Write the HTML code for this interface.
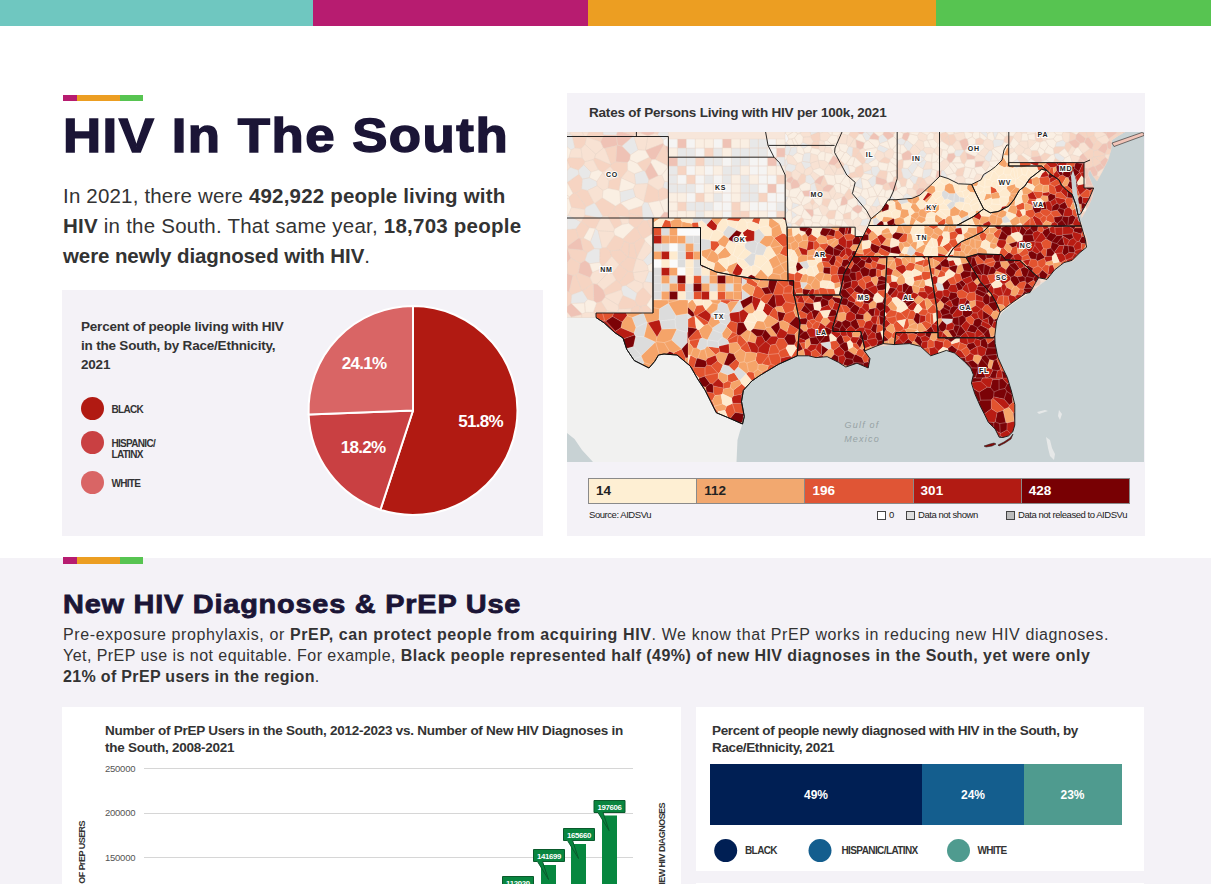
<!DOCTYPE html>
<html><head><meta charset="utf-8">
<style>
*{margin:0;padding:0;box-sizing:border-box}
html,body{width:1211px;height:884px;overflow:hidden;background:#fff}
body{font-family:"Liberation Sans",sans-serif;color:#333;position:relative}
.a{position:absolute}
.bar{position:absolute;top:0;height:26px}
.acc{position:absolute;height:6px}
.sec2{position:absolute;left:0;top:558px;width:1211px;height:326px;background:#f4f2f7}
.card{position:absolute;background:#f4f2f7}
.wcard{position:absolute;background:#fff}
h1{position:absolute;font-family:"Liberation Sans",sans-serif;font-weight:700;color:#1b1536;white-space:nowrap}
.p1{position:absolute;left:63px;top:181px;width:520px;white-space:nowrap;font-size:20.5px;line-height:30px;color:#333;letter-spacing:0}
.p1 b{font-weight:700}
.ct{position:absolute;font-weight:700;color:#333;font-size:13.5px;line-height:19px}
.lg{position:absolute;font-weight:700;font-size:10px;color:#333;line-height:11px;letter-spacing:-0.7px}
.dot{position:absolute;border-radius:50%}
.p2{position:absolute;left:63px;top:624px;width:1140px;font-size:16px;line-height:21px;color:#333;letter-spacing:0.55px;white-space:nowrap}
</style></head><body>
<div class="bar" style="left:0;width:313px;background:#6fc7c0"></div>
<div class="bar" style="left:313px;width:275px;background:#b71c70"></div>
<div class="bar" style="left:588px;width:348px;background:#ec9e22"></div>
<div class="bar" style="left:936px;width:275px;background:#57c451"></div>

<div class="acc" style="left:63px;top:95px;width:14px;background:#b71c70"></div>
<div class="acc" style="left:77px;top:95px;width:43px;background:#ec9e22"></div>
<div class="acc" style="left:120px;top:95px;width:23px;background:#57c451"></div>

<h1 style="left:63px;top:108px;font-size:48px;line-height:56px;letter-spacing:1.35px;transform:scaleX(1.1);transform-origin:0 0;-webkit-text-stroke:1.4px #1b1536">HIV In The South</h1>

<div class="p1"><span style="letter-spacing:0.18px">In 2021, there were <b>492,922 people living with</b></span><br><span style="letter-spacing:0.23px"><b>HIV</b> in the South. That same year, <b>18,703 people</b></span><br><span style="letter-spacing:-0.1px"><b>were newly diagnosed with HIV</b>.</span></div>

<!-- pie card -->
<div class="card" style="left:62px;top:290px;width:481px;height:246px"></div>
<div class="ct" style="left:81px;top:317px;width:230px;letter-spacing:-0.2px">Percent of people living with HIV<br>in the South, by Race/Ethnicity,<br>2021</div>
<div class="dot" style="left:81px;top:397px;width:23px;height:23px;background:#b11a12"></div>
<div class="dot" style="left:81px;top:431px;width:23px;height:23px;background:#c94042"></div>
<div class="dot" style="left:81px;top:471px;width:23px;height:23px;background:#d96565"></div>
<div class="lg" style="left:111.5px;top:404px">BLACK</div>
<div class="lg" style="left:111.5px;top:438px">HISPANIC/<br>LATINX</div>
<div class="lg" style="left:111.5px;top:478px">WHITE</div>
<svg class="a" style="left:0;top:0" width="1211" height="884" viewBox="0 0 1211 884">
<g stroke="#fff" stroke-width="2" stroke-linejoin="round">
<path d="M413,410.5 L413.0,306.0 A104.5,104.5 0 1 1 380.4,509.8 Z" fill="#b11a12"/>
<path d="M413,410.5 L380.4,509.8 A104.5,104.5 0 0 1 308.6,414.5 Z" fill="#c94042"/>
<path d="M413,410.5 L308.6,414.5 A104.5,104.5 0 0 1 413.0,306.0 Z" fill="#d96565"/>
</g>
<g font-family="Liberation Sans" font-weight="700" font-size="17" fill="#fff" text-anchor="middle" letter-spacing="-0.7">
<text x="480.5" y="427">51.8%</text>
<text x="363" y="452.5">18.2%</text>
<text x="364" y="369">24.1%</text>
</g>
</svg>

<!-- map card -->
<div class="card" style="left:567px;top:93px;width:578px;height:443px"></div>
<div class="ct a" style="left:589px;top:103px;font-size:13.5px;letter-spacing:-0.2px;white-space:nowrap">Rates of Persons Living with HIV per 100k, 2021</div>
<svg class="a" style="left:0;top:0" width="1211" height="884" viewBox="0 0 1211 884"><defs><clipPath id="mc"><rect x="567" y="132" width="577" height="330"/></clipPath></defs><g clip-path="url(#mc)"><rect x="567" y="132" width="577" height="330" fill="#c8d2d4"/>
<polygon points="567.0,317.5 596.0,317.5 604.3,323.0 614.6,332.5 623.0,338.0 626.7,349.3 634.2,360.5 649.0,368.0 654.7,361.4 658.5,355.0 664.0,354.0 677.0,355.0 690.2,366.0 697.7,379.0 705.1,390.3 710.7,401.5 716.3,412.7 727.5,417.4 742.5,424.0 740.0,431.0 737.5,440.0 736.5,462.0 593.0,462.0 582.0,450.0 574.5,439.0 567.0,433.0" fill="#f1f1f0"/>
<polygon points="567.0,132.0 1125.0,132.0 1118.0,136.0 1112.0,140.0 1111.0,150.0 1108.0,160.0 1102.0,172.0 1097.0,181.0 1093.0,176.0 1090.0,170.0 1088.0,174.0 1092.0,184.0 1094.0,188.0 1092.0,198.0 1089.0,205.0 1085.0,212.0 1081.0,219.0 1080.6,214.0 1081.6,226.0 1086.0,236.5 1088.0,244.0 1080.6,251.4 1073.0,261.0 1064.0,262.6 1054.5,270.0 1047.0,279.4 1039.6,285.0 1030.0,292.5 1022.8,297.0 1011.6,304.5 1002.2,312.0 996.6,321.0 994.8,336.0 995.1,343.6 997.8,357.1 1003.3,369.3 1007.3,377.5 1011.4,391.0 1014.8,404.6 1014.8,425.0 1012.8,431.8 1008.7,435.8 1003.0,437.5 999.2,437.2 995.1,429.0 988.3,422.3 984.3,414.0 980.2,406.0 974.8,393.8 971.4,383.0 973.4,374.8 970.7,368.0 964.0,361.2 954.4,353.0 946.3,350.4 939.0,353.0 930.7,355.8 920.5,346.4 909.3,343.6 894.4,344.6 875.7,346.4 864.5,351.0 870.0,358.6 868.2,368.0 857.0,363.2 845.8,367.0 838.4,362.3 827.2,356.7 816.0,357.6 808.5,355.8 797.3,355.8 778.7,364.2 760.0,375.4 751.8,381.0 743.4,390.3 741.5,401.5 744.3,416.5 742.5,424.0 727.5,417.4 716.3,412.7 710.7,401.5 705.1,390.3 697.7,379.0 690.2,366.0 677.0,355.0 664.0,354.0 658.5,355.0 654.7,361.4 649.0,368.0 634.2,360.5 626.7,349.3 623.0,338.0 614.6,332.5 604.3,323.0 596.0,317.5 567.0,317.5" fill="#f7e6da"/>
<g stroke="#e8d6cb" stroke-width="0.4">
<path fill="#f6d4c2" d="M654.5,133.4 L657.5,134.4 L659.3,132.0 L654.2,132.0ZM586.7,137.2 L600.6,141.8 L603.6,135.1 L602.9,132.0 L588.7,132.0 L586.3,136.3ZM633.8,135.4 L635.2,133.9 L634.6,132.0 L622.6,132.0ZM641.1,133.2 L641.3,132.0 L634.6,132.0 L635.2,133.9ZM571.9,134.9 L574.8,148.1 L581.0,148.7 L585.1,144.4 L586.7,137.2 L586.3,136.3 L583.8,135.5ZM615.9,161.8 L616.8,145.6 L604.7,148.3 L610.8,164.5ZM668.4,160.9 L668.4,156.8 L665.4,145.8 L663.9,144.5 L655.3,159.6 L666.7,165.2ZM570.0,167.2 L578.4,170.3 L583.8,164.8 L585.2,161.7 L582.2,157.8 L568.8,157.5 L567.0,159.4 L567.0,160.4ZM593.0,159.6 L598.3,169.8 L602.6,172.6 L602.6,172.6 L610.2,166.8 L610.8,164.6 L594.6,157.6ZM627.7,170.2 L627.6,162.4 L615.9,161.8 L610.8,164.5 L610.8,164.6 L610.2,166.8 L619.3,177.1 L621.3,178.0 L621.4,178.0ZM642.9,170.7 L645.1,171.3 L650.8,162.3 L651.8,159.8 L649.2,157.2 L636.9,163.1ZM666.7,165.2 L667.7,167.5 L668.4,167.8 L668.4,160.9ZM572.9,193.3 L576.2,192.9 L581.7,189.0 L582.5,179.1 L579.0,174.1 L567.2,182.4ZM608.8,180.6 L607.9,188.3 L619.1,190.5 L621.3,178.0 L619.3,177.1ZM586.2,207.1 L576.2,192.9 L572.9,193.3 L569.4,196.8 L568.6,198.2 L571.3,207.4 L584.8,209.6ZM587.6,190.4 L581.7,189.0 L576.2,192.9 L586.2,207.1 L594.2,203.1ZM644.0,202.1 L648.3,202.8 L659.2,200.7 L658.1,190.0 L648.0,183.4 L647.7,183.6 L643.7,201.3ZM662.8,187.3 L658.1,190.0 L659.2,200.7 L659.8,201.1 L668.4,197.8 L668.4,189.6ZM615.6,205.9 L602.3,197.7 L594.8,203.2 L602.9,216.4 L607.6,216.3 L613.9,209.6ZM628.6,217.4 L629.3,213.5 L628.8,210.2 L620.5,202.9 L615.6,205.9 L613.9,209.6 L619.1,215.8ZM642.7,217.2 L642.0,205.8 L628.8,210.2 L629.3,213.5ZM584.7,214.8 L581.5,221.5 L589.5,227.7 L595.2,228.6 L595.6,228.5 L600.8,218.2ZM613.9,209.6 L607.6,216.3 L614.5,228.9 L622.2,224.4 L619.1,215.8ZM628.7,223.3 L634.3,227.6 L636.7,228.1 L643.7,220.0 L642.7,217.2 L629.3,213.5 L628.6,217.4ZM646.8,220.2 L650.6,227.5 L653.0,226.8 L653.0,218.2ZM654.6,217.7 L653.6,218.0 L657.5,218.0ZM567.0,229.6 L567.0,245.1 L567.7,246.1 L578.7,237.9 L575.8,228.8ZM575.8,228.8 L578.7,237.9 L580.5,238.4 L583.6,237.9 L589.5,227.7 L581.5,221.5 L580.9,221.8ZM634.3,227.6 L622.9,238.8 L624.3,241.1 L629.5,243.5 L633.7,243.0 L641.8,237.6 L636.7,228.1ZM641.8,237.6 L644.3,238.8 L650.9,234.5 L650.6,227.5 L646.8,220.2 L643.7,220.0 L636.7,228.1ZM568.0,248.7 L567.7,246.1 L567.0,245.1 L567.0,249.5 L567.8,249.1ZM580.5,238.4 L583.2,250.2 L587.5,252.8 L594.6,248.6 L590.4,241.5 L583.6,237.9ZM614.7,235.0 L606.1,247.5 L610.0,251.0 L620.6,249.9 L624.3,241.1 L622.9,238.8ZM628.3,257.1 L629.5,243.5 L624.3,241.1 L620.6,249.9 L627.7,257.2ZM633.7,243.0 L637.1,257.2 L645.2,240.9 L644.3,238.8 L641.8,237.6ZM584.9,260.5 L587.5,252.8 L583.2,250.2 L568.0,248.7 L567.8,249.1 L570.9,258.0 L580.2,263.3ZM611.7,256.3 L610.0,251.0 L606.1,247.5 L602.2,247.7 L599.7,248.9 L599.5,262.5 L602.7,267.0ZM620.6,249.9 L610.0,251.0 L611.7,256.3 L618.9,264.5 L619.5,264.4 L627.7,257.2ZM636.9,258.7 L637.1,257.2 L633.7,243.0 L629.5,243.5 L628.3,257.1 L636.4,258.9ZM567.7,274.0 L567.1,262.8 L567.0,262.8 L567.0,274.1ZM580.2,263.3 L570.9,258.0 L567.1,262.8 L567.7,274.0 L572.9,275.5 L575.6,274.9 L578.3,273.0ZM628.3,257.1 L627.7,257.2 L619.5,264.4 L628.0,271.4 L632.8,271.9 L636.4,258.9ZM575.6,274.9 L581.9,290.9 L582.3,290.9 L592.8,283.7 L590.0,277.6 L578.3,273.0ZM619.4,282.5 L628.0,271.4 L619.5,264.4 L618.9,264.5 L612.4,273.6 L616.1,280.0ZM628.0,271.4 L619.4,282.5 L622.1,286.3 L626.0,285.4 L634.6,280.0 L633.2,272.6 L632.8,271.9ZM572.9,275.5 L569.1,292.0 L571.8,294.8 L581.9,290.9 L575.6,274.9ZM587.7,299.4 L593.8,301.1 L593.3,283.8 L592.8,283.7 L582.3,290.9ZM605.3,295.5 L621.4,289.8 L622.1,286.3 L619.4,282.5 L616.1,280.0 L603.3,289.9ZM571.0,303.2 L571.8,294.8 L569.1,292.0 L567.0,291.3 L567.0,306.5ZM618.6,309.3 L631.0,308.8 L637.3,305.2 L635.0,300.5 L622.9,295.3 L618.1,305.1ZM637.0,293.1 L635.0,300.5 L637.3,305.2 L640.0,306.4 L640.5,306.4 L646.7,305.1 L652.0,296.5 L643.1,287.1ZM593.3,312.4 L596.0,316.8 L596.0,316.8 L596.0,313.0 L605.0,313.0 L607.3,310.8 L601.3,301.4 L596.5,303.0ZM640.0,306.4 L637.3,305.2 L631.0,308.8 L630.6,313.0 L638.9,313.0ZM651.7,310.1 L646.7,305.1 L640.5,306.4 L643.4,313.0 L651.3,313.0ZM640.5,306.4 L640.0,306.4 L638.9,313.0 L643.4,313.0ZM704.4,148.0 L704.4,157.0 L713.4,157.0 L713.4,148.0ZM695.4,157.0 L695.4,166.0 L704.4,166.0 L704.4,157.0ZM677.4,166.0 L677.4,175.0 L686.4,175.0 L686.4,166.0ZM686.4,175.0 L686.4,184.0 L695.4,184.0 L695.4,175.0ZM776.4,175.0 L776.4,184.0 L785.0,184.0 L785.0,175.0ZM695.4,193.0 L695.4,202.0 L704.4,202.0 L704.4,193.0ZM758.4,193.0 L758.4,202.0 L767.4,202.0 L767.4,193.0ZM677.4,202.0 L677.4,211.0 L686.4,211.0 L686.4,202.0ZM731.4,202.0 L731.4,211.0 L740.4,211.0 L740.4,202.0ZM740.4,211.0 L731.4,211.0 L731.4,218.0 L740.4,218.0ZM749.4,211.0 L740.4,211.0 L740.4,218.0 L749.4,218.0ZM776.4,211.0 L776.4,218.0 L785.0,218.0 L785.0,211.0ZM817.7,132.2 L819.7,132.9 L819.8,132.0 L817.6,132.0ZM859.1,134.1 L857.7,132.0 L850.4,132.0 L848.5,134.8 L854.0,138.9 L855.5,139.0ZM893.8,134.6 L895.4,132.0 L889.1,132.0ZM1069.7,133.0 L1071.4,132.2 L1071.4,132.0 L1063.8,132.0ZM1085.8,138.6 L1087.0,137.5 L1086.4,132.0 L1078.9,132.0 L1078.6,132.7ZM1087.0,137.5 L1088.9,137.3 L1094.3,135.3 L1094.8,132.0 L1086.4,132.0ZM1116.8,133.1 L1117.1,133.2 L1120.4,132.0 L1116.4,132.0ZM817.7,132.2 L810.9,135.1 L810.2,136.8 L813.2,141.6 L819.4,141.0 L820.4,140.4 L820.0,133.1 L819.7,132.9ZM945.9,132.0 L945.4,132.0 L939.2,133.9 L941.6,141.2 L941.9,141.2 L948.3,135.8 L949.0,134.7ZM948.3,135.8 L950.1,145.6 L952.2,145.5 L956.8,140.2 L953.7,133.9 L949.0,134.7ZM1006.9,135.6 L1004.9,137.1 L1003.6,140.0 L1003.9,141.9 L1009.8,144.3 L1013.6,137.6 L1013.1,136.2ZM1035.3,140.3 L1036.5,141.6 L1040.1,142.5 L1043.3,141.0 L1040.5,135.2 L1035.4,132.7 L1034.7,133.5ZM1075.4,139.1 L1076.2,134.6 L1071.4,132.2 L1069.7,133.0 L1069.1,141.6ZM1088.9,137.3 L1093.6,144.5 L1096.9,139.5 L1096.8,138.5 L1094.3,135.3ZM1111.8,141.9 L1112.0,140.0 L1118.0,136.0 L1118.5,135.7 L1117.1,133.2 L1116.8,133.1 L1108.8,138.9 L1109.0,140.7ZM1122.4,132.0 L1120.4,132.0 L1117.1,133.2 L1118.5,135.7 L1123.7,132.7ZM819.4,141.0 L813.2,141.6 L811.0,145.1 L811.5,147.9 L819.0,149.2ZM941.9,141.2 L949.2,146.0 L950.1,145.6 L948.3,135.8ZM983.0,144.4 L984.3,140.2 L979.9,137.6 L975.5,139.3 L975.5,143.9 L977.4,145.3ZM1065.8,142.6 L1064.5,146.5 L1064.6,148.4 L1068.0,152.9 L1072.2,145.9 L1068.5,142.1ZM1092.1,149.1 L1093.8,150.6 L1097.6,149.9 L1102.6,144.1 L1096.9,139.5 L1093.6,144.5ZM859.5,151.3 L860.1,149.5 L856.6,147.7 L853.0,147.5 L851.9,156.8 L855.1,157.3 L855.2,157.3ZM1037.5,150.2 L1031.3,150.5 L1031.1,157.3 L1040.3,155.7ZM1055.1,146.6 L1053.1,148.5 L1054.1,153.9 L1058.4,153.2 L1064.6,148.4 L1064.5,146.5ZM1087.8,159.3 L1092.5,157.9 L1093.7,156.5 L1093.8,150.6 L1092.1,149.1 L1089.9,148.6 L1083.2,153.3ZM1093.7,156.5 L1094.6,157.1 L1105.3,154.9 L1105.3,154.8 L1105.1,154.0 L1097.6,149.9 L1093.8,150.6ZM1105.1,154.0 L1105.3,154.8 L1109.7,154.3 L1111.0,150.0 L1111.0,149.8 L1107.6,148.3ZM859.5,151.3 L855.2,157.3 L862.2,164.3 L862.4,164.3 L864.8,162.9 L865.5,160.4ZM878.8,161.7 L878.9,161.9 L888.4,163.8 L890.1,161.6 L890.3,159.4 L884.8,156.7ZM964.8,150.6 L964.1,150.5 L959.6,156.6 L961.8,162.9 L964.3,164.6 L967.1,159.8 L965.9,152.6ZM1028.4,160.8 L1021.0,154.6 L1017.9,155.5 L1017.1,159.3 L1020.0,162.4 L1021.0,162.6 L1027.5,162.6ZM1042.6,161.3 L1046.4,160.0 L1051.3,154.9 L1044.7,152.6 L1040.6,155.9 L1042.4,161.3ZM1094.6,157.1 L1093.7,156.5 L1092.5,157.9 L1093.0,166.1 L1094.7,166.5 L1100.3,163.3 L1100.4,161.4ZM1105.3,157.2 L1105.3,154.9 L1094.6,157.1 L1100.4,161.4ZM844.6,164.1 L840.2,160.1 L834.5,165.3 L836.8,169.1 L843.1,167.1ZM902.9,168.0 L903.4,160.5 L902.2,159.3 L898.2,160.4 L896.1,165.9 L897.4,168.9 L901.3,169.2ZM1011.8,162.3 L1008.8,161.4 L1008.7,161.4 L1008.7,162.6 L1011.9,162.6ZM1060.7,161.4 L1055.2,158.0 L1053.2,162.6 L1060.2,162.6ZM1085.4,167.3 L1087.5,168.7 L1093.0,166.1 L1092.5,157.9 L1087.8,159.3 L1085.5,162.4ZM787.0,179.1 L791.9,176.2 L791.8,172.1 L786.2,170.6 L785.0,174.7 L785.0,176.3ZM847.2,176.0 L849.1,178.3 L859.1,177.3 L854.6,171.7 L850.1,173.0ZM863.9,172.1 L862.4,164.3 L862.2,164.3 L855.6,167.7 L854.6,171.7 L859.1,177.3 L860.1,177.8 L861.0,177.9 L863.9,173.5ZM886.4,179.7 L887.7,171.7 L886.9,170.9 L880.1,170.0 L876.1,176.5ZM903.3,177.4 L901.3,169.2 L897.4,168.9 L895.6,170.4 L896.6,176.1 L899.8,178.8ZM957.4,168.9 L955.0,173.5 L956.9,176.4 L962.9,176.0 L965.1,166.9 L964.9,166.7ZM803.9,173.8 L801.3,173.6 L797.3,180.6 L800.1,185.2 L805.5,182.2 L806.0,175.5ZM820.5,184.9 L823.0,187.7 L827.7,184.2 L824.2,175.7ZM898.9,180.1 L899.8,178.8 L896.6,176.1 L893.5,177.6 L892.7,181.2 L895.2,181.8ZM901.2,186.9 L905.6,186.5 L907.3,179.2 L903.3,177.4 L899.8,178.8 L898.9,180.1ZM918.5,185.0 L923.0,178.2 L922.1,177.2 L918.1,177.0 L915.5,183.6ZM1096.8,175.5 L1093.3,176.4 L1097.0,181.0 L1099.3,176.9ZM814.6,182.7 L817.2,191.3 L821.8,191.7 L822.5,190.8 L823.0,187.7 L820.5,184.9 L814.6,182.6ZM887.3,182.6 L882.8,185.3 L882.7,188.6 L885.4,190.8 L891.1,189.4 L887.9,182.8ZM912.3,188.4 L916.1,191.1 L919.1,187.9 L918.5,185.0 L915.5,183.6 L913.7,183.9ZM919.1,187.9 L924.6,188.2 L926.6,186.3 L927.3,184.1 L924.1,178.8 L923.0,178.2 L918.5,185.0ZM927.3,184.1 L926.6,186.3 L927.8,187.7 L930.6,185.2 L932.1,183.7ZM844.3,194.7 L844.3,195.7 L847.8,200.5 L854.1,197.7 L850.0,189.3 L849.0,188.3ZM926.6,186.3 L924.6,188.2 L924.5,190.9 L927.8,187.7ZM809.8,202.1 L812.3,206.0 L815.2,202.3 L812.8,198.5 L812.4,198.4ZM827.6,207.4 L831.5,198.8 L822.7,198.5 L821.6,204.4ZM911.7,198.4 L912.0,198.4 L918.5,195.6 L916.5,194.3 L912.3,196.6ZM828.6,219.3 L834.5,218.8 L836.3,210.1 L829.0,210.2 L825.5,215.6ZM844.3,213.6 L842.9,214.6 L843.4,218.9 L850.8,218.9 L851.0,211.8ZM1083.7,211.8 L1078.2,215.8 L1079.4,219.7 L1081.0,219.2 L1081.0,219.0 L1085.0,212.0 L1085.3,211.5ZM803.5,220.7 L803.7,219.0 L801.6,216.9 L794.4,223.6 L799.3,226.6ZM1079.4,219.7 L1080.6,223.8 L1081.4,224.0 L1081.0,219.2ZM835.2,224.9 L834.6,225.6 L834.3,227.2 L841.8,227.2 L841.4,226.1ZM1087.8,243.6 L1086.1,244.2 L1086.3,245.7 L1088.0,244.0ZM1069.4,261.1 L1064.0,262.6 L1069.9,261.6ZM886.5,343.9 L883.2,343.6 L879.7,344.9 L879.9,346.0 L886.7,345.3Z"/>
<path fill="#e8e8e8" d="M570.0,134.1 L570.5,132.0 L567.0,132.0 L567.0,134.8ZM603.6,135.1 L616.3,135.3 L617.5,132.0 L602.9,132.0ZM657.5,134.4 L663.2,140.1 L668.4,137.1 L668.4,132.0 L659.3,132.0ZM571.0,150.1 L574.8,148.1 L571.9,134.9 L570.0,134.1 L567.0,134.8 L567.0,146.8ZM630.6,154.9 L638.2,150.0 L633.7,135.8 L621.8,146.1ZM567.2,182.4 L579.0,174.1 L578.4,170.3 L570.0,167.2 L567.0,170.4 L567.0,182.3ZM583.8,164.8 L578.4,170.3 L579.0,174.1 L582.5,179.1 L589.4,177.7 L591.1,172.1ZM635.5,184.3 L647.7,183.6 L648.0,183.4 L649.0,180.0 L645.1,171.3 L642.9,170.7 L634.3,173.7ZM597.2,185.8 L596.8,181.3 L589.4,177.7 L582.5,179.1 L581.7,189.0 L587.6,190.4ZM664.4,181.2 L662.8,187.3 L668.4,189.6 L668.4,181.9ZM619.8,191.7 L620.5,202.9 L635.7,197.1 L633.2,188.6ZM594.8,203.2 L594.2,203.1 L586.2,207.1 L584.8,209.6 L584.7,214.8 L600.8,218.2 L602.9,216.4ZM646.8,220.2 L653.0,218.2 L653.0,218.0 L653.6,218.0 L654.6,217.7 L648.3,202.8 L644.0,202.1 L642.0,205.8 L642.7,217.2 L643.7,220.0ZM567.0,215.7 L567.0,229.6 L575.8,228.8 L580.9,221.8 L568.2,215.1ZM595.6,228.5 L595.2,228.6 L590.4,241.5 L594.6,248.6 L599.7,248.9 L602.2,247.7 L598.2,230.7ZM599.7,248.9 L594.6,248.6 L587.5,252.8 L584.9,260.5 L589.6,263.7 L599.5,262.5ZM653.0,262.5 L653.0,249.4 L643.0,260.4 L647.5,265.7ZM648.8,270.9 L644.6,281.7 L653.0,283.2 L653.0,271.9ZM626.0,285.4 L622.1,286.3 L621.4,289.8 L622.9,295.3 L635.0,300.5 L637.0,293.1ZM584.6,303.0 L587.7,299.4 L582.3,290.9 L581.9,290.9 L571.8,294.8 L571.0,303.2 L571.5,303.5ZM617.8,311.0 L616.3,312.3 L616.1,313.0 L619.8,313.0ZM749.4,139.0 L749.4,148.0 L758.4,148.0 L758.4,139.0ZM758.4,139.0 L758.4,148.0 L767.4,148.0 L767.4,139.0ZM677.4,148.0 L677.4,157.0 L686.4,157.0 L686.4,148.0ZM686.4,148.0 L686.4,157.0 L695.4,157.0 L695.4,148.0ZM713.4,148.0 L713.4,157.0 L722.4,157.0 L722.4,148.0ZM731.4,148.0 L731.4,157.0 L740.4,157.0 L740.4,148.0ZM740.4,148.0 L740.4,157.0 L749.4,157.0 L749.4,148.0ZM749.4,148.0 L749.4,157.0 L758.4,157.0 L758.4,148.0ZM758.4,148.0 L758.4,157.0 L767.4,157.0 L767.4,148.0ZM677.4,157.0 L677.4,166.0 L686.4,166.0 L686.4,157.0ZM686.4,157.0 L686.4,166.0 L695.4,166.0 L695.4,157.0ZM704.4,157.0 L704.4,166.0 L713.4,166.0 L713.4,157.0ZM713.4,157.0 L713.4,166.0 L722.4,166.0 L722.4,157.0ZM731.4,157.0 L731.4,166.0 L740.4,166.0 L740.4,157.0ZM740.4,157.0 L740.4,166.0 L749.4,166.0 L749.4,157.0ZM776.4,157.0 L776.4,166.0 L785.0,166.0 L785.0,157.0ZM677.4,175.0 L677.4,166.0 L668.4,166.0 L668.4,175.0ZM722.4,166.0 L722.4,175.0 L731.4,175.0 L731.4,166.0ZM731.4,166.0 L731.4,175.0 L740.4,175.0 L740.4,166.0ZM677.4,184.0 L677.4,175.0 L668.4,175.0 L668.4,184.0ZM704.4,175.0 L704.4,184.0 L713.4,184.0 L713.4,175.0ZM722.4,175.0 L722.4,184.0 L731.4,184.0 L731.4,175.0ZM740.4,175.0 L740.4,184.0 L749.4,184.0 L749.4,175.0ZM677.4,193.0 L677.4,184.0 L668.4,184.0 L668.4,193.0ZM677.4,184.0 L677.4,193.0 L686.4,193.0 L686.4,184.0ZM686.4,184.0 L686.4,193.0 L695.4,193.0 L695.4,184.0ZM740.4,184.0 L740.4,193.0 L749.4,193.0 L749.4,184.0ZM749.4,184.0 L749.4,193.0 L758.4,193.0 L758.4,184.0ZM713.4,193.0 L713.4,202.0 L722.4,202.0 L722.4,193.0ZM740.4,193.0 L740.4,202.0 L749.4,202.0 L749.4,193.0ZM749.4,193.0 L749.4,202.0 L758.4,202.0 L758.4,193.0ZM686.4,202.0 L686.4,211.0 L695.4,211.0 L695.4,202.0ZM695.4,202.0 L695.4,211.0 L704.4,211.0 L704.4,202.0ZM704.4,202.0 L704.4,211.0 L713.4,211.0 L713.4,202.0ZM776.4,202.0 L776.4,211.0 L785.0,211.0 L785.0,202.0ZM704.4,211.0 L695.4,211.0 L695.4,218.0 L704.4,218.0ZM817.6,132.0 L810.1,132.0 L810.9,135.1 L817.7,132.2ZM870.6,136.2 L873.9,132.6 L873.9,132.0 L866.2,132.0ZM909.6,133.3 L910.1,132.0 L907.2,132.0 L907.3,132.2ZM986.1,132.0 L979.8,132.0 L987.3,138.1 L987.7,133.6ZM994.6,139.2 L995.2,139.0 L998.5,132.0 L992.7,132.0ZM862.2,134.3 L866.0,141.2 L868.3,140.5 L869.5,139.1 L870.6,136.2 L866.2,132.0 L864.1,132.0ZM888.0,139.9 L882.8,134.3 L879.1,136.4 L878.4,140.1 L879.6,143.8 L887.5,141.0ZM786.6,142.7 L786.6,142.6 L785.0,142.5 L785.0,148.2ZM802.7,142.0 L799.9,145.3 L803.2,149.1 L809.2,144.9ZM905.8,140.8 L901.8,138.1 L896.5,139.5 L897.2,143.7 L900.5,145.0 L903.5,145.0ZM909.5,150.9 L913.3,145.1 L907.3,140.3 L905.8,140.8 L903.5,145.0 L907.4,150.6ZM975.5,143.9 L969.0,146.2 L968.1,148.1 L976.9,152.1 L977.4,145.3ZM992.7,140.9 L993.7,147.8 L1002.3,145.6 L1003.9,141.9 L1003.6,140.0 L995.2,139.0 L994.6,139.2ZM1063.0,139.8 L1056.3,142.2 L1055.1,146.6 L1064.5,146.5 L1065.8,142.6ZM791.2,147.5 L786.6,142.7 L785.0,148.2 L785.0,154.5 L787.1,155.4 L788.7,154.9ZM794.8,146.7 L791.2,147.5 L788.7,154.9 L792.7,156.2 L797.2,152.7 L796.9,146.7ZM849.4,146.3 L848.5,146.4 L846.1,152.3 L851.1,156.9 L851.9,156.8 L853.0,147.5ZM889.0,149.0 L879.3,144.7 L877.0,148.0 L877.4,150.1 L884.0,153.0ZM917.6,155.0 L924.2,158.4 L926.8,154.1 L923.0,149.9 L920.7,150.6ZM955.7,150.0 L954.0,152.9 L955.7,156.8 L959.6,156.6 L964.1,150.5 L962.7,149.6ZM803.1,154.7 L802.2,161.3 L810.0,162.5 L810.9,153.4 L810.2,152.5 L804.6,153.0ZM874.7,155.2 L869.0,155.5 L865.5,160.4 L864.8,162.9 L867.8,163.9 L876.2,158.6ZM913.0,159.5 L913.7,161.4 L917.4,164.7 L924.4,159.6 L924.2,158.4 L917.6,155.0 L913.5,156.9ZM985.2,160.1 L989.1,162.0 L990.7,161.1 L992.7,153.8 L991.7,150.0 L989.3,150.4 L984.4,157.2ZM1054.0,154.0 L1055.2,158.0 L1060.7,161.4 L1063.2,160.8 L1065.1,157.9 L1058.4,153.2 L1054.1,153.9ZM785.0,160.2 L785.0,168.3 L788.0,163.2 L786.6,158.8ZM795.3,169.5 L796.2,165.3 L788.0,163.2 L785.0,168.3 L785.0,169.7 L786.2,170.6 L791.8,172.1ZM801.1,162.1 L805.0,169.6 L811.1,166.3 L810.8,163.1 L810.0,162.5 L802.2,161.3ZM913.7,161.4 L907.6,168.4 L912.3,174.6 L917.8,165.7 L917.4,164.7ZM917.8,165.7 L923.1,169.1 L926.5,161.3 L924.4,159.6 L917.4,164.7ZM1020.0,162.4 L1017.1,159.3 L1011.8,162.3 L1011.9,162.6 L1020.0,162.6ZM786.2,170.6 L785.0,169.7 L785.0,174.7ZM844.0,174.2 L845.8,175.8 L847.2,176.0 L850.1,173.0 L848.1,165.2 L846.1,163.9 L844.6,164.1 L843.1,167.1ZM871.0,169.4 L863.9,172.1 L863.9,173.5 L872.2,174.8ZM873.3,175.7 L876.0,176.5 L876.1,176.5 L880.1,170.0 L878.0,166.0 L871.6,166.7 L871.0,169.4 L872.2,174.8ZM907.3,179.2 L909.4,178.4 L912.4,175.2 L912.3,174.6 L907.6,168.4 L902.9,168.0 L901.3,169.2 L903.3,177.4ZM924.1,178.8 L930.0,175.9 L932.6,169.3 L932.1,168.7 L923.3,169.4 L922.1,177.2 L923.0,178.2ZM815.0,181.0 L810.4,174.5 L806.0,175.5 L805.5,182.2 L810.7,184.5 L814.6,182.7 L814.6,182.6ZM867.6,180.3 L871.6,186.9 L872.9,187.0 L875.9,184.0 L876.0,176.5 L873.3,175.7ZM913.7,183.9 L915.5,183.6 L918.1,177.0 L912.4,175.2 L909.4,178.4ZM943.6,170.3 L941.3,170.5 L940.6,176.2 L947.1,178.2 L947.0,175.1ZM817.2,191.3 L814.6,182.7 L810.7,184.5 L810.2,190.0 L812.4,193.2ZM861.0,177.9 L860.1,177.8 L852.8,185.4 L862.5,189.4 L863.0,189.0 L861.3,178.3ZM785.0,196.2 L785.0,204.2 L788.4,196.7ZM860.7,195.2 L856.9,198.1 L857.4,204.7 L862.3,206.7 L866.5,204.3 L866.1,199.5ZM871.5,206.0 L876.3,207.0 L880.3,205.1 L877.7,196.3 L877.7,196.3 L877.6,196.3ZM892.0,196.0 L887.8,198.2 L887.7,200.7 L888.3,199.7 L895.8,199.7ZM912.3,196.6 L906.7,193.0 L903.3,195.9 L902.9,199.1 L911.7,198.4ZM788.9,210.1 L785.0,205.1 L785.0,214.6ZM800.6,204.9 L792.3,202.2 L791.5,209.6ZM797.8,215.0 L791.1,210.2 L792.1,218.9ZM866.2,226.2 L870.1,219.6 L868.0,218.4 L862.2,219.6 L859.7,225.4ZM792.0,223.9 L790.7,223.0 L787.9,222.5 L786.4,224.0 L787.0,227.2 L792.1,227.2ZM1040.6,282.3 L1039.4,285.1 L1039.4,285.2 L1039.6,285.0 L1043.9,281.7ZM1012.7,303.6 L1012.5,302.5 L1012.1,302.8 L1007.9,306.1 L1008.9,306.7 L1011.6,304.5 L1012.7,303.8Z"/>
<path fill="#f8e2d3" d="M570.0,134.1 L571.9,134.9 L583.8,135.5 L582.2,132.0 L570.5,132.0ZM583.8,135.5 L586.3,136.3 L588.7,132.0 L582.2,132.0ZM603.4,147.9 L600.6,141.8 L586.7,137.2 L585.1,144.4 L595.8,154.2ZM633.7,135.8 L638.2,150.0 L645.4,150.3 L648.0,135.8 L641.1,133.2 L635.2,133.9 L633.8,135.4ZM648.0,135.8 L645.4,150.3 L645.4,150.3 L663.4,143.3 L663.2,140.1 L657.5,134.4 L654.5,133.4ZM571.0,150.1 L568.8,157.5 L582.2,157.8 L581.0,148.7 L574.8,148.1ZM582.2,157.8 L585.2,161.7 L593.0,159.6 L594.6,157.6 L595.8,154.2 L585.1,144.4 L581.0,148.7ZM610.8,164.6 L610.8,164.5 L604.7,148.3 L603.4,147.9 L595.8,154.2 L594.6,157.6ZM570.0,167.2 L567.0,160.4 L567.0,170.4ZM585.2,161.7 L583.8,164.8 L591.1,172.1 L598.3,169.8 L593.0,159.6ZM610.2,166.8 L602.6,172.6 L608.8,180.6 L619.3,177.1ZM635.3,184.4 L635.5,184.3 L634.3,173.7 L627.7,170.2 L621.4,178.0ZM602.6,172.6 L602.6,172.6 L596.8,181.3 L597.2,185.8 L603.1,190.5 L607.9,188.3 L608.8,180.6ZM633.2,188.6 L635.7,197.1 L643.7,201.3 L647.7,183.6 L635.5,184.3 L635.3,184.4ZM649.0,180.0 L648.0,183.4 L658.1,190.0 L662.8,187.3 L664.4,181.2 L661.9,174.9 L658.4,175.6ZM594.8,203.2 L602.3,197.7 L603.1,190.5 L597.2,185.8 L587.6,190.4 L594.2,203.1ZM571.3,207.4 L568.2,215.1 L580.9,221.8 L581.5,221.5 L584.7,214.8 L584.8,209.6ZM600.8,218.2 L595.6,228.5 L598.2,230.7 L613.9,231.7 L614.5,228.9 L607.6,216.3 L602.9,216.4ZM622.2,224.4 L628.7,223.3 L628.6,217.4 L619.1,215.8ZM602.2,247.7 L606.1,247.5 L614.7,235.0 L613.9,231.7 L598.2,230.7ZM645.2,240.9 L637.1,257.2 L636.9,258.7 L643.0,260.4 L653.0,249.4 L653.0,248.7ZM612.4,273.6 L618.9,264.5 L611.7,256.3 L602.7,267.0 L602.9,268.0 L607.7,272.9ZM647.5,265.7 L643.0,260.4 L636.9,258.7 L636.4,258.9 L632.8,271.9 L633.2,272.6 L648.5,270.4ZM607.7,272.9 L602.9,268.0 L592.5,272.3 L590.0,277.6 L592.8,283.7 L593.3,283.8 L597.1,284.2ZM616.1,280.0 L612.4,273.6 L607.7,272.9 L597.1,284.2 L603.3,289.9ZM633.2,272.6 L634.6,280.0 L642.9,283.3 L644.6,281.7 L648.8,270.9 L648.5,270.4ZM634.6,280.0 L626.0,285.4 L637.0,293.1 L643.1,287.1 L642.9,283.3ZM644.6,281.7 L642.9,283.3 L643.1,287.1 L652.0,296.5 L653.0,296.2 L653.0,283.2ZM601.3,301.4 L607.3,310.8 L616.3,312.3 L617.8,311.0 L618.6,309.3 L618.1,305.1 L605.0,297.2ZM605.0,297.2 L618.1,305.1 L622.9,295.3 L621.4,289.8 L605.3,295.5ZM616.3,312.3 L607.3,310.8 L605.0,313.0 L616.1,313.0ZM618.6,309.3 L617.8,311.0 L619.8,313.0 L630.6,313.0 L631.0,308.8ZM581.7,314.6 L571.1,316.9 L571.2,317.5 L581.6,317.5ZM596.0,316.8 L593.3,312.4 L585.3,312.3 L582.1,313.8 L581.7,314.6 L581.6,317.5 L595.9,317.5ZM651.7,310.1 L651.3,313.0 L653.0,313.0 L653.0,310.3ZM810.1,132.0 L801.6,132.0 L800.4,133.1 L800.2,133.6 L803.1,137.1 L810.2,136.8 L810.9,135.1ZM930.7,132.1 L934.0,134.0 L937.2,132.7 L937.3,132.0 L930.6,132.0ZM972.7,133.6 L973.7,132.0 L967.8,132.0ZM1026.9,132.0 L1020.2,132.0 L1022.2,133.2 L1026.4,133.2ZM1047.0,139.4 L1048.1,132.0 L1041.9,132.0 L1040.5,135.2 L1043.3,141.0 L1045.6,140.9ZM811.0,145.1 L813.2,141.6 L810.2,136.8 L803.1,137.1 L802.7,142.0 L809.2,144.9ZM820.4,140.4 L824.3,141.4 L827.0,140.4 L831.1,135.2 L827.4,132.0 L823.0,132.0 L820.0,133.1ZM837.5,135.9 L838.1,142.6 L838.8,143.6 L846.4,144.3 L847.5,135.1 L840.4,133.3ZM848.5,134.8 L847.5,135.1 L846.4,144.3 L848.5,146.4 L849.4,146.3 L854.0,138.9ZM923.4,141.5 L927.1,140.1 L927.3,135.2 L920.5,132.0 L919.6,132.0 L917.3,135.5 L918.4,139.4ZM939.2,133.9 L937.2,132.7 L934.0,134.0 L933.5,139.3 L937.9,144.0 L941.6,141.2ZM954.0,133.4 L953.7,133.9 L956.8,140.2 L959.3,141.1 L965.5,138.2 L964.0,132.0 L962.6,132.0ZM1016.2,132.1 L1013.1,136.2 L1013.6,137.6 L1018.7,143.0 L1021.1,140.8 L1022.2,133.2 L1020.2,132.0 L1019.1,132.0ZM1069.7,133.0 L1063.8,132.0 L1063.2,132.0 L1061.7,135.1 L1063.0,139.8 L1065.8,142.6 L1068.5,142.1 L1069.1,141.6ZM1094.3,135.3 L1096.8,138.5 L1106.1,134.8 L1106.0,134.0 L1102.6,132.0 L1094.8,132.0ZM1096.9,139.5 L1102.6,144.1 L1106.9,143.3 L1109.0,140.7 L1108.8,138.9 L1106.1,134.8 L1096.8,138.5ZM820.4,140.4 L819.4,141.0 L819.0,149.2 L820.6,151.8 L823.8,151.6 L825.6,146.9 L824.3,141.4ZM855.5,139.0 L854.0,138.9 L849.4,146.3 L853.0,147.5 L856.6,147.7 L855.8,139.4ZM920.7,150.6 L923.0,149.9 L924.4,147.5 L923.4,141.5 L918.4,139.4 L914.7,144.5ZM959.3,141.1 L956.8,140.2 L952.2,145.5 L955.7,150.0 L962.7,149.6ZM989.3,150.4 L991.7,150.0 L993.3,148.8 L993.7,147.8 L992.7,140.9 L987.3,138.6 L984.3,140.2 L983.0,144.4 L984.6,147.4ZM1021.1,140.8 L1018.7,143.0 L1018.7,144.0 L1025.2,148.7 L1028.2,147.9 L1027.6,140.8ZM1027.6,140.8 L1028.2,147.9 L1029.5,148.4 L1036.5,141.6 L1035.3,140.3 L1028.6,139.4ZM1082.6,153.3 L1083.2,153.3 L1089.9,148.6 L1084.3,142.3 L1080.1,143.3 L1078.1,147.3ZM825.6,146.9 L823.8,151.6 L825.3,152.7 L832.0,153.6 L832.2,151.0 L830.7,147.4ZM865.4,149.5 L863.2,148.0 L860.1,149.5 L859.5,151.3 L865.5,160.4 L869.0,155.5ZM890.3,159.4 L892.4,157.5 L894.2,152.3 L892.6,149.3 L890.3,148.5 L889.0,149.0 L884.0,153.0 L884.8,156.7ZM913.5,156.9 L917.6,155.0 L920.7,150.6 L914.7,144.5 L913.3,145.1 L909.5,150.9ZM934.6,148.9 L931.2,147.4 L924.4,147.5 L923.0,149.9 L926.8,154.1 L932.2,153.9 L933.9,152.3ZM942.6,149.7 L937.3,146.3 L934.6,148.9 L933.9,152.3 L939.4,156.7 L940.9,156.9ZM977.7,153.9 L984.4,157.2 L989.3,150.4 L984.6,147.4 L977.7,153.6ZM1009.0,154.9 L1014.4,151.4 L1013.9,148.9 L1012.3,148.0 L1008.7,149.0 L1008.7,154.8ZM1025.2,148.7 L1018.7,144.0 L1013.9,148.9 L1014.4,151.4 L1017.9,155.5 L1021.0,154.6 L1023.0,152.8ZM1031.3,150.5 L1029.5,148.4 L1028.2,147.9 L1025.2,148.7 L1023.0,152.8 L1031.1,157.3 L1031.1,157.3ZM1072.2,154.5 L1075.6,148.4 L1072.2,145.9 L1068.0,152.9 L1069.5,155.4 L1069.8,155.5ZM787.1,155.4 L786.6,158.8 L788.0,163.2 L796.2,165.3 L797.6,163.1 L792.7,156.2 L788.7,154.9ZM810.0,162.5 L810.8,163.1 L818.2,160.7 L818.5,160.3 L817.8,155.2 L810.9,153.4ZM884.0,153.0 L877.4,150.1 L874.7,155.2 L876.2,158.6 L878.8,161.7 L884.8,156.7ZM974.4,159.3 L975.2,161.5 L984.4,161.0 L985.2,160.1 L984.4,157.2 L977.7,153.9 L975.4,156.4ZM1071.9,161.4 L1073.2,162.6 L1077.3,162.6 L1079.8,158.5 L1079.5,156.6 L1072.2,154.5 L1069.8,155.5ZM1105.3,154.8 L1105.3,154.9 L1105.3,157.2 L1108.1,159.8 L1109.7,154.3ZM796.2,165.3 L795.3,169.5 L801.3,173.6 L803.9,173.8 L805.0,169.6 L801.1,162.1 L797.6,163.1ZM818.2,160.7 L810.8,163.1 L811.1,166.3 L813.1,169.9 L820.0,167.8ZM828.8,164.3 L828.5,163.0 L824.7,160.5 L818.5,160.3 L818.2,160.7 L820.0,167.8 L824.3,170.5 L828.7,164.3ZM828.8,164.3 L828.7,164.3 L835.0,174.4 L836.8,169.1 L834.5,165.3ZM871.6,166.7 L867.8,163.9 L864.8,162.9 L862.4,164.3 L863.9,172.1 L871.0,169.4ZM923.3,169.4 L932.1,168.7 L932.0,162.7 L931.6,162.1 L926.5,161.3 L923.1,169.1ZM940.8,170.3 L941.3,170.5 L943.6,170.3 L948.8,165.4 L949.7,163.0 L946.5,159.0 L944.5,158.8 L939.5,163.6ZM985.2,160.1 L984.4,161.0 L981.6,166.4 L985.8,171.4 L989.8,165.4 L989.1,162.0ZM1071.9,161.4 L1070.3,162.6 L1073.2,162.6ZM793.5,178.9 L797.3,180.6 L801.3,173.6 L795.3,169.5 L791.8,172.1 L791.9,176.2ZM810.4,174.5 L812.9,171.3 L813.1,169.9 L811.1,166.3 L805.0,169.6 L803.9,173.8 L806.0,175.5ZM812.9,171.3 L810.4,174.5 L815.0,181.0 L820.2,176.2ZM828.7,164.3 L824.3,170.5 L824.7,174.4 L834.4,175.6 L835.0,174.8 L835.0,174.4ZM836.8,169.1 L835.0,174.4 L835.0,174.8 L844.0,174.2 L843.1,167.1ZM1103.9,167.7 L1097.7,171.9 L1096.8,175.5 L1099.3,176.9 L1102.0,172.0 L1104.1,167.7ZM934.8,179.3 L930.0,175.9 L924.1,178.8 L927.3,184.1 L932.1,183.7 L934.8,181.1ZM965.1,182.0 L965.3,178.6 L962.9,176.0 L956.9,176.4 L954.1,181.2 L954.5,181.8 L958.5,183.8 L960.4,183.9ZM982.6,175.0 L976.7,173.4 L973.9,179.0 L975.7,182.4 L981.0,179.8 L982.2,177.4ZM789.7,190.7 L791.4,189.2 L790.7,183.4 L786.0,181.1 L785.0,181.7 L785.0,187.7ZM812.8,198.5 L822.2,197.8 L821.8,191.7 L817.2,191.3 L812.4,193.2 L811.7,196.6 L812.4,198.4ZM822.2,197.8 L822.7,198.5 L831.5,198.8 L831.7,198.7 L828.7,192.1 L822.5,190.8 L821.8,191.7ZM836.2,192.4 L833.8,186.3 L828.7,192.1 L831.7,198.7 L832.7,198.7ZM844.3,194.7 L840.8,193.0 L836.2,192.4 L832.7,198.7 L834.6,200.1 L841.8,197.5 L844.3,195.7ZM906.7,193.0 L912.3,196.6 L916.5,194.3 L916.1,191.1 L912.3,188.4 L907.3,188.6ZM809.8,202.1 L802.8,205.8 L804.1,209.0 L804.5,209.1 L812.9,209.5 L812.3,206.0ZM812.3,206.0 L812.9,209.5 L813.3,209.7 L818.5,207.3 L819.3,205.9 L815.2,202.3ZM822.6,215.8 L822.7,215.8 L825.5,215.6 L829.0,210.2 L827.6,207.4 L821.6,204.4 L819.3,205.9 L818.5,207.3ZM871.5,206.0 L870.5,206.4 L870.5,206.9 L874.1,213.9 L877.5,211.4 L876.3,207.0ZM880.3,205.1 L876.3,207.0 L877.5,211.4 L879.7,211.7 L881.3,210.4 L883.5,207.0ZM866.6,214.6 L868.0,218.4 L870.1,219.6 L870.2,219.6 L870.8,219.2 L871.0,218.8 L873.5,216.8 L874.1,213.9 L870.5,206.9ZM852.8,220.5 L850.8,218.9 L843.4,218.9 L843.0,219.6 L849.5,227.1 L853.7,226.4ZM859.7,225.4 L862.2,219.6 L858.2,216.4 L852.8,220.5 L853.7,226.4 L854.9,227.2 L855.2,227.2 L855.2,227.4 L856.1,228.1ZM834.6,225.6 L828.3,222.7 L825.7,227.2 L834.3,227.2ZM856.3,228.7 L862.7,233.1 L864.6,233.4 L866.9,228.7 L866.2,226.2 L859.7,225.4 L856.1,228.1ZM1040.6,282.3 L1043.9,281.7 L1047.0,279.4 L1039.3,277.9ZM1039.4,285.1 L1034.3,286.7 L1034.5,289.0 L1039.4,285.2ZM879.7,344.9 L875.7,346.4 L879.9,346.0Z"/>
<path fill="#efc2b5" d="M641.1,133.2 L648.0,135.8 L654.5,133.4 L654.2,132.0 L641.3,132.0ZM600.6,141.8 L603.4,147.9 L604.7,148.3 L616.8,145.6 L617.5,145.1 L616.3,135.3 L603.6,135.1ZM616.3,135.3 L617.5,145.1 L621.8,146.1 L633.7,135.8 L633.8,135.4 L622.6,132.0 L617.5,132.0ZM617.5,145.1 L616.8,145.6 L615.9,161.8 L627.6,162.4 L629.8,159.9 L630.6,154.9 L621.8,146.1ZM649.2,157.2 L651.8,159.8 L655.3,159.6 L663.9,144.5 L663.4,143.3 L645.4,150.3ZM665.4,145.8 L668.4,156.8 L668.4,146.5ZM650.8,162.3 L645.1,171.3 L649.0,180.0 L658.4,175.6ZM664.1,212.0 L659.4,218.0 L668.4,218.0 L668.4,212.2ZM650.6,227.5 L650.9,234.5 L653.0,234.2 L653.0,227.6 L653.0,226.8ZM580.5,238.4 L578.7,237.9 L567.7,246.1 L568.0,248.7 L583.2,250.2ZM567.1,262.8 L570.9,258.0 L567.8,249.1 L567.0,249.5 L567.0,262.8ZM590.0,277.6 L592.5,272.3 L589.6,263.7 L584.9,260.5 L580.2,263.3 L578.3,273.0ZM569.1,292.0 L572.9,275.5 L567.7,274.0 L567.0,274.1 L567.0,291.3ZM597.1,284.2 L593.3,283.8 L593.8,301.1 L596.5,303.0 L601.3,301.4 L605.0,297.2 L605.3,295.5 L603.3,289.9ZM571.1,316.9 L581.7,314.6 L582.1,313.8 L571.5,303.5 L571.0,303.2 L567.0,306.5 L567.0,312.0ZM677.4,139.0 L677.4,148.0 L686.4,148.0 L686.4,139.0ZM722.4,139.0 L722.4,148.0 L731.4,148.0 L731.4,139.0ZM776.4,148.0 L776.4,157.0 L785.0,157.0 L785.0,148.0ZM677.4,166.0 L677.4,157.0 L668.4,157.0 L668.4,166.0ZM767.4,157.0 L767.4,166.0 L776.4,166.0 L776.4,157.0ZM767.4,184.0 L767.4,193.0 L776.4,193.0 L776.4,184.0ZM859.1,134.1 L862.2,134.3 L864.1,132.0 L857.7,132.0ZM1106.0,134.0 L1106.9,132.0 L1102.6,132.0ZM1106.1,134.8 L1108.8,138.9 L1116.8,133.1 L1116.4,132.0 L1106.9,132.0 L1106.0,134.0ZM1123.7,132.7 L1125.0,132.0 L1122.4,132.0ZM879.1,136.4 L873.9,132.6 L870.6,136.2 L869.5,139.1 L878.4,140.1ZM893.8,134.6 L889.1,132.0 L883.6,132.0 L882.8,134.3 L888.0,139.9 L893.7,136.6ZM907.3,140.3 L910.0,133.9 L909.6,133.3 L907.3,132.2 L903.3,133.3 L901.8,138.1 L905.8,140.8ZM1080.1,143.3 L1084.3,142.3 L1085.8,138.6 L1078.6,132.7 L1076.2,134.6 L1075.4,139.1ZM864.7,142.8 L855.8,139.4 L856.6,147.7 L860.1,149.5 L863.2,148.0ZM969.0,146.2 L967.5,139.1 L965.5,138.2 L959.3,141.1 L962.7,149.6 L964.1,150.5 L964.8,150.6 L968.1,148.1ZM1068.5,142.1 L1072.2,145.9 L1075.6,148.4 L1078.1,147.3 L1080.1,143.3 L1075.4,139.1 L1069.1,141.6ZM1084.3,142.3 L1089.9,148.6 L1092.1,149.1 L1093.6,144.5 L1088.9,137.3 L1087.0,137.5 L1085.8,138.6ZM1109.0,140.7 L1106.9,143.3 L1107.6,148.3 L1111.0,149.8 L1111.8,141.9ZM1097.6,149.9 L1105.1,154.0 L1107.6,148.3 L1106.9,143.3 L1102.6,144.1ZM840.2,160.1 L833.9,155.4 L833.3,155.3 L828.5,163.0 L828.8,164.3 L834.5,165.3 L840.2,160.1ZM902.2,159.3 L903.4,160.5 L913.0,159.5 L913.5,156.9 L909.5,150.9 L907.4,150.6 L901.7,153.9ZM948.1,153.4 L946.5,159.0 L949.7,163.0 L951.7,162.6 L955.7,156.8 L954.0,152.9ZM965.9,152.6 L967.1,159.8 L974.4,159.3 L975.4,156.4ZM1042.4,161.3 L1040.6,155.9 L1040.3,155.7 L1031.1,157.3 L1031.1,157.3 L1030.7,158.7 L1036.1,162.6 L1040.7,162.6ZM1079.5,156.6 L1079.8,158.5 L1085.5,162.4 L1087.8,159.3 L1083.2,153.3 L1082.6,153.3ZM981.6,166.4 L984.4,161.0 L975.2,161.5 L974.8,167.5ZM1077.3,162.6 L1084.0,162.6 L1084.0,167.5 L1085.4,167.3 L1085.5,162.4 L1079.8,158.5ZM1094.7,166.5 L1097.7,171.9 L1103.9,167.7 L1100.3,163.3ZM1105.3,157.2 L1100.4,161.4 L1100.3,163.3 L1103.9,167.7 L1104.1,167.7 L1108.0,160.0 L1108.1,159.8ZM941.3,170.5 L940.8,170.3 L936.8,170.7 L935.4,178.4 L938.1,177.9 L940.0,176.0 L940.6,176.2ZM1087.5,168.7 L1085.4,167.3 L1084.0,167.5 L1084.0,178.3 L1085.6,178.7 L1088.8,176.0 L1088.0,174.0 L1088.6,172.9ZM1096.8,175.5 L1097.7,171.9 L1094.7,166.5 L1093.0,166.1 L1087.5,168.7 L1088.6,172.9 L1090.0,170.0 L1093.0,176.0 L1093.3,176.4ZM787.0,179.1 L786.0,181.1 L790.7,183.4 L793.5,178.9 L791.9,176.2ZM824.1,175.3 L820.2,176.2 L815.0,181.0 L814.6,182.6 L820.5,184.9 L824.2,175.7ZM876.0,176.5 L875.9,184.0 L882.8,185.3 L887.3,182.6 L886.4,179.7 L876.1,176.5ZM982.6,175.0 L982.2,177.4 L983.6,174.5 L984.2,174.1ZM1086.5,185.2 L1092.8,185.7 L1092.0,184.0 L1088.8,176.0 L1085.6,178.7 L1085.6,183.8ZM790.7,183.4 L791.4,189.2 L799.3,187.5 L800.1,185.2 L797.3,180.6 L793.5,178.9ZM823.0,187.7 L822.5,190.8 L828.7,192.1 L833.8,186.3 L833.8,185.4 L827.7,184.2ZM892.7,181.2 L887.9,182.8 L891.1,189.4 L893.4,191.7 L896.6,190.4 L897.6,189.1 L895.2,181.8ZM1086.5,185.2 L1085.6,183.8 L1084.0,184.2 L1084.0,188.0 L1086.1,188.0ZM1093.4,191.0 L1094.0,188.0 L1092.8,185.7 L1086.5,185.2 L1086.1,188.0 L1093.7,188.0 L1092.4,191.0ZM812.4,193.2 L810.2,190.0 L801.9,191.0 L804.3,196.5 L811.7,196.6ZM924.6,188.2 L919.1,187.9 L916.1,191.1 L916.5,194.3 L918.5,195.6 L920.0,195.0 L924.5,190.9ZM1092.4,191.0 L1089.8,197.0 L1092.3,196.5 L1092.7,194.6 L1093.4,191.0ZM847.5,204.2 L847.8,200.5 L844.3,195.7 L841.8,197.5 L840.1,206.0 L846.7,204.6ZM1089.8,197.0 L1089.0,199.0 L1086.8,202.9 L1086.8,203.0 L1089.8,203.2 L1092.0,198.0 L1092.3,196.6 L1092.3,196.5ZM857.4,204.7 L852.1,207.9 L852.2,210.0 L858.1,214.0 L861.9,210.9 L862.3,206.7ZM1086.8,203.0 L1086.7,203.1 L1085.6,205.1 L1086.4,209.6 L1089.0,205.0 L1089.8,203.2ZM812.9,209.5 L804.5,209.1 L812.0,217.5 L813.8,215.0 L813.3,209.7ZM1084.0,231.6 L1081.6,226.0 L1081.4,224.0 L1080.6,223.8 L1081.3,226.0 L1082.8,231.1ZM1084.4,235.7 L1086.8,239.5 L1086.0,236.5 L1085.0,234.0ZM1084.4,235.7 L1084.2,235.8 L1085.3,239.3 L1086.1,244.2 L1087.8,243.6 L1087.8,243.4 L1086.8,239.5ZM1033.9,286.5 L1034.3,286.7 L1039.4,285.1 L1040.6,282.3 L1039.3,277.9 L1038.5,277.7 L1033.6,286.2ZM1034.3,286.7 L1033.9,286.5 L1033.2,286.9 L1030.0,292.5 L1034.5,289.0ZM1027.9,293.8 L1030.0,292.5 L1027.9,293.0ZM892.8,344.5 L886.5,343.9 L886.7,345.3 L892.8,344.8Z"/>
<path fill="#f5f4f3" d="M668.4,146.5 L668.4,137.1 L663.2,140.1 L663.4,143.3 L663.9,144.5 L665.4,145.8ZM677.4,148.0 L677.4,139.0 L668.4,139.0 L668.4,148.0ZM686.4,139.0 L686.4,148.0 L695.4,148.0 L695.4,139.0ZM713.4,139.0 L713.4,148.0 L722.4,148.0 L722.4,139.0ZM767.4,139.0 L767.4,148.0 L776.4,148.0 L776.4,139.0ZM695.4,148.0 L695.4,157.0 L704.4,157.0 L704.4,148.0ZM767.4,148.0 L767.4,157.0 L776.4,157.0 L776.4,148.0ZM722.4,157.0 L722.4,166.0 L731.4,166.0 L731.4,157.0ZM749.4,157.0 L749.4,166.0 L758.4,166.0 L758.4,157.0ZM758.4,157.0 L758.4,166.0 L767.4,166.0 L767.4,157.0ZM686.4,166.0 L686.4,175.0 L695.4,175.0 L695.4,166.0ZM704.4,166.0 L704.4,175.0 L713.4,175.0 L713.4,166.0ZM749.4,166.0 L749.4,175.0 L758.4,175.0 L758.4,166.0ZM758.4,166.0 L758.4,175.0 L767.4,175.0 L767.4,166.0ZM677.4,175.0 L677.4,184.0 L686.4,184.0 L686.4,175.0ZM695.4,175.0 L695.4,184.0 L704.4,184.0 L704.4,175.0ZM713.4,175.0 L713.4,184.0 L722.4,184.0 L722.4,175.0ZM758.4,175.0 L758.4,184.0 L767.4,184.0 L767.4,175.0ZM767.4,175.0 L767.4,184.0 L776.4,184.0 L776.4,175.0ZM695.4,184.0 L695.4,193.0 L704.4,193.0 L704.4,184.0ZM722.4,184.0 L722.4,193.0 L731.4,193.0 L731.4,184.0ZM758.4,184.0 L758.4,193.0 L767.4,193.0 L767.4,184.0ZM776.4,184.0 L776.4,193.0 L785.0,193.0 L785.0,184.0ZM686.4,193.0 L686.4,202.0 L695.4,202.0 L695.4,193.0ZM722.4,193.0 L722.4,202.0 L731.4,202.0 L731.4,193.0ZM767.4,193.0 L767.4,202.0 L776.4,202.0 L776.4,193.0ZM776.4,193.0 L776.4,202.0 L785.0,202.0 L785.0,193.0ZM713.4,202.0 L713.4,211.0 L722.4,211.0 L722.4,202.0ZM722.4,202.0 L722.4,211.0 L731.4,211.0 L731.4,202.0ZM749.4,202.0 L749.4,211.0 L758.4,211.0 L758.4,202.0ZM758.4,202.0 L758.4,211.0 L767.4,211.0 L767.4,202.0ZM767.4,202.0 L767.4,211.0 L776.4,211.0 L776.4,202.0ZM731.4,211.0 L722.4,211.0 L722.4,218.0 L731.4,218.0ZM776.4,211.0 L767.4,211.0 L767.4,218.0 L776.4,218.0ZM785.6,133.3 L785.7,132.0 L785.0,132.0 L785.0,133.6ZM786.6,142.6 L788.9,139.2 L787.5,135.4 L785.6,133.3 L785.0,133.6 L785.0,142.5Z"/>
<path fill="#faefe3" d="M568.8,157.5 L571.0,150.1 L567.0,146.8 L567.0,159.4ZM649.2,157.2 L645.4,150.3 L645.4,150.3 L638.2,150.0 L630.6,154.9 L629.8,159.9 L636.9,163.1ZM634.3,173.7 L642.9,170.7 L636.9,163.1 L629.8,159.9 L627.6,162.4 L627.7,170.2ZM655.3,159.6 L651.8,159.8 L650.8,162.3 L658.4,175.6 L661.9,174.9 L667.7,167.5 L666.7,165.2ZM589.4,177.7 L596.8,181.3 L602.6,172.6 L598.3,169.8 L591.1,172.1ZM667.7,167.5 L661.9,174.9 L664.4,181.2 L668.4,181.9 L668.4,167.8ZM569.4,196.8 L572.9,193.3 L567.2,182.4 L567.0,182.3 L567.0,195.2ZM621.3,178.0 L619.1,190.5 L619.8,191.7 L633.2,188.6 L635.3,184.4 L621.4,178.0ZM568.6,198.2 L569.4,196.8 L567.0,195.2 L567.0,198.8ZM620.5,202.9 L620.5,202.9 L619.8,191.7 L619.1,190.5 L607.9,188.3 L603.1,190.5 L602.3,197.7 L615.6,205.9ZM628.8,210.2 L642.0,205.8 L644.0,202.1 L643.7,201.3 L635.7,197.1 L620.5,202.9 L620.5,202.9ZM568.6,198.2 L567.0,198.8 L567.0,215.7 L568.2,215.1 L571.3,207.4ZM657.5,218.0 L659.4,218.0 L664.1,212.0 L659.8,201.1 L659.2,200.7 L648.3,202.8 L654.6,217.7ZM659.8,201.1 L664.1,212.0 L668.4,212.2 L668.4,197.8ZM583.6,237.9 L590.4,241.5 L595.2,228.6 L589.5,227.7ZM628.7,223.3 L622.2,224.4 L614.5,228.9 L613.9,231.7 L614.7,235.0 L622.9,238.8 L634.3,227.6ZM645.2,240.9 L653.0,248.7 L653.0,234.2 L650.9,234.5 L644.3,238.8ZM599.5,262.5 L589.6,263.7 L592.5,272.3 L602.9,268.0 L602.7,267.0ZM648.8,270.9 L653.0,271.9 L653.0,262.5 L647.5,265.7 L648.5,270.4ZM585.3,312.3 L593.3,312.4 L596.5,303.0 L593.8,301.1 L587.7,299.4 L584.6,303.0ZM652.0,296.5 L646.7,305.1 L651.7,310.1 L653.0,310.3 L653.0,296.2ZM582.1,313.8 L585.3,312.3 L584.6,303.0 L571.5,303.5ZM695.4,139.0 L695.4,148.0 L704.4,148.0 L704.4,139.0ZM704.4,139.0 L704.4,148.0 L713.4,148.0 L713.4,139.0ZM731.4,139.0 L731.4,148.0 L740.4,148.0 L740.4,139.0ZM740.4,139.0 L740.4,148.0 L749.4,148.0 L749.4,139.0ZM776.4,139.0 L776.4,148.0 L785.0,148.0 L785.0,139.0ZM677.4,157.0 L677.4,148.0 L668.4,148.0 L668.4,157.0ZM722.4,148.0 L722.4,157.0 L731.4,157.0 L731.4,148.0ZM695.4,166.0 L695.4,175.0 L704.4,175.0 L704.4,166.0ZM713.4,166.0 L713.4,175.0 L722.4,175.0 L722.4,166.0ZM740.4,166.0 L740.4,175.0 L749.4,175.0 L749.4,166.0ZM767.4,166.0 L767.4,175.0 L776.4,175.0 L776.4,166.0ZM776.4,166.0 L776.4,175.0 L785.0,175.0 L785.0,166.0ZM731.4,175.0 L731.4,184.0 L740.4,184.0 L740.4,175.0ZM749.4,175.0 L749.4,184.0 L758.4,184.0 L758.4,175.0ZM704.4,184.0 L704.4,193.0 L713.4,193.0 L713.4,184.0ZM713.4,184.0 L713.4,193.0 L722.4,193.0 L722.4,184.0ZM731.4,184.0 L731.4,193.0 L740.4,193.0 L740.4,184.0ZM677.4,202.0 L677.4,193.0 L668.4,193.0 L668.4,202.0ZM677.4,193.0 L677.4,202.0 L686.4,202.0 L686.4,193.0ZM704.4,193.0 L704.4,202.0 L713.4,202.0 L713.4,193.0ZM731.4,193.0 L731.4,202.0 L740.4,202.0 L740.4,193.0ZM677.4,211.0 L677.4,202.0 L668.4,202.0 L668.4,211.0ZM740.4,202.0 L740.4,211.0 L749.4,211.0 L749.4,202.0ZM677.4,211.0 L668.4,211.0 L668.4,218.0 L677.4,218.0ZM686.4,211.0 L677.4,211.0 L677.4,218.0 L686.4,218.0ZM695.4,211.0 L686.4,211.0 L686.4,218.0 L695.4,218.0ZM713.4,211.0 L704.4,211.0 L704.4,218.0 L713.4,218.0ZM722.4,211.0 L713.4,211.0 L713.4,218.0 L722.4,218.0ZM758.4,211.0 L749.4,211.0 L749.4,218.0 L758.4,218.0ZM767.4,211.0 L758.4,211.0 L758.4,218.0 L767.4,218.0ZM800.4,133.1 L801.6,132.0 L800.2,132.0ZM785.6,133.3 L787.5,135.4 L793.0,132.0 L785.7,132.0ZM797.8,133.8 L800.2,133.6 L800.4,133.1 L800.2,132.0 L795.4,132.0ZM819.7,132.9 L820.0,133.1 L823.0,132.0 L819.8,132.0ZM831.1,135.2 L832.1,135.1 L832.2,132.0 L827.4,132.0ZM837.5,135.9 L840.4,133.3 L840.4,132.0 L832.2,132.0 L832.1,135.1ZM847.5,135.1 L848.5,134.8 L850.4,132.0 L840.4,132.0 L840.4,133.3ZM873.9,132.6 L879.1,136.4 L882.8,134.3 L883.6,132.0 L873.9,132.0ZM903.3,133.3 L907.3,132.2 L907.2,132.0 L900.6,132.0ZM919.6,132.0 L910.1,132.0 L909.6,133.3 L910.0,133.9 L917.3,135.5ZM927.3,135.2 L930.7,132.1 L930.6,132.0 L920.5,132.0ZM937.2,132.7 L939.2,133.9 L945.4,132.0 L937.3,132.0ZM949.0,134.7 L953.7,133.9 L954.0,133.4 L954.1,132.0 L945.9,132.0ZM954.0,133.4 L962.6,132.0 L954.1,132.0ZM965.5,138.2 L967.5,139.1 L972.2,136.8 L972.7,133.6 L967.8,132.0 L964.0,132.0ZM987.7,133.6 L990.5,132.0 L986.1,132.0ZM1004.9,137.1 L1006.9,135.6 L1006.7,132.0 L998.7,132.0ZM1006.9,135.6 L1013.1,136.2 L1016.2,132.1 L1016.1,132.0 L1006.7,132.0ZM1034.7,133.5 L1035.4,132.7 L1035.5,132.0 L1026.9,132.0 L1026.4,133.2 L1027.7,134.4ZM1040.5,135.2 L1041.9,132.0 L1035.5,132.0 L1035.4,132.7ZM1056.4,134.8 L1061.7,135.1 L1063.2,132.0 L1054.0,132.0ZM1071.4,132.2 L1076.2,134.6 L1078.6,132.7 L1078.9,132.0 L1071.4,132.0ZM787.5,135.4 L788.9,139.2 L791.8,138.9 L794.4,138.0 L797.8,133.8 L795.4,132.0 L793.0,132.0ZM798.4,145.6 L799.9,145.3 L802.7,142.0 L803.1,137.1 L800.2,133.6 L797.8,133.8 L794.4,138.0ZM838.1,142.6 L837.5,135.9 L832.1,135.1 L831.1,135.2 L827.0,140.4 L831.8,144.4ZM866.0,141.2 L862.2,134.3 L859.1,134.1 L855.5,139.0 L855.8,139.4 L864.7,142.8ZM903.3,133.3 L900.6,132.0 L895.4,132.0 L893.8,134.6 L893.7,136.6 L896.5,139.5 L901.8,138.1ZM913.3,145.1 L914.7,144.5 L918.4,139.4 L917.3,135.5 L910.0,133.9 L907.3,140.3ZM933.5,139.3 L934.0,134.0 L930.7,132.1 L927.3,135.2 L927.1,140.1 L927.6,140.2ZM975.5,139.3 L972.2,136.8 L967.5,139.1 L969.0,146.2 L975.5,143.9ZM972.7,133.6 L972.2,136.8 L975.5,139.3 L979.9,137.6 L979.5,132.0 L973.7,132.0ZM979.8,132.0 L979.5,132.0 L979.9,137.6 L984.3,140.2 L987.3,138.6 L987.3,138.1ZM987.3,138.1 L987.3,138.6 L992.7,140.9 L994.6,139.2 L992.7,132.0 L990.5,132.0 L987.7,133.6ZM995.2,139.0 L1003.6,140.0 L1004.9,137.1 L998.7,132.0 L998.5,132.0ZM1027.7,134.4 L1026.4,133.2 L1022.2,133.2 L1021.1,140.8 L1027.6,140.8 L1028.6,139.4ZM1035.3,140.3 L1034.7,133.5 L1027.7,134.4 L1028.6,139.4ZM1047.0,139.4 L1053.3,138.9 L1056.4,134.8 L1054.0,132.0 L1048.1,132.0ZM1061.7,135.1 L1056.4,134.8 L1053.3,138.9 L1056.3,142.2 L1063.0,139.8ZM788.9,139.2 L786.6,142.6 L786.6,142.7 L791.2,147.5 L794.8,146.7 L791.8,138.9ZM794.8,146.7 L796.9,146.7 L798.4,145.6 L794.4,138.0 L791.8,138.9ZM831.8,144.4 L827.0,140.4 L824.3,141.4 L825.6,146.9 L830.7,147.4ZM832.2,151.0 L838.6,144.9 L838.8,143.6 L838.1,142.6 L831.8,144.4 L830.7,147.4ZM848.5,146.4 L846.4,144.3 L838.8,143.6 L838.6,144.9 L840.1,150.3 L844.7,152.6 L846.1,152.3ZM868.3,140.5 L866.0,141.2 L864.7,142.8 L863.2,148.0 L865.4,149.5 L875.9,147.6ZM879.6,143.8 L878.4,140.1 L869.5,139.1 L868.3,140.5 L875.9,147.6 L877.0,148.0 L879.3,144.7ZM890.3,148.5 L887.5,141.0 L879.6,143.8 L879.3,144.7 L889.0,149.0ZM897.2,143.7 L896.5,139.5 L893.7,136.6 L888.0,139.9 L887.5,141.0 L890.3,148.5 L892.6,149.3ZM931.2,147.4 L927.6,140.2 L927.1,140.1 L923.4,141.5 L924.4,147.5ZM937.3,146.3 L937.9,144.0 L933.5,139.3 L927.6,140.2 L931.2,147.4 L934.6,148.9ZM946.9,150.3 L949.2,146.0 L941.9,141.2 L941.6,141.2 L937.9,144.0 L937.3,146.3 L942.6,149.7ZM1004.3,149.5 L1006.9,145.0 L1008.7,145.0 L1008.7,149.0 L1012.3,148.0 L1009.8,144.3 L1003.9,141.9 L1002.3,145.6ZM1013.9,148.9 L1018.7,144.0 L1018.7,143.0 L1013.6,137.6 L1009.8,144.3 L1012.3,148.0ZM1039.3,147.0 L1040.1,142.5 L1036.5,141.6 L1029.5,148.4 L1031.3,150.5 L1037.5,150.2ZM1048.3,145.4 L1045.6,140.9 L1043.3,141.0 L1040.1,142.5 L1039.3,147.0 L1044.7,150.8ZM1053.1,148.5 L1055.1,146.6 L1056.3,142.2 L1053.3,138.9 L1047.0,139.4 L1045.6,140.9 L1048.3,145.4ZM796.9,146.7 L797.2,152.7 L803.1,154.7 L804.6,153.0 L803.2,149.1 L799.9,145.3 L798.4,145.6ZM803.2,149.1 L804.6,153.0 L810.2,152.5 L811.5,147.9 L811.0,145.1 L809.2,144.9ZM819.0,149.2 L811.5,147.9 L810.2,152.5 L810.9,153.4 L817.8,155.2 L820.6,151.8ZM833.3,155.3 L833.9,155.4 L840.1,150.3 L838.6,144.9 L832.2,151.0 L832.0,153.6ZM840.2,160.1 L844.7,152.6 L840.1,150.3 L833.9,155.4ZM877.4,150.1 L877.0,148.0 L875.9,147.6 L865.4,149.5 L869.0,155.5 L874.7,155.2ZM900.0,153.2 L900.5,145.0 L897.2,143.7 L892.6,149.3 L894.2,152.3ZM907.4,150.6 L903.5,145.0 L900.5,145.0 L900.0,153.2 L901.7,153.9ZM944.5,158.8 L946.5,159.0 L948.1,153.4 L946.9,150.3 L942.6,149.7 L940.9,156.9ZM955.7,150.0 L952.2,145.5 L950.1,145.6 L949.2,146.0 L946.9,150.3 L948.1,153.4 L954.0,152.9ZM977.7,153.9 L977.7,153.6 L976.9,152.1 L968.1,148.1 L964.8,150.6 L965.9,152.6 L975.4,156.4ZM976.9,152.1 L977.7,153.6 L984.6,147.4 L983.0,144.4 L977.4,145.3ZM1000.7,159.9 L1001.4,155.0 L993.3,148.8 L991.7,150.0 L992.7,153.8 L998.6,160.6ZM1002.3,145.6 L993.7,147.8 L993.3,148.8 L1001.4,155.0 L1003.4,153.2 L1004.0,150.0 L1004.3,149.5ZM1044.7,150.8 L1039.3,147.0 L1037.5,150.2 L1040.3,155.7 L1040.6,155.9 L1044.7,152.6ZM1051.3,154.9 L1054.0,154.0 L1054.1,153.9 L1053.1,148.5 L1048.3,145.4 L1044.7,150.8 L1044.7,152.6ZM1068.0,152.9 L1064.6,148.4 L1058.4,153.2 L1065.1,157.9 L1069.5,155.4ZM1079.5,156.6 L1082.6,153.3 L1078.1,147.3 L1075.6,148.4 L1072.2,154.5ZM786.6,158.8 L787.1,155.4 L785.0,154.5 L785.0,160.2ZM792.7,156.2 L797.6,163.1 L801.1,162.1 L802.2,161.3 L803.1,154.7 L797.2,152.7ZM817.8,155.2 L818.5,160.3 L824.7,160.5 L825.3,152.7 L823.8,151.6 L820.6,151.8ZM824.7,160.5 L828.5,163.0 L833.3,155.3 L832.0,153.6 L825.3,152.7ZM846.1,163.9 L851.1,156.9 L846.1,152.3 L844.7,152.6 L840.2,160.1 L840.2,160.1 L844.6,164.1ZM855.1,157.3 L851.9,156.8 L851.1,156.9 L846.1,163.9 L848.1,165.2 L852.6,165.9ZM890.1,161.6 L896.1,165.9 L898.2,160.4 L892.4,157.5 L890.3,159.4ZM898.2,160.4 L902.2,159.3 L901.7,153.9 L900.0,153.2 L894.2,152.3 L892.4,157.5ZM926.5,161.3 L931.6,162.1 L932.2,153.9 L926.8,154.1 L924.2,158.4 L924.4,159.6ZM933.9,152.3 L932.2,153.9 L931.6,162.1 L932.0,162.7 L936.1,161.8 L939.4,156.7ZM939.4,156.7 L936.1,161.8 L939.5,163.6 L944.5,158.8 L940.9,156.9ZM955.7,156.8 L951.7,162.6 L952.6,162.9 L961.8,162.9 L959.6,156.6ZM998.6,160.6 L992.7,153.8 L990.7,161.1 L998.6,160.6ZM1001.4,155.0 L1000.7,159.9 L1001.6,160.4 L1002.0,160.0 L1003.4,153.2ZM1008.8,161.4 L1009.0,154.9 L1008.7,154.8 L1008.7,161.4ZM1017.1,159.3 L1017.9,155.5 L1014.4,151.4 L1009.0,154.9 L1008.8,161.4 L1011.8,162.3ZM1031.1,157.3 L1023.0,152.8 L1021.0,154.6 L1028.4,160.8 L1030.7,158.7ZM1055.2,158.0 L1054.0,154.0 L1051.3,154.9 L1046.4,160.0 L1051.0,162.6 L1053.2,162.6ZM1071.9,161.4 L1069.8,155.5 L1069.5,155.4 L1065.1,157.9 L1063.2,160.8 L1064.3,162.6 L1070.3,162.6ZM852.6,165.9 L848.1,165.2 L850.1,173.0 L854.6,171.7 L855.6,167.7ZM862.2,164.3 L855.2,157.3 L855.1,157.3 L852.6,165.9 L855.6,167.7ZM878.9,161.9 L878.8,161.7 L876.2,158.6 L867.8,163.9 L871.6,166.7 L878.0,166.0ZM880.1,170.0 L886.9,170.9 L888.4,163.8 L878.9,161.9 L878.0,166.0ZM886.9,170.9 L887.7,171.7 L890.1,171.9 L895.6,170.4 L897.4,168.9 L896.1,165.9 L890.1,161.6 L888.4,163.8ZM902.9,168.0 L907.6,168.4 L913.7,161.4 L913.0,159.5 L903.4,160.5ZM936.1,161.8 L932.0,162.7 L932.1,168.7 L932.6,169.3 L936.8,170.7 L940.8,170.3 L939.5,163.6ZM951.7,162.6 L949.7,163.0 L948.8,165.4 L954.3,173.2 L955.0,173.5 L957.4,168.9 L952.6,162.9ZM964.3,164.6 L961.8,162.9 L952.6,162.9 L957.4,168.9 L964.9,166.7ZM967.1,159.8 L964.3,164.6 L964.9,166.7 L965.1,166.9 L972.4,168.4 L974.2,168.3 L974.8,167.5 L975.2,161.5 L974.4,159.3ZM990.7,161.1 L989.1,162.0 L989.8,165.4 L993.8,167.9 L995.5,166.6 L997.4,164.7 L998.6,160.6ZM1000.7,159.9 L998.6,160.6 L998.6,160.6 L997.4,164.7 L1001.6,160.4ZM1030.7,158.7 L1028.4,160.8 L1027.5,162.6 L1036.1,162.6ZM1040.7,162.6 L1043.6,162.6 L1042.6,161.3 L1042.4,161.3ZM1043.6,162.6 L1051.0,162.6 L1046.4,160.0 L1042.6,161.3ZM1063.2,160.8 L1060.7,161.4 L1060.2,162.6 L1064.3,162.6ZM824.3,170.5 L820.0,167.8 L813.1,169.9 L812.9,171.3 L820.2,176.2 L824.1,175.3 L824.7,174.4ZM896.6,176.1 L895.6,170.4 L890.1,171.9 L893.5,177.6ZM912.3,174.6 L912.4,175.2 L918.1,177.0 L922.1,177.2 L923.3,169.4 L923.1,169.1 L917.8,165.7ZM935.4,178.4 L936.8,170.7 L932.6,169.3 L930.0,175.9 L934.8,179.3ZM948.8,165.4 L943.6,170.3 L947.0,175.1 L954.3,173.2ZM965.1,166.9 L962.9,176.0 L965.3,178.6 L968.7,177.9 L972.4,168.4ZM972.4,168.4 L968.7,177.9 L973.9,179.0 L976.7,173.4 L974.2,168.3ZM976.7,173.4 L982.6,175.0 L984.2,174.1 L986.0,173.1 L985.8,171.4 L981.6,166.4 L974.8,167.5 L974.2,168.3ZM989.8,165.4 L985.8,171.4 L986.0,173.1 L990.2,170.6 L993.8,167.9ZM786.0,181.1 L787.0,179.1 L785.0,176.3 L785.0,181.7ZM824.7,174.4 L824.1,175.3 L824.2,175.7 L827.7,184.2 L833.8,185.4 L835.9,183.3 L834.4,175.6ZM835.0,174.8 L834.4,175.6 L835.9,183.3 L840.2,183.7 L840.3,183.6 L845.8,175.8 L844.0,174.2ZM845.8,175.8 L840.3,183.6 L849.0,188.2 L850.7,186.0 L849.1,178.3 L847.2,176.0ZM849.1,178.3 L850.7,186.0 L852.8,185.4 L860.1,177.8 L859.1,177.3ZM863.9,173.5 L861.0,177.9 L861.3,178.3 L867.6,180.3 L873.3,175.7 L872.2,174.8ZM893.5,177.6 L890.1,171.9 L887.7,171.7 L886.4,179.7 L887.3,182.6 L887.9,182.8 L892.7,181.2ZM934.8,181.1 L938.1,177.9 L935.4,178.4 L934.8,179.3ZM947.0,175.1 L947.1,178.2 L948.0,178.5 L953.5,181.3 L954.1,181.2 L956.9,176.4 L955.0,173.5 L954.3,173.2ZM965.3,178.6 L965.1,182.0 L966.0,184.1 L971.7,184.4 L975.7,182.4 L973.9,179.0 L968.7,177.9ZM1085.6,183.8 L1085.6,178.7 L1084.0,178.3 L1084.0,184.2ZM800.1,185.2 L799.3,187.5 L801.0,190.4 L801.9,191.0 L810.2,190.0 L810.7,184.5 L805.5,182.2ZM833.8,185.4 L833.8,186.3 L836.2,192.4 L840.8,193.0 L840.2,183.7 L835.9,183.3ZM840.3,183.6 L840.2,183.7 L840.8,193.0 L844.3,194.7 L849.0,188.3 L849.0,188.2ZM852.8,185.4 L850.7,186.0 L849.0,188.2 L849.0,188.3 L850.0,189.3 L860.8,193.8 L862.5,189.4ZM861.3,178.3 L863.0,189.0 L867.4,188.7 L871.6,186.9 L867.6,180.3ZM875.9,184.0 L872.9,187.0 L877.3,196.1 L877.6,196.3 L877.7,196.3 L882.7,188.6 L882.8,185.3ZM897.6,189.1 L901.2,186.9 L898.9,180.1 L895.2,181.8ZM905.6,186.5 L907.3,188.6 L912.3,188.4 L913.7,183.9 L909.4,178.4 L907.3,179.2ZM965.1,182.0 L960.4,183.9 L966.0,184.1ZM789.7,190.7 L785.0,187.7 L785.0,196.2 L788.4,196.7 L788.9,196.3ZM796.2,197.8 L801.0,190.4 L799.3,187.5 L791.4,189.2 L789.7,190.7 L788.9,196.3 L789.9,196.9ZM804.3,196.5 L801.9,191.0 L801.0,190.4 L796.2,197.8 L801.2,202.9ZM850.0,189.3 L854.1,197.7 L856.9,198.1 L860.7,195.2 L860.8,193.8ZM862.5,189.4 L860.8,193.8 L860.7,195.2 L866.1,199.5 L869.5,197.2 L867.4,188.7 L863.0,189.0ZM871.6,186.9 L867.4,188.7 L869.5,197.2 L877.3,196.1 L872.9,187.0ZM882.7,188.6 L877.7,196.3 L877.7,196.3 L884.5,196.9 L885.4,190.8ZM891.1,189.4 L885.4,190.8 L884.5,196.9 L887.8,198.2 L892.0,196.0 L893.4,191.7ZM892.0,196.0 L895.8,199.7 L896.0,199.7 L902.9,199.1 L903.3,195.9 L896.6,190.4 L893.4,191.7ZM896.6,190.4 L903.3,195.9 L906.7,193.0 L907.3,188.6 L905.6,186.5 L901.2,186.9 L897.6,189.1ZM788.9,210.1 L791.0,210.1 L791.5,209.6 L792.3,202.2 L789.9,196.9 L788.9,196.3 L788.4,196.7 L785.0,204.2 L785.0,205.1ZM792.3,202.2 L800.6,204.9 L801.5,204.6 L801.2,202.9 L796.2,197.8 L789.9,196.9ZM811.7,196.6 L804.3,196.5 L801.2,202.9 L801.5,204.6 L802.8,205.8 L809.8,202.1 L812.4,198.4ZM815.2,202.3 L819.3,205.9 L821.6,204.4 L822.7,198.5 L822.2,197.8 L812.8,198.5ZM834.6,200.1 L838.1,206.8 L840.1,206.0 L841.8,197.5ZM857.4,204.7 L856.9,198.1 L854.1,197.7 L847.8,200.5 L847.5,204.2 L852.1,207.9ZM877.3,196.1 L869.5,197.2 L866.1,199.5 L866.5,204.3 L870.5,206.4 L871.5,206.0 L877.6,196.3ZM877.7,196.3 L880.3,205.1 L883.5,207.0 L887.7,200.7 L887.8,198.2 L884.5,196.9ZM802.8,205.8 L801.5,204.6 L800.6,204.9 L791.5,209.6 L791.0,210.1 L791.1,210.2 L797.8,215.0 L801.4,216.0 L804.1,209.0ZM836.3,210.1 L837.0,209.7 L838.1,206.8 L834.6,200.1 L832.7,198.7 L831.7,198.7 L831.5,198.8 L827.6,207.4 L829.0,210.2ZM840.1,206.0 L838.1,206.8 L837.0,209.7 L842.9,214.6 L844.3,213.6 L846.7,204.6ZM852.1,207.9 L847.5,204.2 L846.7,204.6 L844.3,213.6 L851.0,211.8 L852.2,210.0ZM862.3,206.7 L861.9,210.9 L866.6,214.6 L870.5,206.9 L870.5,206.4 L866.5,204.3ZM1083.7,211.8 L1085.3,211.5 L1086.4,209.6 L1085.6,205.1 L1082.2,211.1ZM787.9,222.5 L790.7,223.0 L792.1,218.9 L791.1,210.2 L791.0,210.1 L788.9,210.1 L785.0,214.6 L785.0,218.0 L785.2,218.0 L785.4,219.1ZM804.1,209.0 L801.4,216.0 L801.6,216.9 L803.7,219.0 L811.1,219.9 L812.0,217.5 L804.5,209.1ZM813.3,209.7 L813.8,215.0 L822.6,215.8 L818.5,207.3ZM834.5,218.8 L835.9,220.2 L842.7,219.9 L843.0,219.6 L843.4,218.9 L842.9,214.6 L837.0,209.7 L836.3,210.1ZM851.0,211.8 L850.8,218.9 L852.8,220.5 L858.2,216.4 L858.1,214.0 L852.2,210.0ZM858.1,214.0 L858.2,216.4 L862.2,219.6 L868.0,218.4 L866.6,214.6 L861.9,210.9ZM874.1,213.9 L873.5,216.8 L879.7,211.7 L877.5,211.4ZM1083.7,211.8 L1082.2,211.1 L1080.6,214.0 L1078.0,215.0 L1078.2,215.8ZM787.9,222.5 L785.4,219.1 L786.4,224.0ZM797.8,215.0 L792.1,218.9 L790.7,223.0 L792.0,223.9 L794.4,223.6 L801.6,216.9 L801.4,216.0ZM812.6,222.7 L811.1,219.9 L803.7,219.0 L803.5,220.7 L805.2,227.2 L811.1,227.2ZM812.6,222.7 L819.0,223.0 L822.7,215.8 L822.6,215.8 L813.8,215.0 L812.0,217.5 L811.1,219.9ZM822.7,215.8 L819.0,223.0 L820.9,225.5 L823.0,227.2 L825.7,227.2 L828.3,222.7 L828.6,219.3 L825.5,215.6ZM835.9,220.2 L834.5,218.8 L828.6,219.3 L828.3,222.7 L834.6,225.6 L835.2,224.9ZM842.7,219.9 L835.9,220.2 L835.2,224.9 L841.4,226.1ZM794.4,223.6 L792.0,223.9 L792.1,227.2 L799.6,227.2 L799.3,226.6ZM799.6,227.2 L805.2,227.2 L803.5,220.7 L799.3,226.6ZM820.9,225.5 L819.0,223.0 L812.6,222.7 L811.1,227.2 L818.8,227.2ZM820.9,225.5 L818.8,227.2 L823.0,227.2ZM849.5,227.1 L843.0,219.6 L842.7,219.9 L841.4,226.1 L841.8,227.2 L849.3,227.2ZM856.3,228.7 L856.1,228.1 L855.2,227.4 L855.2,231.2ZM853.7,226.4 L849.5,227.1 L849.3,227.2 L854.9,227.2ZM870.1,219.6 L866.2,226.2 L866.9,228.7 L868.5,225.5 L870.5,220.1 L870.2,219.6ZM862.7,233.1 L856.3,228.7 L855.2,231.2 L855.2,236.5 L860.7,236.5ZM862.7,233.1 L860.7,236.5 L863.0,236.5 L864.6,233.4ZM1085.0,234.0 L1084.0,231.6 L1082.8,231.1 L1084.2,235.8 L1084.4,235.7ZM1074.9,257.6 L1072.1,260.4 L1069.4,261.1 L1069.9,261.6 L1073.0,261.0 L1075.1,258.3ZM1075.1,258.3 L1078.7,253.8 L1074.9,257.6ZM1027.9,293.0 L1025.3,293.6 L1021.9,295.9 L1023.1,296.8 L1027.9,293.8ZM1012.9,303.6 L1022.8,297.0 L1023.1,296.8 L1021.9,295.9 L1012.5,302.5 L1012.7,303.6ZM1005.8,309.2 L1008.9,306.7 L1007.9,306.1 L1003.7,309.4ZM1001.0,313.9 L1002.2,312.0 L1005.8,309.2 L1003.7,309.4 L1000.2,312.1 L1000.2,312.2ZM1000.2,312.2 L996.6,321.0 L1001.0,313.9Z"/>
</g>
<g stroke="#ffffff" stroke-opacity="0.35" stroke-width="0.4">
<path fill="#e3532f" d="M653.5,235.6 L661.5,235.6 L661.5,227.6 L653.5,227.6ZM685.5,251.6 L685.5,259.6 L693.5,259.6 L693.5,251.6ZM701.5,267.6 L706.4,267.6 L701.5,265.4ZM693.5,275.6 L693.5,283.6 L701.5,283.6 L701.5,275.6ZM677.5,283.6 L677.5,291.6 L685.5,291.6 L685.5,283.6ZM693.5,291.6 L693.5,299.6 L701.5,299.6 L701.5,291.6ZM717.5,291.6 L717.5,299.6 L725.5,299.6 L725.5,291.6ZM603.6,321.1 L604.7,320.8 L602.6,313.0 L596.0,313.0 L596.0,317.5 L599.7,320.0ZM604.7,320.8 L605.0,321.0 L605.7,321.1 L612.5,316.5 L613.8,313.0 L602.6,313.0ZM685.1,361.3 L685.8,358.0 L681.7,349.0 L681.6,349.0 L673.2,352.9 L672.9,354.7 L677.0,355.0 L684.7,361.4ZM746.4,280.3 L747.6,277.6 L742.0,276.8 L742.0,278.3ZM759.6,280.9 L769.0,280.5 L769.8,279.9 L760.0,279.5 L759.2,279.4ZM778.4,280.3 L776.2,280.2 L777.2,280.9ZM746.4,280.3 L746.4,282.9 L755.1,287.2 L757.3,285.6 L758.0,283.7 L750.0,278.0 L747.6,277.6ZM777.2,280.9 L777.3,281.1 L784.1,287.6 L789.2,284.9 L788.5,280.7 L788.0,280.7 L778.4,280.3ZM765.1,294.2 L761.3,288.1 L757.3,285.6 L755.1,287.2 L752.4,295.9 L752.8,296.3 L760.1,299.0ZM774.7,295.1 L782.2,294.9 L783.5,293.2 L784.1,287.6 L777.3,281.1 L773.1,294.1 L773.2,294.3ZM784.1,287.6 L783.5,293.2 L791.4,293.1 L793.1,286.5 L789.2,284.9ZM794.4,296.8 L793.6,295.0 L793.6,286.3 L793.1,286.5 L791.4,293.1ZM730.1,300.0 L720.7,300.0 L720.8,301.7 L727.1,304.3 L730.2,301.8ZM730.2,301.8 L738.5,301.2 L739.2,300.9 L739.0,300.0 L730.1,300.0ZM773.2,294.3 L773.1,294.1 L771.6,293.5 L765.1,294.2 L760.1,299.0 L760.8,300.3 L765.2,303.7 L767.2,303.5ZM782.2,294.9 L785.6,301.8 L795.1,303.8 L795.3,300.8 L794.5,297.0 L794.4,296.8 L791.4,293.1 L783.5,293.2ZM697.1,315.2 L705.6,310.1 L702.9,305.1 L696.5,305.4 L693.6,312.6 L694.4,315.7 L694.6,315.8ZM793.6,310.8 L795.5,304.3 L795.1,303.8 L785.6,301.8 L781.8,305.9 L784.8,313.0 L785.3,313.6ZM694.7,316.0 L704.0,325.4 L708.4,323.7 L708.6,321.9 L697.1,315.2 L694.6,315.8ZM768.9,315.2 L778.8,321.3 L777.4,311.6 L774.8,307.6 L773.3,308.2ZM796.0,316.5 L793.6,310.8 L785.3,313.6 L782.6,320.3 L789.4,323.6ZM696.2,328.4 L694.7,316.0 L694.6,315.8 L694.4,315.7 L692.1,316.7 L688.0,318.9 L688.0,327.3ZM730.6,320.8 L726.9,325.4 L726.7,326.8 L732.3,331.9 L736.7,333.7 L737.5,322.9ZM799.0,329.6 L799.4,329.7 L799.7,326.7ZM688.2,338.4 L689.5,340.6 L700.0,338.9 L702.2,337.7 L698.8,329.9 L697.2,329.3ZM737.5,334.8 L736.7,333.7 L732.3,331.9 L726.9,339.4 L727.7,340.1ZM786.9,332.1 L787.3,334.1 L794.7,334.5 L798.7,329.7 L789.5,323.9ZM696.8,348.1 L700.0,338.9 L689.5,340.6 L689.3,342.8 L693.3,348.1ZM737.5,334.8 L727.7,340.1 L728.9,343.2 L737.2,342.4 L738.2,335.2ZM746.8,342.2 L740.4,334.9 L738.2,335.2 L737.2,342.4 L740.7,347.4ZM785.9,348.0 L788.1,344.8 L784.2,338.5 L778.2,338.2 L775.6,344.1 L779.5,351.1ZM796.6,348.3 L797.7,348.8 L798.4,340.7 L796.0,341.2 L794.1,344.8ZM707.5,346.5 L715.7,354.9 L719.8,351.7 L719.0,347.7ZM740.5,348.7 L745.9,352.5 L751.3,351.9 L747.2,342.1 L746.8,342.2 L740.7,347.4ZM779.5,351.1 L775.6,344.1 L770.4,345.1 L768.1,354.4 L768.3,354.6 L778.6,353.5ZM780.8,358.3 L790.1,356.0 L785.9,348.0 L779.5,351.1 L778.6,353.5ZM692.9,368.4 L694.3,367.1 L696.8,358.6 L690.7,355.2 L690.4,355.3 L688.0,364.1 L688.0,364.2 L690.2,366.0 L690.6,366.6ZM758.2,364.4 L761.8,364.1 L768.4,355.6 L768.3,354.6 L768.1,354.4 L758.1,352.1 L756.9,353.1 L755.5,360.2ZM768.4,355.6 L761.8,364.1 L768.5,365.7 L771.1,364.2ZM780.8,358.3 L778.6,353.5 L768.3,354.6 L768.4,355.6 L771.1,364.2 L775.9,365.9 L778.7,364.2 L780.4,363.4ZM791.4,356.5 L792.3,358.1 L797.3,355.8 L797.3,353.0 L797.7,348.8 L796.6,348.3ZM705.0,367.6 L705.0,375.6 L717.7,373.0 L711.0,365.7 L706.8,364.8ZM723.0,364.9 L717.4,360.8 L711.0,365.7 L717.7,373.0 L718.4,373.3 L720.1,372.1ZM736.1,359.0 L728.5,365.7 L734.2,371.2 L738.2,366.7 L739.7,362.5ZM771.1,364.2 L768.5,365.7 L767.1,369.4 L768.0,370.6 L775.9,365.9ZM692.6,370.2 L694.2,372.9 L699.2,378.2 L704.6,376.3 L705.0,375.6 L705.0,367.6 L694.3,367.1 L692.9,368.4ZM718.4,373.3 L717.7,373.0 L705.0,375.6 L704.6,376.3 L710.0,383.4 L712.5,384.1 L718.2,378.6ZM739.0,379.7 L734.1,372.5 L727.6,374.9 L727.8,380.9 L731.2,382.5ZM753.8,372.3 L748.5,371.8 L746.3,373.6 L746.2,373.9 L752.0,380.9 L755.2,378.7ZM767.1,369.4 L762.0,372.2 L762.5,373.9 L768.0,370.6ZM730.2,387.7 L731.2,382.5 L727.8,380.9 L723.0,383.3 L723.2,387.9 L723.6,389.0ZM723.2,387.9 L713.2,385.9 L713.4,393.0 L715.0,395.5 L721.1,394.7 L722.5,393.8 L723.6,389.0ZM733.5,395.9 L741.1,394.3 L743.1,392.3 L743.4,390.3 L745.1,388.4 L745.5,387.3 L741.7,383.8 L733.3,390.2ZM712.3,400.7 L715.0,395.5 L713.4,393.0 L706.4,391.7 L706.0,392.0 L710.3,400.8ZM714.4,407.0 L714.5,406.1 L712.3,400.7 L710.3,400.8 L710.7,401.5 L713.7,407.6ZM730.3,418.4 L735.2,412.5 L732.3,403.5 L726.7,406.1 L725.0,410.3 L727.8,417.5 L729.5,418.3ZM735.2,412.5 L743.8,413.8 L741.9,403.4 L732.4,403.3 L732.3,403.5ZM717.9,411.5 L714.4,407.0 L713.7,407.6 L716.3,412.7 L717.9,413.4ZM726.8,219.8 L726.9,219.9 L738.4,221.4 L741.8,218.0 L728.5,218.0ZM751.7,221.4 L758.9,224.3 L760.6,218.0 L753.7,218.0ZM670.4,221.1 L665.0,219.6 L661.3,227.6 L671.6,227.6ZM698.2,222.2 L692.8,222.4 L691.9,223.5 L692.2,227.6 L698.9,227.6ZM710.6,248.6 L711.6,250.1 L714.3,251.2 L719.8,244.9 L717.5,241.3 L710.4,240.9ZM783.2,246.8 L787.3,245.5 L787.2,237.1 L785.4,234.0 L782.5,233.3 L774.1,238.0 L774.1,238.1 L781.7,245.6ZM779.6,253.5 L787.6,257.2 L787.3,245.5 L783.2,246.8ZM834.3,236.4 L835.1,238.3 L836.5,239.2 L838.3,239.8 L843.7,235.4 L843.7,235.4 L838.5,230.2 L835.2,230.5ZM808.4,241.0 L813.7,241.8 L816.3,240.5 L817.4,238.1 L811.2,233.9 L808.0,236.7 L807.7,240.3ZM827.6,234.7 L825.7,236.4 L827.3,240.5 L835.1,238.3 L834.3,236.4ZM850.9,233.8 L847.1,234.0 L844.5,234.8 L843.7,235.4 L843.7,235.4 L846.5,240.4 L852.7,240.1 L855.6,236.5 L855.2,236.5 L855.2,235.3ZM819.7,244.1 L816.3,240.5 L813.7,241.8 L813.6,249.1 L815.4,250.4 L819.8,246.8ZM827.4,243.0 L819.7,244.1 L819.8,246.8 L824.5,250.8 L828.5,245.1ZM835.5,256.1 L835.8,259.6 L841.6,264.6 L843.0,259.7 L841.9,258.1 L838.9,255.7ZM843.0,259.7 L847.7,259.3 L848.6,257.0 L845.8,253.9 L841.9,258.1ZM821.7,261.5 L823.7,267.3 L830.3,267.5 L831.4,265.3 L828.7,261.9 L821.9,261.3ZM841.5,265.8 L841.6,264.6 L835.8,259.6 L834.0,265.1 L838.7,267.5ZM844.8,267.2 L846.3,269.6 L849.8,263.1ZM838.7,267.5 L834.0,265.1 L831.4,265.3 L830.3,267.5 L830.0,274.1 L831.3,275.2 L837.2,274.1ZM790.8,280.7 L793.6,280.7 L793.6,281.9 L794.5,281.1 L794.6,274.1 L788.0,272.8 L787.9,272.9 L788.0,279.5ZM797.0,271.8 L797.0,271.8 L794.6,274.1 L794.5,281.1 L800.0,281.7 L803.2,274.4ZM840.1,282.2 L837.7,274.5 L837.2,274.1 L831.3,275.2 L830.4,281.1 L834.1,283.3 L840.0,282.4ZM794.9,289.4 L801.2,287.6 L800.6,282.3 L800.0,281.7 L794.5,281.1 L793.6,281.9 L793.6,288.4ZM801.2,287.6 L794.9,289.4 L796.2,293.6 L802.6,292.9 L803.0,289.2ZM826.5,288.4 L820.2,287.5 L818.6,289.0 L820.1,295.0 L828.5,295.0 L826.7,288.6ZM834.4,288.9 L826.7,288.6 L828.5,295.0 L835.9,295.0ZM818.6,289.0 L814.5,289.4 L813.5,295.0 L820.1,295.0ZM804.6,302.4 L809.0,297.1 L809.2,295.0 L801.8,295.0ZM793.7,295.3 L794.5,297.0 L795.7,302.5 L796.8,303.0 L798.0,302.4 L798.0,299.3 L794.0,295.1ZM804.6,302.4 L804.5,302.8 L813.2,303.7 L813.9,302.4 L813.6,300.8 L809.0,297.1ZM834.9,302.1 L832.1,298.4 L828.6,300.7 L828.6,304.7 L831.7,309.2 L832.2,309.2ZM797.8,311.9 L800.8,310.6 L804.5,305.0 L804.4,302.9 L798.0,302.4 L796.8,303.0 L796.3,305.4 L797.6,311.8ZM800.8,310.6 L797.8,311.9 L800.5,318.4 L806.2,318.1 L807.4,313.9ZM814.5,319.5 L813.6,319.1 L808.5,320.3 L812.6,325.0 L816.1,321.3ZM814.5,319.5 L816.1,321.3 L820.5,322.5 L823.5,317.5 L819.8,311.1 L819.7,311.0 L819.7,311.0ZM812.6,325.0 L808.5,320.3 L807.6,320.2 L806.1,324.6 L807.9,329.1 L811.9,328.0ZM812.6,325.0 L811.9,328.0 L817.2,330.3 L820.5,322.7 L820.5,322.5 L816.1,321.3ZM850.3,340.3 L851.0,338.2 L847.5,335.8 L842.1,336.2 L844.2,342.2 L846.8,342.3ZM799.6,343.1 L802.8,349.3 L803.8,349.3 L805.4,348.6 L805.1,342.4ZM831.2,348.9 L833.6,350.4 L839.6,346.2 L839.9,345.2 L836.4,340.5 L830.0,341.5ZM853.1,346.8 L857.6,350.0 L859.9,348.5 L860.0,347.9 L856.3,343.1 L852.6,343.1ZM821.2,355.1 L815.6,349.1 L810.8,351.6 L811.7,356.4 L812.1,356.7 L816.0,357.6 L816.2,357.6ZM862.0,357.7 L865.1,353.0 L862.4,349.5 L859.9,348.5 L857.6,350.0 L855.7,354.4ZM865.1,353.0 L862.0,357.7 L864.0,362.6 L867.7,361.9 L868.6,356.6 L866.0,353.1ZM886.1,258.3 L886.3,264.6 L886.6,264.6 L886.9,257.4ZM850.7,269.3 L854.1,263.5 L851.7,259.7 L851.7,259.7 L847.6,267.2ZM865.4,262.5 L864.4,266.8 L869.8,269.5 L872.3,268.4 L870.6,263.6ZM877.3,262.4 L872.5,260.6 L870.6,263.6 L872.3,268.4 L875.8,268.3 L877.4,263.2ZM877.9,277.4 L881.7,275.7 L881.5,270.3 L876.4,269.0 L875.9,276.2ZM862.9,277.1 L862.4,278.3 L865.8,283.4 L871.5,280.9 L871.6,277.5 L868.7,275.4ZM865.8,283.4 L862.4,278.3 L857.7,281.0 L858.4,285.0 L864.0,290.2 L865.9,288.7ZM877.3,292.4 L883.8,298.3 L885.2,297.4 L885.4,291.2 L884.7,289.7 L878.0,290.5ZM884.7,289.7 L885.4,291.2 L885.5,288.4ZM855.4,300.0 L860.6,293.7 L854.5,291.3 L850.9,295.3ZM854.6,302.9 L854.6,304.0 L860.0,307.7 L861.7,307.3 L863.9,302.8 L863.5,301.7 L855.4,301.1ZM838.0,313.0 L844.4,312.6 L841.0,304.6 L840.0,304.1 L839.9,304.2 L839.9,304.2 L839.9,304.2 L837.4,312.2ZM841.0,304.6 L844.4,312.6 L846.4,313.5 L850.1,310.9 L850.2,309.0 L846.7,305.5ZM837.8,320.5 L837.8,320.5 L838.0,313.0 L837.4,312.2 L835.1,319.6ZM865.8,321.8 L863.6,319.4 L856.4,319.4 L859.6,327.3 L863.6,327.2ZM877.9,316.0 L876.2,324.2 L877.1,324.6 L880.0,324.5 L879.0,315.8ZM876.3,332.9 L880.4,331.8 L882.7,330.4 L883.5,327.6 L882.1,325.1 L880.0,324.5 L877.1,324.6ZM876.7,345.3 L871.9,346.8 L871.6,348.1 L875.7,346.4 L877.2,345.8ZM895.0,258.7 L894.5,259.6 L896.2,267.1 L903.0,264.6 L901.3,258.5 L896.2,257.8ZM922.6,266.0 L924.5,259.4 L915.6,262.1 L915.0,263.5 L915.2,264.0ZM925.4,258.8 L924.9,259.0 L924.5,259.4 L922.6,266.0 L923.2,267.4 L928.4,265.4 L929.3,263.3 L928.7,259.7ZM915.0,263.5 L910.2,262.4 L909.1,262.6 L905.5,266.6 L906.1,270.4 L911.8,271.0 L914.4,268.8 L915.2,264.0ZM914.2,281.2 L922.2,279.7 L922.7,279.3 L921.4,274.7 L913.3,276.8 L913.2,276.9ZM923.3,271.3 L921.8,272.6 L921.4,274.7 L922.7,279.3 L924.7,280.4 L930.6,278.4 L930.7,272.0 L930.4,271.8ZM891.8,281.4 L891.3,275.0 L887.0,275.4 L886.0,278.8 L885.9,280.7 L886.4,282.9 L888.6,283.8ZM918.9,292.0 L925.4,291.7 L924.0,287.5 L919.5,287.6ZM885.8,299.4 L889.7,295.9 L887.4,293.0 L885.4,292.8 L885.1,299.2ZM887.6,305.5 L892.0,300.6 L892.3,298.0 L889.8,296.0 L889.7,295.9 L885.8,299.4 L885.1,305.0ZM929.3,299.5 L932.7,304.6 L934.9,305.1 L936.2,304.3 L935.2,298.5ZM922.4,308.9 L926.5,309.6 L924.6,299.0 L924.4,299.0 L918.9,304.2ZM937.0,312.5 L937.0,312.0 L934.9,305.1 L932.7,304.6 L927.2,310.1 L927.9,312.4 L930.4,313.4 L932.8,313.7ZM934.9,305.1 L937.0,312.0 L936.8,308.0 L936.2,304.3ZM885.8,315.9 L886.8,318.0 L895.7,316.1 L897.0,311.7 L896.5,310.9 L890.7,309.8 L886.4,313.9ZM906.3,318.7 L900.9,312.4 L897.0,311.7 L895.7,316.1 L896.6,320.8 L896.9,320.9 L905.7,319.3ZM907.0,318.6 L910.3,310.1 L908.0,308.3 L900.9,312.4 L906.3,318.7ZM913.5,319.8 L915.8,313.1 L913.5,310.4 L910.3,310.1 L907.0,318.6 L908.5,319.2ZM925.5,315.7 L927.9,312.4 L927.2,310.1 L926.5,309.6 L922.4,308.9 L918.1,313.2 L920.0,314.9ZM927.9,312.4 L925.5,315.7 L925.5,321.0 L930.6,323.6 L930.4,313.4ZM895.7,316.1 L886.8,318.0 L886.7,319.4 L890.3,323.8 L893.4,324.5 L896.6,320.8ZM933.5,323.8 L933.8,323.2 L932.8,313.7 L930.4,313.4 L930.6,323.6 L931.7,324.5ZM896.9,320.9 L896.6,320.8 L893.4,324.5 L895.2,331.1 L899.8,331.4 L900.7,331.2 L903.9,329.2 L903.6,327.6ZM903.9,329.2 L905.1,329.5 L907.8,328.4 L909.2,325.8 L908.5,319.2 L907.0,318.6 L906.3,318.7 L905.7,319.3 L903.6,327.6ZM931.7,324.5 L930.6,323.6 L925.5,321.0 L921.2,322.8 L926.8,330.2 L931.2,326.2ZM888.3,339.8 L891.5,337.3 L892.5,333.6 L886.3,329.7 L883.6,333.1 L883.6,334.8ZM899.8,331.4 L895.2,331.1 L892.5,333.6 L891.5,337.3 L895.0,339.5 L895.9,332.6 L899.6,332.6ZM905.1,329.5 L903.9,329.2 L900.7,331.2 L901.2,332.6 L907.2,332.6ZM940.4,262.4 L945.0,258.7 L943.8,256.6 L933.3,256.6 L932.4,258.0 L933.4,259.2ZM958.4,257.1 L959.9,257.9 L961.8,257.1 L958.4,257.0ZM934.7,275.7 L934.9,268.6 L934.6,267.9 L934.0,267.7 L930.1,267.9 L931.0,273.5ZM945.4,272.9 L949.3,269.0 L949.2,267.5 L941.7,266.6 L941.1,270.1ZM971.0,271.7 L974.5,271.8 L972.5,268.5 L971.6,266.9ZM940.2,270.4 L937.2,277.1 L937.8,277.8 L944.9,276.3 L945.4,272.9 L941.1,270.1ZM962.1,279.3 L960.3,273.8 L955.7,272.9 L955.3,273.0 L953.8,276.1 L956.5,283.2 L958.8,282.2 L962.0,280.1ZM953.8,276.1 L947.3,279.2 L947.4,279.5 L950.4,284.7 L955.8,284.2 L956.5,283.2ZM937.9,290.5 L935.8,284.1 L932.8,284.3 L934.1,292.1 L935.2,292.9ZM965.9,298.0 L968.0,293.3 L962.0,289.6 L958.1,290.4 L956.6,293.1 L957.7,297.0 L959.4,298.5ZM975.6,300.4 L975.7,300.3 L975.9,294.0 L975.1,291.8 L969.5,292.4 L968.0,293.3 L965.9,298.0 L966.9,299.6 L969.4,301.4ZM983.0,310.8 L990.4,315.8 L990.8,315.8 L993.5,311.1 L988.0,304.5 L985.4,304.8 L981.9,309.1ZM996.0,310.6 L999.4,313.3 L999.9,312.8 L1000.2,312.1 L998.1,307.2ZM966.0,320.6 L970.4,324.8 L972.9,324.9 L974.5,319.6 L970.8,315.5 L965.7,317.8ZM990.8,337.5 L990.7,337.8 L993.6,337.8 L994.8,336.0 L995.0,334.7ZM907.7,334.2 L913.3,333.2 L913.2,332.6 L904.6,332.6ZM895.6,334.7 L894.7,342.2 L899.1,338.6 L899.3,337.0ZM913.3,333.2 L907.7,334.2 L908.2,338.9 L912.2,342.2 L914.3,340.8 L917.1,335.7 L916.6,334.6ZM944.6,337.8 L938.0,337.8 L938.0,335.2 L935.6,340.4 L943.4,342.2 L945.4,339.6 L944.7,337.8ZM985.5,338.7 L987.8,344.3 L994.0,339.4 L993.5,337.8 L986.8,337.8ZM934.4,347.0 L934.2,341.2 L930.0,339.0 L927.8,341.0 L927.6,347.7 L929.0,348.2ZM945.4,339.6 L943.4,342.2 L942.9,347.1 L947.8,348.5 L951.8,345.3 L951.7,343.9 L950.9,342.0 L947.8,339.8ZM951.8,345.3 L957.4,349.8 L957.5,349.8 L959.8,342.4 L959.5,341.7 L951.7,343.9ZM967.1,345.1 L959.8,342.4 L957.5,349.8 L960.9,350.4 L967.0,346.8ZM929.0,348.2 L927.6,347.7 L923.2,348.9 L930.0,355.1ZM969.9,350.6 L967.0,346.8 L960.9,350.4 L965.5,357.0 L970.2,353.2ZM998.4,358.3 L997.8,357.1 L997.0,353.2 L996.7,354.3 L997.2,358.2ZM1000.4,368.9 L1002.2,366.8 L998.4,358.3 L997.2,358.2 L996.6,359.3ZM1000.4,368.9 L1000.2,369.7 L1001.8,371.0 L1004.3,371.4 L1003.3,369.3 L1002.2,366.8ZM973.5,388.7 L971.6,382.7 L971.5,382.7 L971.4,383.0 L973.3,389.0ZM1003.1,410.6 L1004.6,409.0 L992.8,398.3 L991.1,400.0 L991.2,408.7 L997.2,412.6ZM1012.6,402.3 L1009.4,405.1 L1008.6,407.2 L1013.4,413.3 L1014.8,412.8 L1014.8,404.6 L1014.2,402.2ZM1000.6,255.4 L1001.8,255.0 L1001.5,254.6 L999.7,254.6ZM984.2,261.4 L977.6,255.7 L974.5,257.4 L977.1,264.7 L984.0,263.4ZM995.1,261.0 L992.8,257.8 L986.3,258.4 L984.2,261.4 L984.0,263.4 L984.4,264.0 L984.5,264.0ZM990.8,267.0 L993.5,266.7 L995.7,261.5 L995.1,261.0 L984.5,264.0ZM1016.0,271.3 L1014.0,275.7 L1017.2,276.8 L1022.7,276.1 L1020.5,268.7 L1019.4,268.6ZM996.2,280.3 L996.0,276.9 L994.4,273.8 L988.0,274.7 L986.9,275.3 L990.3,283.6 L991.1,284.0ZM1023.5,289.4 L1024.0,288.5 L1026.3,283.0 L1025.1,281.0 L1019.8,282.2 L1016.1,286.0 L1019.5,288.9ZM1033.6,280.1 L1027.8,283.3 L1032.8,287.6 L1035.7,282.6ZM1024.3,291.0 L1023.5,289.4 L1019.5,288.9 L1017.2,294.6 L1021.9,295.2ZM997.0,304.2 L1003.2,304.9 L1003.6,295.7 L1003.0,295.4 L998.7,296.1 L996.2,302.8 L996.7,304.1ZM1009.7,303.5 L1008.2,296.0 L1003.6,295.7 L1003.2,304.9 L1005.6,307.8 L1007.4,306.5ZM1001.3,227.8 L1005.2,226.0 L1000.8,226.0ZM1074.9,228.0 L1081.8,227.8 L1081.3,226.0 L1075.4,226.0ZM998.3,238.9 L1001.8,230.5 L1000.8,229.0 L997.9,229.5 L993.3,233.7 L994.7,236.6ZM1037.5,230.7 L1040.8,232.6 L1042.3,232.7 L1044.0,230.0 L1042.0,226.0 L1038.0,226.0ZM1084.5,236.6 L1082.7,230.7 L1081.2,233.9 L1081.8,236.5ZM979.0,235.5 L981.4,240.7 L982.1,241.3 L985.5,239.6 L987.1,234.4 L982.9,231.7 L982.1,232.0ZM953.1,248.8 L960.6,247.0 L961.9,242.9 L961.2,241.9 L961.1,241.9 L953.2,248.5 L953.1,248.7ZM1051.6,241.9 L1046.1,238.8 L1041.1,242.4 L1043.4,248.6 L1046.9,249.1 L1050.8,248.1 L1051.6,242.1ZM1082.5,250.5 L1084.2,249.1 L1086.1,244.5 L1086.0,243.8 L1081.3,243.3 L1081.2,248.8ZM953.1,248.8 L953.9,250.7 L959.2,251.6 L961.5,251.0 L960.6,247.0ZM1008.5,252.8 L1003.8,247.7 L1001.0,248.4 L999.0,254.4 L999.1,254.5 L1001.5,254.6 L1003.6,257.4ZM1012.2,247.6 L1010.0,252.9 L1013.1,255.3 L1017.9,253.5 L1017.4,247.9 L1016.4,246.1ZM1022.0,256.7 L1028.2,254.2 L1028.8,252.1 L1025.3,247.9 L1018.7,253.7ZM1046.2,256.3 L1046.9,249.1 L1043.4,248.6 L1040.6,252.0 L1044.6,257.1ZM953.3,254.5 L949.1,254.9 L948.0,256.6 L954.0,256.8ZM1021.8,260.4 L1022.5,260.8 L1030.6,258.9 L1030.6,258.8 L1028.2,254.2 L1022.0,256.7ZM1030.6,258.8 L1030.6,258.9 L1028.3,265.5 L1033.0,268.2 L1038.0,265.9 L1037.5,261.1 L1036.0,259.4ZM1037.5,261.1 L1038.0,265.9 L1041.8,268.3 L1045.7,264.6 L1046.0,261.9 L1044.3,257.9ZM1066.5,259.9 L1065.9,259.6 L1061.0,262.5 L1060.8,264.9 L1060.9,265.0 L1064.0,262.6 L1067.4,261.7ZM1039.0,273.9 L1042.3,269.9 L1041.8,268.3 L1038.0,265.9 L1033.0,268.2 L1032.3,271.9 L1035.3,274.7ZM1047.9,274.5 L1047.9,274.5 L1049.4,265.4 L1045.7,264.6 L1041.8,268.3 L1042.3,269.9ZM1047.9,274.5 L1047.9,274.5 L1046.3,277.8 L1047.2,279.1 L1051.1,274.2ZM933.5,229.4 L937.8,227.0 L938.1,225.3 L928.7,225.3 L928.3,226.4ZM868.0,234.5 L865.6,231.3 L864.2,234.1ZM977.4,234.4 L983.4,231.4 L983.7,228.5 L980.9,225.8 L979.4,225.8 L976.7,227.1 L976.3,227.6 L976.7,234.4ZM904.7,233.0 L903.7,233.7 L898.3,240.0 L899.5,242.1 L902.4,242.8 L906.7,241.4 L907.7,233.9ZM942.0,234.9 L939.1,235.6 L936.9,239.7 L938.2,246.5 L940.1,246.1 L943.5,237.4ZM949.8,240.0 L955.7,238.7 L958.1,234.6 L955.1,230.9 L949.3,232.4ZM880.0,246.7 L881.4,244.7 L877.3,237.1 L870.8,241.2 L871.4,243.2ZM958.2,244.0 L955.7,238.7 L949.8,240.0 L949.5,240.2 L949.0,242.4 L952.3,247.2 L954.6,247.3 L958.1,244.4ZM862.7,249.4 L863.4,254.1 L864.2,256.4 L871.7,250.7 L870.3,247.7ZM881.5,255.3 L884.8,256.0 L888.6,255.5 L890.1,252.9 L880.0,247.6 L877.8,252.6ZM949.0,242.4 L942.5,246.4 L948.2,252.6 L952.3,247.2ZM854.6,256.6 L864.2,256.6 L864.2,256.4 L863.4,254.1 L855.4,252.8 L855.2,253.3 L854.2,256.1ZM875.4,253.3 L871.7,250.7 L864.2,256.4 L864.2,256.6 L874.1,256.6ZM924.5,256.5 L923.1,253.5 L915.6,251.3 L913.9,254.0 L917.2,256.6 L924.3,256.6ZM888.6,255.5 L884.8,256.0 L884.6,256.6 L888.9,256.6ZM978.7,199.0 L976.6,194.8 L977.0,197.3 L978.5,199.0ZM945.7,223.2 L945.3,218.9 L943.2,219.0 L937.4,223.1 L938.4,225.3 L943.6,225.2ZM1032.5,184.6 L1031.8,178.6 L1029.7,178.6 L1026.9,182.8ZM1050.2,182.9 L1049.6,178.6 L1048.3,176.4 L1039.9,177.4 L1039.0,178.0 L1039.9,183.4 L1043.2,185.3 L1048.6,185.0 L1049.9,184.2ZM1050.2,182.9 L1049.9,184.2 L1054.7,186.6 L1060.8,183.7 L1058.9,179.8 L1057.4,178.8ZM1054.7,186.6 L1049.9,184.2 L1048.6,185.0 L1049.0,191.9 L1050.0,193.5 L1055.1,195.0 L1056.5,192.7ZM1040.4,198.4 L1042.4,195.4 L1042.8,192.9 L1042.4,191.6 L1033.0,191.2 L1033.0,191.6 L1036.8,198.7ZM1060.8,191.8 L1056.5,192.7 L1055.1,195.0 L1055.5,197.3 L1065.5,199.4 L1066.7,197.8ZM1028.9,198.8 L1026.6,203.2 L1032.9,205.5 L1034.8,203.4 L1036.2,199.5ZM1066.7,197.8 L1065.5,199.4 L1065.0,201.7 L1067.7,207.2 L1070.2,208.3 L1073.1,201.9 L1072.0,198.0 L1067.1,197.6ZM1017.2,209.7 L1020.1,210.1 L1024.5,209.3 L1024.4,203.5 L1022.6,202.4 L1015.8,205.7ZM1016.3,216.0 L1019.0,217.9 L1022.7,215.7 L1020.1,210.1 L1017.2,209.7 L1015.8,214.7ZM1034.2,215.7 L1035.2,213.2 L1032.9,208.9 L1025.5,210.7 L1025.2,214.8 L1030.0,218.0 L1030.1,218.0 L1032.6,217.5ZM1043.5,215.4 L1039.8,211.9 L1035.2,213.2 L1034.2,215.7 L1039.7,218.9ZM1041.4,209.8 L1039.8,211.9 L1043.5,215.4 L1046.7,216.7 L1050.9,213.4 L1051.2,211.7 L1046.7,208.9ZM1053.9,217.2 L1062.1,215.9 L1057.2,210.1 L1051.9,211.1 L1051.2,211.7 L1050.9,213.4ZM1072.2,210.3 L1072.7,215.1 L1075.8,217.2 L1075.9,217.2 L1078.2,215.8 L1078.0,215.0 L1076.5,207.5ZM1030.0,218.0 L1023.1,224.3 L1025.4,226.0 L1029.9,226.0 L1030.1,218.0ZM1046.0,220.5 L1046.7,216.7 L1043.5,215.4 L1039.7,218.9 L1042.9,223.9ZM1046.0,220.5 L1051.9,223.1 L1054.6,221.8 L1053.9,217.2 L1050.9,213.4 L1046.7,216.7ZM1023.1,224.3 L1022.0,224.3 L1021.8,226.0 L1025.4,226.0ZM1036.0,225.1 L1032.6,217.5 L1030.1,218.0 L1029.9,226.0 L1035.2,226.0ZM1042.4,225.4 L1036.0,225.1 L1035.2,226.0 L1042.7,226.0ZM1072.5,224.1 L1067.8,225.5 L1067.4,226.0 L1074.7,226.0ZM1038.1,170.4 L1040.0,170.6 L1041.7,169.2 L1045.3,170.2 L1046.0,170.0 L1045.9,169.6 L1041.7,166.0 L1036.8,166.0ZM990.9,194.0 L997.3,192.0 L995.9,188.8 L990.8,186.2 L990.4,186.7ZM1019.7,165.5 L1020.6,166.0 L1029.7,166.0 L1031.1,164.2 L1030.9,162.6 L1020.1,162.6 L1019.6,162.9ZM1075.4,162.6 L1067.0,162.6 L1066.6,165.6 L1074.4,166.4 L1075.5,162.7ZM1083.3,163.3 L1084.0,163.6 L1084.0,162.6 L1083.3,162.6ZM1050.5,167.6 L1046.2,163.5 L1043.9,165.0 L1043.5,167.6 L1047.0,170.6 L1049.0,172.6ZM1054.0,173.5 L1053.0,167.4 L1050.5,167.6 L1049.0,172.6 L1051.0,174.5 L1053.0,175.9ZM1060.3,175.7 L1056.9,178.5 L1058.9,179.8 L1060.4,182.8 L1062.1,184.6 L1066.3,177.3 L1062.5,174.9ZM1062.1,184.6 L1060.4,182.8 L1061.5,185.1 L1062.5,186.1ZM1071.6,189.3 L1067.4,185.7 L1062.8,186.4 L1066.8,190.4 L1069.9,192.7ZM1073.9,196.1 L1072.4,195.1 L1073.3,197.5ZM1079.9,195.3 L1076.7,187.6 L1071.6,189.3 L1069.9,192.7 L1072.1,194.3 L1072.4,195.1 L1073.9,196.1 L1079.9,195.8 L1079.9,195.7ZM1082.5,197.5 L1088.8,197.5 L1089.9,195.5 L1089.9,190.6 L1086.7,189.1 L1079.9,195.3 L1079.9,195.7ZM1093.2,188.4 L1089.9,190.6 L1089.9,195.5 L1090.5,195.5 L1093.4,188.6ZM1081.4,209.2 L1081.4,209.2 L1077.0,209.9 L1078.0,215.0 L1080.6,214.0 L1082.2,211.1Z"/>
<path fill="#dcdcdc" d="M661.5,235.6 L669.5,235.6 L669.5,227.6 L661.5,227.6ZM685.5,235.6 L685.5,243.6 L693.5,243.6 L693.5,235.6ZM693.5,235.6 L693.5,243.6 L700.5,243.6 L700.5,235.6ZM653.5,243.6 L653.5,251.6 L661.5,251.6 L661.5,243.6ZM661.5,243.6 L661.5,251.6 L669.5,251.6 L669.5,243.6ZM677.5,243.6 L677.5,251.6 L685.5,251.6 L685.5,243.6ZM693.5,243.6 L693.5,251.6 L700.5,251.6 L700.5,243.6ZM677.5,251.6 L677.5,259.6 L685.5,259.6 L685.5,251.6ZM677.5,259.6 L677.5,267.6 L685.5,267.6 L685.5,259.6ZM693.5,259.6 L693.5,267.6 L701.5,267.6 L701.5,265.4 L700.5,265.0 L700.5,259.6ZM653.5,267.6 L653.5,275.6 L661.5,275.6 L661.5,267.6ZM693.5,267.6 L693.5,275.6 L701.5,275.6 L701.5,267.6ZM725.5,275.6 L733.5,275.6 L733.5,275.4 L725.5,273.8ZM653.5,275.6 L653.5,283.6 L661.5,283.6 L661.5,275.6ZM669.5,275.6 L669.5,283.6 L677.5,283.6 L677.5,275.6ZM701.5,275.6 L701.5,283.6 L709.5,283.6 L709.5,275.6ZM653.5,283.6 L653.5,291.6 L661.5,291.6 L661.5,283.6ZM661.5,283.6 L661.5,291.6 L669.5,291.6 L669.5,283.6ZM685.5,283.6 L685.5,291.6 L693.5,291.6 L693.5,283.6ZM709.5,283.6 L709.5,291.6 L717.5,291.6 L717.5,283.6ZM725.5,283.6 L725.5,291.6 L733.5,291.6 L733.5,283.6ZM653.5,291.6 L653.5,299.6 L661.5,299.6 L661.5,291.6ZM685.5,291.6 L685.5,299.6 L693.5,299.6 L693.5,291.6ZM685.5,299.6 L677.5,299.6 L677.5,300.0 L685.5,300.0ZM693.5,299.6 L685.5,299.6 L685.5,300.0 L693.5,300.0ZM658.9,320.0 L659.7,320.9 L674.9,319.3 L676.1,315.4 L668.5,303.3 L659.3,308.8ZM632.0,317.4 L635.8,327.5 L647.0,322.2 L643.5,313.0 L643.1,313.0ZM661.6,329.2 L676.0,328.7 L674.9,319.3 L659.7,320.9ZM676.0,328.7 L676.5,329.4 L687.3,332.5 L688.0,332.0 L688.0,313.5 L676.1,315.4 L674.9,319.3ZM647.0,322.2 L635.8,327.5 L633.9,333.3 L634.5,335.1 L635.5,336.4 L644.1,336.7 L647.5,322.6ZM681.6,349.0 L681.7,349.0 L687.5,342.5 L687.3,332.5 L676.5,329.4 L671.5,340.0ZM644.1,336.7 L635.5,336.4 L633.3,346.6 L641.4,355.7 L655.5,342.0ZM641.4,356.4 L641.4,355.7 L633.3,346.6 L626.4,348.4 L626.7,349.3 L633.2,359.0ZM644.2,362.7 L641.4,356.4 L633.2,359.0 L634.2,360.5 L642.7,364.8ZM746.4,282.9 L746.4,280.3 L742.0,278.3 L742.0,286.2ZM739.2,300.9 L740.3,301.4 L750.7,295.9 L742.0,289.1 L742.0,300.0 L739.0,300.0ZM727.1,304.3 L720.8,301.7 L718.0,304.2 L717.4,309.4 L722.5,313.9 L729.5,314.4 L730.3,313.0ZM739.2,311.7 L743.3,309.3 L743.2,308.4 L740.3,301.4 L739.2,300.9 L738.5,301.2 L730.3,313.0ZM692.1,316.7 L688.0,313.5 L688.0,318.9ZM718.4,318.9 L722.5,313.9 L717.4,309.4 L710.5,314.3 L710.8,317.0ZM729.5,314.4 L722.5,313.9 L718.4,318.9 L720.1,322.8 L726.9,325.4 L730.6,320.8ZM722.2,333.4 L726.7,326.8 L726.9,325.4 L720.1,322.8 L712.2,327.9 L712.6,329.8ZM707.4,339.7 L707.4,339.8 L718.0,341.4 L722.7,336.9 L722.2,333.4 L712.6,329.8ZM700.7,350.2 L704.8,349.0 L707.2,346.2 L707.4,339.8 L707.4,339.7 L702.2,337.7 L700.0,338.9 L696.8,348.1ZM719.1,346.3 L718.0,341.4 L707.4,339.8 L707.2,346.2 L707.5,346.5 L719.0,347.7ZM727.7,340.1 L726.9,339.4 L722.7,336.9 L718.0,341.4 L719.1,346.3 L728.8,343.9 L728.9,343.2ZM734.1,372.5 L734.2,371.2 L728.5,365.7 L723.9,364.5 L723.0,364.9 L720.1,372.1 L727.6,374.9ZM740.1,380.3 L746.2,373.9 L746.3,373.6 L738.2,366.7 L734.2,371.2 L734.1,372.5 L739.0,379.7ZM701.7,218.0 L692.7,218.0 L692.8,222.4 L698.2,222.2 L701.7,220.4ZM711.5,219.4 L711.9,218.0 L701.7,218.0 L701.7,220.4 L706.6,225.0ZM723.0,232.7 L723.8,235.0 L728.7,238.5 L736.5,230.2 L735.8,228.8 L728.1,225.5ZM764.9,235.7 L759.0,228.7 L754.4,231.2 L754.2,240.5 L757.5,243.0 L759.5,242.6ZM701.5,250.7 L710.6,248.6 L710.4,240.9 L709.5,239.8 L701.7,238.8 L700.5,239.8 L700.5,249.7ZM754.2,240.5 L746.5,241.7 L744.3,245.2 L745.1,248.5 L751.7,253.1 L755.0,253.7 L757.5,243.0ZM757.5,243.0 L755.0,253.7 L755.8,254.7 L763.2,255.4 L766.9,246.9 L759.5,242.6ZM755.0,253.7 L751.7,253.1 L743.9,259.6 L749.5,265.9 L751.2,266.2 L753.9,264.9 L755.8,254.7ZM809.3,266.5 L807.0,260.8 L799.0,262.5 L803.2,267.7 L807.0,269.6ZM806.9,282.4 L800.6,282.3 L801.2,287.6 L803.0,289.2 L803.2,289.1 L807.7,283.5ZM830.0,341.4 L820.5,342.9 L821.8,345.2 L828.3,349.4 L831.2,348.9 L830.0,341.5ZM942.4,283.9 L937.5,281.9 L935.8,284.1 L937.9,290.5 L942.7,290.8 L944.2,289.7ZM952.2,322.3 L952.7,319.0 L941.6,318.4 L942.3,320.8 L946.7,324.8ZM955.7,228.5 L961.5,227.8 L962.3,225.3 L957.2,225.2 L956.9,225.2ZM908.8,246.9 L906.5,253.9 L911.4,256.1 L913.9,254.0 L915.6,251.3 L915.5,250.2 L910.6,245.4ZM947.2,198.9 L949.3,193.5 L944.2,190.1 L941.9,191.9 L941.8,195.6 L944.5,200.0ZM953.8,201.2 L954.5,193.5 L949.3,193.5 L947.2,198.9 L952.0,201.1ZM897.9,201.0 L901.1,204.4 L908.7,202.2 L906.6,198.8 L898.3,199.5ZM953.8,201.2 L955.1,202.9 L959.4,201.8 L959.5,196.9 L956.0,192.7 L955.5,192.6 L954.5,193.5ZM964.7,198.3 L964.0,197.5 L959.5,196.9 L959.4,201.8 L964.2,202.5ZM949.5,209.4 L950.1,209.8 L954.7,206.2 L955.1,202.9 L953.8,201.2 L952.0,201.1 L946.5,205.0ZM876.1,217.3 L872.5,219.1 L873.6,225.3 L875.9,225.5 L880.3,221.4ZM968.2,215.1 L961.2,218.4 L961.7,222.3 L962.0,222.6 L969.6,218.6ZM906.7,225.3 L905.0,222.4 L897.9,225.4 L906.6,225.4ZM1004.8,223.2 L1010.1,222.1 L1010.2,220.2 L1006.0,215.5 L1001.9,218.0 L1002.7,222.6ZM1013.9,167.6 L1016.7,167.9 L1019.5,167.2 L1019.5,166.0 L1013.8,166.0ZM982.4,177.1 L983.6,177.4 L988.1,172.4 L987.8,172.0 L983.6,174.5 L982.3,177.1Z"/>
<path fill="#f5a469" d="M669.5,235.6 L677.5,235.6 L677.5,227.6 L669.5,227.6ZM661.5,235.6 L661.5,243.6 L669.5,243.6 L669.5,235.6ZM669.5,235.6 L669.5,243.6 L677.5,243.6 L677.5,235.6ZM677.5,235.6 L677.5,243.6 L685.5,243.6 L685.5,235.6ZM685.5,243.6 L685.5,251.6 L693.5,251.6 L693.5,243.6ZM653.5,251.6 L653.5,259.6 L661.5,259.6 L661.5,251.6ZM693.5,251.6 L693.5,259.6 L700.5,259.6 L700.5,251.6ZM669.5,267.6 L669.5,275.6 L677.5,275.6 L677.5,267.6ZM709.5,275.6 L717.5,275.6 L717.5,272.2 L716.3,272.0 L709.5,269.0ZM661.5,275.6 L661.5,283.6 L669.5,283.6 L669.5,275.6ZM709.5,275.6 L709.5,283.6 L717.5,283.6 L717.5,275.6ZM725.5,275.6 L725.5,283.6 L733.5,283.6 L733.5,275.6ZM733.5,275.6 L733.5,283.6 L741.5,283.6 L741.5,276.7 L735.0,275.7 L734.5,275.6ZM669.5,283.6 L669.5,291.6 L677.5,291.6 L677.5,283.6ZM701.5,283.6 L701.5,291.6 L709.5,291.6 L709.5,283.6ZM717.5,283.6 L717.5,291.6 L725.5,291.6 L725.5,283.6ZM733.5,283.6 L733.5,291.6 L741.5,291.6 L741.5,283.6ZM741.5,283.6 L741.5,291.6 L742.0,291.6 L742.0,283.6ZM661.5,291.6 L661.5,299.6 L669.5,299.6 L669.5,291.6ZM725.5,291.6 L725.5,299.6 L733.5,299.6 L733.5,291.6ZM733.5,291.6 L733.5,299.6 L741.5,299.6 L741.5,291.6ZM669.5,299.6 L661.5,299.6 L661.5,300.0 L669.5,300.0ZM677.5,299.6 L669.5,299.6 L669.5,300.0 L677.5,300.0ZM709.5,299.6 L701.5,299.6 L701.5,300.0 L709.5,300.0ZM717.5,299.6 L709.5,299.6 L709.5,300.0 L717.5,300.0ZM741.5,299.6 L733.5,299.6 L733.5,300.0 L741.5,300.0ZM659.3,308.8 L668.5,303.3 L668.7,302.6 L667.9,300.0 L653.0,300.0 L653.0,307.5ZM668.7,302.6 L679.2,300.0 L667.9,300.0ZM627.1,315.6 L632.0,317.4 L643.1,313.0 L626.2,313.0ZM647.0,322.2 L647.5,322.6 L647.9,322.7 L658.9,320.0 L659.3,308.8 L653.0,307.5 L653.0,313.0 L643.5,313.0ZM676.1,315.4 L688.0,313.5 L688.0,300.3 L685.8,300.0 L679.2,300.0 L668.7,302.6 L668.5,303.3ZM635.8,327.5 L632.0,317.4 L627.1,315.6 L622.1,322.1 L620.8,327.7 L633.9,333.3ZM644.1,336.7 L655.5,342.0 L655.6,342.0 L656.1,341.6 L657.0,336.9 L647.9,322.7 L647.5,322.6ZM664.3,342.6 L671.5,340.0 L676.5,329.4 L676.0,328.7 L661.6,329.2 L657.0,336.9 L656.1,341.6ZM659.3,354.8 L664.0,354.0 L666.2,354.2 L669.6,351.4 L664.3,342.6 L656.1,341.6 L655.6,342.0ZM681.6,349.0 L671.5,340.0 L664.3,342.6 L669.6,351.4 L673.2,352.9ZM655.6,342.0 L655.5,342.0 L641.4,355.7 L641.4,356.4 L644.2,362.7 L651.2,364.8 L652.4,364.1 L654.7,361.4 L658.5,355.0 L659.3,354.8ZM685.8,358.0 L685.1,361.3 L686.4,362.8 L688.0,364.2 L688.0,357.4ZM644.2,362.7 L642.7,364.8 L649.0,368.0 L651.4,365.2 L651.2,364.8ZM758.0,283.7 L759.6,280.9 L759.2,279.4 L750.0,278.0ZM768.1,287.0 L769.0,280.5 L759.6,280.9 L758.0,283.7 L757.3,285.6 L761.3,288.1ZM746.4,282.9 L742.0,286.2 L742.0,289.1 L750.7,295.9 L752.4,295.9 L755.1,287.2ZM720.8,301.7 L720.7,300.0 L709.9,300.0 L712.4,302.9 L718.0,304.2ZM688.0,303.2 L688.0,307.3 L693.6,312.6 L696.5,305.4 L693.0,300.0 L691.5,300.0ZM710.5,314.3 L717.4,309.4 L718.0,304.2 L712.4,302.9 L705.8,310.1ZM738.5,301.2 L730.2,301.8 L727.1,304.3 L730.3,313.0 L730.3,313.0ZM752.0,302.4 L743.2,308.4 L743.3,309.3 L748.6,313.8 L752.7,313.4 L754.8,310.9ZM777.4,311.6 L784.8,313.0 L781.8,305.9 L776.2,306.4 L774.8,307.6ZM793.6,310.8 L796.0,316.5 L798.9,317.9 L796.1,304.4 L795.5,304.3ZM712.2,327.9 L720.1,322.8 L718.4,318.9 L710.8,317.0 L708.6,321.9 L708.4,323.7ZM765.3,329.5 L766.1,327.5 L763.6,321.4 L757.4,320.8 L755.8,322.8 L753.2,328.8 L764.6,330.1ZM779.0,321.5 L779.0,321.5 L778.8,321.3 L768.9,315.2 L767.3,315.6 L763.6,321.4 L766.1,327.5 L770.8,327.1ZM786.9,332.1 L789.5,323.9 L789.4,323.6 L782.6,320.3 L779.0,321.5 L779.0,321.5 L780.0,328.1ZM698.8,329.9 L702.2,337.7 L707.4,339.7 L712.6,329.8 L712.2,327.9 L708.4,323.7 L704.0,325.4ZM726.9,339.4 L732.3,331.9 L726.7,326.8 L722.2,333.4 L722.7,336.9ZM747.2,342.1 L748.3,341.5 L750.9,331.2 L750.8,330.9 L747.2,329.7 L740.4,334.9 L746.8,342.2ZM770.8,327.1 L766.1,327.5 L765.3,329.5 L771.0,336.3 L776.8,336.3 L776.7,334.7ZM799.0,329.6 L798.7,329.7 L794.7,334.5 L796.0,341.2 L798.4,340.7 L799.4,329.7ZM689.5,340.6 L688.2,338.4 L688.0,338.3 L688.0,343.9 L689.3,342.8ZM755.2,343.2 L756.9,336.4 L750.9,331.2 L748.3,341.5ZM693.3,348.1 L689.3,342.8 L688.0,343.9 L688.0,354.9 L690.4,355.3 L690.7,355.2ZM696.8,358.6 L697.8,358.3 L700.7,350.2 L696.8,348.1 L693.3,348.1 L690.7,355.2ZM715.7,354.9 L707.5,346.5 L707.2,346.2 L704.8,349.0 L707.3,358.4 L715.5,355.2ZM737.2,342.4 L728.9,343.2 L728.8,343.9 L729.4,353.0 L733.6,354.1 L740.5,348.7 L740.7,347.4ZM697.8,358.3 L705.9,360.8 L707.3,358.4 L704.8,349.0 L700.7,350.2ZM717.4,360.8 L723.0,364.9 L723.9,364.5 L728.2,353.4 L719.8,351.7 L715.7,354.9 L715.5,355.2ZM744.1,361.8 L745.9,352.5 L740.5,348.7 L733.6,354.1 L736.1,359.0 L739.7,362.5ZM746.8,363.0 L755.5,360.2 L756.9,353.1 L751.3,351.9 L745.9,352.5 L744.1,361.8ZM738.2,366.7 L746.3,373.6 L748.5,371.8 L746.8,363.0 L744.1,361.8 L739.7,362.5ZM748.5,371.8 L753.8,372.3 L757.8,369.2 L758.2,364.4 L755.5,360.2 L746.8,363.0ZM768.5,365.7 L761.8,364.1 L758.2,364.4 L757.8,369.2 L762.0,372.2 L767.1,369.4ZM727.6,374.9 L720.1,372.1 L718.4,373.3 L718.2,378.6 L723.0,383.3 L727.8,380.9ZM757.8,369.2 L753.8,372.3 L755.2,378.7 L760.0,375.4 L762.5,373.9 L762.0,372.2ZM698.8,379.2 L698.2,379.7 L700.9,383.8ZM730.2,387.7 L733.3,390.2 L741.7,383.8 L740.1,380.3 L739.0,379.7 L731.2,382.5ZM706.4,391.7 L705.8,387.0 L702.5,386.4 L705.1,390.3 L706.0,392.0ZM722.5,393.8 L731.7,398.2 L733.5,395.9 L733.3,390.2 L730.2,387.7 L723.6,389.0ZM722.6,404.0 L721.1,394.7 L715.0,395.5 L712.3,400.7 L714.5,406.1ZM726.7,406.1 L722.6,404.0 L714.5,406.1 L714.4,407.0 L717.9,411.5 L725.0,410.3ZM742.5,422.0 L740.1,422.9 L742.5,424.0 L742.9,422.3ZM660.3,218.0 L653.0,218.0 L653.0,223.1ZM674.2,219.4 L680.7,219.5 L681.4,218.0 L674.0,218.0ZM722.9,218.1 L722.8,218.0 L711.9,218.0 L711.5,219.4 L717.2,225.5ZM769.2,219.1 L771.6,218.3 L771.8,218.0 L767.4,218.0ZM682.0,221.6 L680.7,219.5 L674.2,219.4 L670.4,221.1 L671.6,227.6 L681.7,227.6ZM691.9,223.5 L682.0,221.6 L681.7,227.6 L692.2,227.6ZM779.7,224.1 L779.7,224.1 L771.6,218.3 L769.2,219.1 L768.6,225.7 L771.3,228.6ZM782.5,233.3 L779.7,224.1 L771.3,228.6 L771.5,235.6 L774.1,238.0ZM728.7,238.5 L723.8,235.0 L717.5,241.3 L719.8,244.9 L724.7,247.4 L725.4,247.3 L729.4,240.2ZM774.1,238.1 L774.1,238.0 L771.5,235.6 L764.9,235.7 L759.5,242.6 L766.9,246.9 L770.0,246.1ZM781.7,245.6 L774.1,238.1 L770.0,246.1 L771.4,247.9ZM701.8,255.8 L706.6,259.3 L711.6,250.1 L710.6,248.6 L701.5,250.7ZM725.4,247.3 L724.7,247.4 L717.8,254.6 L719.0,259.2 L728.0,257.4 L731.3,254.9ZM776.1,255.3 L776.4,255.3 L779.6,253.5 L783.2,246.8 L781.7,245.6 L771.4,247.9ZM706.6,259.3 L707.2,260.5 L714.8,263.2 L717.9,261.3 L719.0,259.2 L717.8,254.6 L714.3,251.2 L711.6,250.1ZM780.8,263.9 L776.4,255.3 L776.1,255.3 L768.5,259.9 L772.8,268.9 L780.7,264.4ZM787.6,260.9 L787.6,257.2 L779.6,253.5 L776.4,255.3 L780.8,263.9ZM714.8,263.2 L713.5,270.7 L716.3,272.0 L721.1,272.9 L726.9,270.9 L726.7,269.8 L717.9,261.3ZM728.5,265.7 L726.7,269.8 L726.9,270.9 L729.0,272.8 L732.3,273.2 L737.3,263.2 L737.1,261.9ZM772.8,268.9 L772.1,273.2 L780.0,274.7 L785.0,271.3 L780.7,264.4ZM785.0,271.3 L787.1,271.6 L787.8,271.1 L787.6,260.9 L780.8,263.9 L780.7,264.4ZM732.3,273.2 L729.0,272.8 L728.3,274.4 L735.0,275.7 L736.5,275.9ZM767.5,279.0 L768.0,276.8 L760.8,269.2 L754.7,276.5 L756.4,278.9 L760.0,279.5 L766.5,279.8ZM780.0,274.7 L772.1,273.2 L768.0,276.8 L767.5,279.0 L768.5,279.9 L781.3,280.4ZM787.1,271.6 L785.0,271.3 L780.0,274.7 L781.3,280.4 L788.0,280.7 L787.9,273.8ZM767.5,279.0 L766.5,279.8 L768.5,279.9ZM838.5,230.2 L839.6,227.2 L831.1,227.2 L831.1,228.7 L831.2,228.8 L835.2,230.5ZM792.2,228.0 L787.0,228.7 L787.2,236.6 L792.8,236.0ZM795.5,240.5 L793.7,236.5 L792.8,236.0 L787.2,236.6 L787.3,243.1 L790.5,243.6ZM798.9,233.1 L793.7,236.5 L795.5,240.5 L798.5,243.1 L802.6,240.7 L801.7,235.8ZM801.7,235.8 L802.6,240.7 L807.7,240.3 L808.0,236.7 L805.6,233.3ZM827.3,240.5 L825.7,236.4 L820.7,234.7 L817.4,238.1 L816.3,240.5 L819.7,244.1 L827.4,243.0ZM829.8,245.5 L836.5,239.2 L835.1,238.3 L827.3,240.5 L827.4,243.0 L828.5,245.1ZM791.4,249.6 L790.5,243.6 L787.3,243.1 L787.4,249.4ZM793.8,250.6 L794.3,250.6 L798.4,247.1 L798.5,247.0 L798.5,243.1 L795.5,240.5 L790.5,243.6 L791.4,249.6ZM798.5,243.1 L798.5,247.0 L806.9,249.6 L808.4,241.0 L807.7,240.3 L802.6,240.7ZM833.6,248.0 L838.7,244.0 L838.3,239.8 L836.5,239.2 L829.8,245.5ZM852.9,244.5 L849.8,248.3 L852.4,251.0 L856.3,251.0 L859.3,244.5ZM801.8,254.7 L798.4,247.1 L794.3,250.6 L798.0,257.4ZM815.4,250.4 L813.6,249.1 L807.5,250.4 L807.0,255.0 L807.5,256.1 L814.0,255.3 L816.4,252.7ZM819.8,246.8 L815.4,250.4 L816.4,252.7 L822.2,255.2 L824.2,253.2 L824.5,250.8ZM797.3,262.3 L797.3,262.4 L799.0,262.5 L807.0,260.8 L807.3,260.2 L807.5,256.1 L807.0,255.0 L801.8,254.7 L798.0,257.4ZM814.0,255.3 L807.5,256.1 L807.3,260.2 L815.3,260.1ZM818.6,262.6 L816.4,265.4 L819.1,272.4 L823.2,272.3 L823.7,267.3 L821.7,261.5ZM800.0,281.7 L800.6,282.3 L806.9,282.4 L808.1,275.5 L806.2,273.8 L803.2,274.4ZM810.6,285.0 L815.3,277.8 L814.8,276.4 L808.1,275.5 L806.9,282.4 L807.7,283.5ZM824.7,273.5 L823.2,272.3 L819.1,272.4 L815.1,275.8 L814.8,276.4 L815.3,277.8 L820.0,281.9 L822.1,280.4ZM830.4,281.1 L831.3,275.2 L830.0,274.1 L824.7,273.5 L822.1,280.4 L830.4,281.1ZM788.0,279.5 L788.0,280.7 L790.8,280.7ZM803.2,289.1 L810.5,289.9 L812.4,288.7 L810.6,285.0 L807.7,283.5ZM815.3,277.8 L810.6,285.0 L812.4,288.7 L814.5,289.4 L818.6,289.0 L820.2,287.5 L820.0,281.9ZM840.0,282.4 L834.1,283.3 L834.5,288.9 L840.8,286.7ZM802.6,292.9 L796.2,293.6 L795.7,295.0 L803.9,295.0ZM808.4,293.6 L806.7,295.0 L810.2,295.0ZM815.7,296.6 L821.9,296.4 L822.1,295.2 L822.0,295.0 L814.2,295.0ZM833.0,296.9 L840.0,298.3 L840.1,295.5 L839.5,295.0 L832.8,295.0ZM840.0,298.3 L841.0,299.1 L841.6,298.7 L842.1,297.0 L840.1,295.5ZM820.5,322.7 L825.5,326.4 L830.5,321.2 L827.3,317.5 L823.5,317.5 L820.5,322.5ZM804.0,331.6 L806.6,331.3 L807.9,329.1 L806.1,324.6 L799.9,324.2 L799.6,327.4ZM852.5,336.9 L859.3,337.2 L861.0,332.4 L860.8,331.5 L854.0,331.5 L852.2,333.1ZM805.1,342.4 L805.4,348.6 L807.0,348.8 L810.8,344.3 L809.5,337.9 L805.4,340.2ZM862.4,349.5 L864.5,348.4 L864.5,347.4 L863.2,341.7 L862.8,341.6 L860.0,347.9 L859.9,348.5ZM803.8,349.3 L802.8,349.3 L798.2,351.5 L797.4,353.0 L798.8,355.8 L805.1,355.8ZM828.3,349.4 L822.4,355.5 L823.3,356.6 L824.5,356.9 L827.2,356.7 L830.7,358.4 L834.3,354.3 L833.6,350.4 L831.2,348.9ZM848.4,349.2 L847.8,350.6 L854.7,355.1 L855.7,354.4 L857.6,350.0 L853.1,346.8ZM847.4,366.1 L843.1,364.5 L843.0,364.6 L843.0,365.2 L845.8,367.0 L847.5,366.4ZM885.8,265.3 L886.3,264.6 L886.1,258.3 L879.3,258.4 L877.3,262.4 L877.4,263.2ZM886.3,264.6 L885.8,265.3 L885.0,269.0 L886.3,270.3 L886.6,264.6ZM885.0,269.0 L881.5,270.3 L881.7,275.7 L886.0,277.5 L886.3,270.3ZM871.5,280.9 L874.7,285.4 L876.4,285.8 L876.7,285.5 L878.4,279.9 L877.9,277.4 L875.9,276.2 L871.6,277.5ZM855.4,301.1 L863.5,301.7 L863.9,295.7 L862.5,293.4 L860.6,293.7 L855.4,300.0ZM876.8,303.1 L873.4,300.2 L868.7,303.7 L869.3,309.2 L875.1,308.0 L876.1,307.3ZM845.5,319.8 L846.4,313.5 L844.4,312.6 L838.0,313.0 L837.8,320.5 L841.8,321.9ZM863.6,319.4 L865.8,321.8 L870.6,320.2 L871.9,316.5 L867.7,311.7 L866.6,311.7 L863.6,314.7ZM871.9,346.8 L871.0,346.1 L864.5,348.6 L864.5,351.0 L871.6,348.1ZM886.8,261.1 L893.5,260.1 L894.5,259.6 L895.0,258.7 L891.8,256.6 L886.9,256.6 L886.7,261.0ZM904.2,257.0 L909.1,262.6 L910.2,262.4 L910.5,256.6 L904.5,256.6ZM928.7,259.7 L928.2,256.6 L925.5,256.6 L925.4,258.8ZM886.7,262.1 L886.4,267.6 L888.5,267.8 L893.5,260.1 L886.8,261.1ZM901.3,258.5 L903.0,264.6 L905.5,266.6 L909.1,262.6 L904.2,257.0ZM910.2,262.4 L915.0,263.5 L915.6,262.1 L915.4,256.6 L910.5,256.6ZM888.5,267.8 L893.1,270.1 L895.8,269.0 L896.2,267.1 L894.5,259.6 L893.5,260.1ZM914.4,268.8 L921.8,272.6 L923.3,271.3 L923.2,267.4 L922.6,266.0 L915.2,264.0ZM923.3,271.3 L930.4,271.8 L928.4,265.4 L923.2,267.4ZM928.4,265.4 L930.4,271.8 L930.7,272.0 L930.8,272.0 L929.3,263.3ZM895.8,269.0 L893.1,270.1 L891.4,274.9 L897.9,277.6 L902.3,274.3ZM930.6,278.4 L932.0,279.5 L930.8,272.0 L930.7,272.0ZM897.9,277.6 L896.3,281.5 L898.4,284.9 L902.5,284.5 L905.4,283.0 L905.0,278.6 L902.3,274.3 L902.3,274.3ZM912.9,285.1 L918.5,286.6 L922.2,279.7 L914.2,281.2ZM918.5,286.6 L919.5,287.6 L924.0,287.5 L925.7,285.2 L924.7,280.4 L922.7,279.3 L922.2,279.7ZM912.9,285.1 L911.7,285.9 L913.1,292.2 L917.8,293.9 L918.9,292.0 L919.5,287.6 L918.5,286.6ZM917.1,304.3 L918.9,304.2 L924.4,299.0 L918.3,295.2 L913.9,300.4 L914.4,301.5ZM924.6,299.0 L926.5,309.6 L927.2,310.1 L932.7,304.6 L929.3,299.5 L927.1,297.7ZM890.7,309.8 L896.5,310.9 L897.3,307.3 L892.0,300.6 L887.6,305.5ZM915.8,322.6 L913.5,319.8 L908.5,319.2 L909.2,325.8ZM893.4,324.5 L890.3,323.8 L885.8,328.1 L886.3,329.7 L892.5,333.6 L895.2,331.1ZM917.1,329.6 L917.7,324.0 L915.8,322.6 L909.2,325.8 L907.8,328.4ZM926.6,330.4 L926.8,330.2 L921.2,322.8 L919.5,323.1 L917.7,324.0 L917.1,329.6 L917.4,330.5 L919.3,332.6 L919.7,332.6ZM907.2,332.6 L914.2,332.6 L917.4,330.5 L917.1,329.6 L907.8,328.4 L905.1,329.5ZM888.0,340.4 L889.1,344.1 L894.4,344.6 L895.0,339.5 L891.5,337.3 L888.3,339.8ZM888.0,340.4 L883.3,341.7 L883.2,343.6 L889.1,344.1ZM934.0,267.7 L933.4,259.2 L932.4,258.0 L928.6,258.7 L930.1,267.9ZM940.2,263.6 L940.4,262.4 L933.4,259.2 L934.0,267.7 L934.6,267.9ZM962.9,257.2 L961.8,257.1 L959.9,257.9 L961.4,263.8 L962.0,264.2 L969.1,262.7 L966.5,258.4ZM957.6,265.7 L955.7,272.9 L960.3,273.8 L963.9,270.8 L962.0,264.2 L961.4,263.8ZM934.7,275.7 L934.7,275.7 L931.0,273.5 L931.7,277.5ZM934.9,268.6 L934.7,275.7 L934.7,275.7 L937.2,277.1 L940.2,270.4ZM973.6,281.5 L977.3,285.5 L980.7,282.0 L980.4,281.7 L977.8,277.4ZM989.7,296.4 L992.2,295.8 L991.0,293.6 L989.2,291.6 L986.9,293.5ZM970.1,307.7 L970.9,308.3 L975.8,305.4 L975.6,300.4 L969.4,301.4ZM940.0,310.8 L943.2,307.5 L944.3,303.9 L940.3,300.2 L940.2,300.2 L936.3,304.8 L936.8,308.0 L936.9,309.8ZM993.9,319.8 L997.7,318.3 L999.6,313.5 L999.4,313.3 L996.0,310.6 L993.5,311.1 L990.8,315.8ZM938.3,326.3 L942.3,320.8 L941.6,318.4 L941.5,318.3 L937.3,319.0 L937.7,326.0ZM948.1,330.5 L945.7,329.6 L942.9,331.7 L943.0,332.4 L948.3,337.8 L953.1,337.8ZM991.6,326.8 L988.6,329.0 L990.8,337.5 L995.0,334.7 L995.6,329.0ZM938.0,334.9 L938.0,332.6 L937.4,332.6ZM929.7,338.1 L930.0,339.0 L934.2,341.2 L935.6,340.4 L938.0,335.2 L938.0,334.9 L937.4,332.6 L931.9,332.6ZM914.3,340.8 L912.2,342.2 L911.6,344.2 L920.5,346.4ZM981.8,356.6 L978.1,354.7 L974.0,355.1 L972.7,360.2 L978.1,364.8 L981.4,358.5ZM987.8,365.5 L988.2,368.1 L991.5,368.9 L993.7,360.5 L989.5,359.5ZM1012.0,394.8 L1012.6,402.3 L1014.2,402.2 L1012.3,394.6ZM1005.8,422.6 L1007.0,423.0 L1014.4,421.2 L1013.4,413.3 L1008.6,407.2 L1004.6,409.0 L1003.1,410.6ZM999.9,261.6 L1001.3,266.6 L1006.1,269.7 L1009.3,265.3 L1009.6,264.2 L1007.4,261.2 L1006.8,260.9ZM1025.0,267.2 L1029.4,269.4 L1029.5,269.3 L1025.7,265.9ZM996.0,270.8 L994.4,273.8 L996.0,276.9 L1003.9,274.0 L1004.2,273.8ZM1006.7,287.5 L1011.5,290.0 L1014.4,285.8 L1010.5,280.1 L1004.8,283.8ZM1019.5,288.9 L1016.1,286.0 L1014.4,285.8 L1011.5,290.0 L1010.4,294.9 L1015.1,296.5 L1017.2,294.6ZM1003.2,304.9 L997.0,304.2 L1000.4,312.0 L1005.6,307.8ZM1009.7,303.5 L1007.4,306.5 L1011.0,303.6ZM1048.8,227.9 L1049.3,228.0 L1052.9,226.1 L1052.9,226.0 L1047.5,226.0ZM970.7,238.9 L973.1,238.5 L974.9,235.7 L973.0,236.6 L969.7,238.1ZM979.0,235.5 L982.1,232.0 L976.8,234.7ZM987.1,234.4 L989.6,233.0 L989.2,227.9 L988.5,226.4 L983.6,231.3 L982.9,231.7ZM997.9,229.5 L995.1,227.0 L989.2,227.9 L989.6,233.0 L993.3,233.7ZM961.9,242.9 L966.3,245.4 L969.4,245.1 L970.7,238.9 L969.7,238.1 L961.2,241.9ZM973.1,238.5 L974.9,239.7 L981.4,240.7 L979.0,235.5 L976.8,234.7 L974.9,235.7ZM993.3,233.7 L989.6,233.0 L987.1,234.4 L985.5,239.6 L990.3,242.8 L990.5,242.7 L994.7,236.6ZM990.5,242.7 L996.6,244.2 L998.7,239.5 L998.3,238.9 L994.7,236.6ZM1006.2,242.9 L1008.8,243.9 L1016.7,241.6 L1010.4,234.9 L1007.9,235.8 L1005.7,240.0ZM960.6,247.0 L961.5,251.0 L963.7,251.8 L966.3,245.4 L961.9,242.9ZM970.7,238.9 L969.4,245.1 L972.5,248.1 L975.3,248.3 L974.9,239.7 L973.1,238.5ZM975.3,248.3 L977.2,249.0 L980.5,247.0 L982.1,241.3 L981.4,240.7 L974.9,239.7ZM990.3,242.8 L989.5,247.4 L993.9,249.2 L997.5,246.4 L996.6,244.2 L990.5,242.7ZM1008.5,252.8 L1010.0,252.9 L1012.2,247.6 L1008.8,243.9 L1006.2,242.9 L1003.8,247.7ZM969.4,245.1 L966.3,245.4 L963.7,251.8 L966.0,255.0 L968.0,254.1 L972.5,248.1ZM977.5,253.1 L977.5,252.5 L977.2,249.0 L975.3,248.3 L972.5,248.1 L968.0,254.1 L971.7,255.7 L975.8,254.6ZM986.6,250.1 L980.5,247.0 L977.2,249.0 L977.5,252.5 L984.6,254.2 L987.6,254.2ZM1025.3,247.9 L1025.2,247.6 L1017.4,247.9 L1017.9,253.5 L1018.7,253.7ZM1084.2,249.1 L1086.6,247.2 L1086.1,244.5ZM959.2,251.6 L953.9,250.7 L953.3,254.5 L954.0,256.8 L959.2,257.0ZM966.0,255.0 L963.7,251.8 L961.5,251.0 L959.2,251.6 L959.2,257.0 L965.3,257.3ZM968.0,254.1 L966.0,255.0 L965.3,257.3 L965.9,257.3 L971.7,255.7ZM977.5,253.1 L975.8,254.6 L977.8,254.0 L978.0,254.0ZM1027.2,265.7 L1022.5,260.8 L1021.8,260.4 L1020.7,261.3 L1026.4,266.5ZM1046.0,261.9 L1045.7,264.6 L1049.4,265.4 L1052.8,265.0 L1053.6,262.9 L1052.3,260.2ZM1054.5,269.5 L1060.8,264.9 L1061.0,262.5 L1059.4,261.9 L1053.6,262.9 L1052.8,265.0ZM1046.3,277.8 L1044.9,279.0 L1047.0,279.4 L1047.2,279.1ZM898.7,225.4 L890.1,225.4 L890.1,226.8 L897.8,226.2ZM912.3,226.7 L914.0,225.3 L909.5,225.4ZM928.7,225.3 L923.7,225.3 L924.5,227.8 L928.3,226.4ZM950.6,225.4 L955.1,229.5 L955.7,228.5 L956.9,225.2 L950.7,225.2ZM976.7,227.1 L979.4,225.8 L975.9,225.7ZM983.7,228.5 L986.4,228.5 L988.9,226.0 L980.9,225.8ZM889.0,228.3 L886.5,228.0 L881.7,230.7 L881.1,234.2 L890.7,232.5ZM903.7,233.7 L904.7,233.0 L901.4,225.5 L901.2,225.4 L901.1,225.4 L898.7,225.4 L897.8,226.2 L895.6,232.2ZM912.3,226.7 L909.5,225.4 L902.1,225.4 L901.4,225.5 L904.7,233.0 L907.7,233.9 L910.2,233.3ZM924.5,227.8 L924.0,228.4 L924.5,235.4 L930.7,236.5 L933.8,232.6 L933.5,229.4 L928.3,226.4ZM942.8,230.5 L937.8,227.0 L933.5,229.4 L933.8,232.6 L939.1,235.6 L942.0,234.9 L943.4,231.8ZM949.1,225.7 L948.2,225.2 L945.2,225.2 L942.8,230.5 L943.4,231.8 L947.9,231.7ZM949.3,232.4 L955.1,230.9 L955.1,229.5 L950.6,225.4 L949.1,225.7 L947.9,231.7ZM976.7,234.4 L976.3,227.6 L968.2,227.6 L966.9,231.8 L974.5,235.9 L976.2,235.0ZM878.0,235.9 L872.9,230.8 L871.9,231.0 L868.5,234.9 L868.6,239.9 L870.8,241.2 L877.3,237.1ZM890.7,232.5 L881.1,234.2 L881.0,234.3 L886.2,238.8 L891.0,239.0 L892.5,237.8 L892.5,234.9ZM910.2,233.3 L907.7,233.9 L906.7,241.4 L910.6,244.8 L913.3,241.9 L911.6,234.2ZM926.1,245.9 L926.2,245.9 L931.3,237.9 L931.3,237.8 L930.7,236.5 L924.5,235.4 L921.7,239.0 L921.7,239.7 L924.0,244.2ZM931.3,237.8 L936.9,239.7 L939.1,235.6 L933.8,232.6 L930.7,236.5ZM966.9,231.8 L963.0,234.5 L964.2,237.1 L967.6,239.0 L973.0,236.6 L974.5,235.9ZM862.0,243.1 L862.9,240.7 L861.6,239.4 L859.6,243.8ZM862.6,249.2 L862.0,243.1 L859.6,243.8 L857.0,249.5ZM891.0,239.0 L886.2,238.8 L881.6,244.7 L890.2,246.9ZM902.4,242.8 L899.5,242.1 L898.3,245.8 L901.0,252.7 L904.3,247.0ZM902.4,242.8 L904.3,247.0 L908.8,246.9 L910.6,245.4 L910.6,244.8 L906.7,241.4ZM910.6,245.4 L915.5,250.2 L916.6,248.8 L917.2,241.8 L913.3,241.9 L910.6,244.8ZM964.2,237.1 L963.2,241.0 L967.6,239.0ZM863.4,254.1 L862.7,249.4 L862.6,249.2 L857.0,249.5 L855.4,252.8ZM915.5,250.2 L915.6,251.3 L923.1,253.5 L926.1,245.9 L924.0,244.2 L916.6,248.8ZM940.1,246.1 L938.2,246.5 L937.3,247.3 L938.1,253.2 L945.7,255.3 L948.2,253.0 L948.2,252.6 L942.5,246.4ZM881.5,255.3 L877.8,252.6 L875.4,253.3 L874.1,256.6 L880.9,256.6ZM904.5,254.0 L901.0,252.8 L899.1,254.0 L898.8,256.6 L904.4,256.6ZM906.5,253.9 L904.5,254.0 L904.4,256.6 L911.5,256.6 L911.4,256.1ZM913.9,254.0 L911.4,256.1 L911.5,256.6 L917.2,256.6ZM927.1,191.8 L927.2,188.4 L923.7,191.6ZM927.1,191.8 L927.7,192.5 L931.7,194.2 L932.1,194.3 L935.7,191.1 L934.9,186.6 L930.9,184.9 L930.6,185.2 L927.2,188.4ZM949.2,183.0 L945.2,185.1 L944.2,190.1 L949.3,193.5 L954.5,193.5 L955.5,192.6 L953.0,184.5ZM970.1,192.0 L975.7,193.0 L971.7,184.4 L968.7,184.3 L967.1,186.2 L967.1,189.3ZM895.1,202.6 L897.9,201.0 L898.3,199.5 L896.0,199.7 L891.7,199.7ZM908.7,202.2 L912.1,203.9 L912.2,203.8 L912.0,198.4 L906.6,198.8ZM912.2,203.8 L915.9,203.8 L919.8,199.4 L918.5,195.7 L912.0,198.4 L912.0,198.4ZM932.1,194.3 L931.7,194.2 L924.2,200.8 L926.6,202.8 L932.3,195.6ZM881.7,212.6 L882.2,211.8 L881.7,209.7 L881.3,210.4 L878.2,212.9ZM902.2,208.9 L901.1,204.4 L897.9,201.0 L895.1,202.6 L895.0,202.7 L895.4,209.3 L900.8,210.9ZM914.7,212.3 L918.6,212.3 L920.0,209.3 L915.9,203.8 L912.2,203.8 L912.1,203.9 L910.5,207.2ZM931.6,211.6 L929.7,205.3 L927.2,204.3 L923.1,209.0 L927.0,213.4ZM935.7,213.3 L939.0,210.0 L939.1,209.6 L939.2,205.3 L936.2,202.9 L929.7,205.3 L931.6,211.6ZM872.5,219.1 L876.1,217.3 L877.1,213.8 L871.4,218.4ZM908.2,209.6 L902.2,208.9 L900.8,210.9 L899.9,217.0 L903.7,218.7 L909.2,215.4ZM919.1,215.9 L918.6,212.3 L914.7,212.3 L910.3,215.8 L911.0,216.6 L916.0,219.6ZM927.0,213.4 L923.1,209.0 L920.0,209.3 L918.6,212.3 L919.1,215.9 L925.5,218.1 L925.8,217.6ZM950.0,215.5 L951.8,216.5 L958.6,215.2 L960.4,210.5 L954.7,206.2 L950.1,209.8ZM962.1,209.8 L960.4,210.5 L958.6,215.2 L961.2,218.4 L968.2,215.1 L968.7,212.7ZM978.2,210.3 L975.5,211.0 L975.5,214.9 L979.9,211.7ZM883.2,222.3 L887.0,222.0 L893.3,218.4 L892.5,217.4 L883.4,216.6 L881.8,221.0ZM899.9,217.0 L894.3,219.0 L894.4,223.1 L896.5,225.4 L897.9,225.4 L905.0,222.4 L903.7,218.7ZM916.0,220.2 L916.0,219.6 L911.0,216.6 L909.3,225.1 L911.2,225.4 L913.2,225.3ZM921.5,223.4 L925.8,220.7 L925.5,218.1 L919.1,215.9 L916.0,219.6 L916.0,220.2ZM934.8,217.1 L934.9,221.6 L937.4,223.1 L943.2,219.0 L935.8,214.1ZM953.8,223.7 L951.8,216.5 L950.0,215.5 L947.2,216.6 L945.3,218.9 L945.7,223.2 L948.5,225.2 L953.1,225.2ZM1045.7,170.5 L1048.5,174.7 L1050.1,173.6 L1047.0,170.6 L1045.7,170.3ZM1032.5,184.6 L1034.8,186.7 L1039.9,183.4 L1039.0,178.0 L1036.7,176.5 L1031.8,178.6ZM1022.7,194.3 L1027.6,194.5 L1033.0,191.6 L1033.0,191.2 L1033.0,191.0 L1024.7,186.1 L1024.5,186.4 L1021.8,188.5ZM1043.2,185.3 L1039.9,183.4 L1034.8,186.7 L1033.0,191.0 L1033.0,191.2 L1042.4,191.6ZM1048.6,185.0 L1043.2,185.3 L1042.4,191.6 L1042.8,192.9 L1049.0,191.9ZM1015.4,197.2 L1014.0,199.6 L1009.9,204.7 L1010.3,205.3 L1014.8,205.3ZM1028.9,198.8 L1027.6,194.5 L1022.7,194.3 L1021.4,196.0 L1022.6,202.4 L1024.4,203.5 L1026.6,203.2ZM1045.5,202.1 L1048.5,201.1 L1047.9,195.9 L1042.4,195.4 L1040.4,198.4 L1044.0,201.7ZM1010.3,205.3 L1007.3,211.5 L1015.8,214.7 L1017.2,209.7 L1015.8,205.7 L1014.8,205.3ZM1024.4,203.5 L1024.5,209.3 L1025.5,210.7 L1032.9,208.9 L1032.9,205.5 L1026.6,203.2ZM1073.1,201.9 L1070.2,208.3 L1072.2,210.3 L1076.5,207.5 L1076.0,205.0 L1075.4,203.5ZM991.4,214.0 L991.4,214.1 L997.0,216.2 L1000.9,210.1 L998.1,211.5 L991.8,212.5ZM997.0,216.2 L997.2,216.5 L1001.9,218.0 L1006.0,215.5 L1007.0,211.7 L1002.0,209.5 L1000.9,210.1ZM960.0,225.3 L961.4,225.3 L963.1,222.0 L958.6,224.4ZM974.7,225.1 L975.4,225.7 L976.7,225.7 L979.6,223.4 L979.9,220.1 L973.0,216.8 L973.0,216.8 L971.5,217.6ZM982.8,224.1 L989.0,221.0 L989.3,216.4 L981.4,216.1 L979.9,220.1 L979.6,223.4ZM997.2,216.5 L997.0,216.2 L991.4,214.1 L989.3,216.4 L989.0,221.0 L990.9,223.8 L995.8,224.9ZM1002.7,222.6 L1001.9,218.0 L997.2,216.5 L995.8,224.9 L996.8,226.0 L999.5,226.0ZM1012.3,226.0 L1014.6,226.0 L1020.0,223.1 L1019.0,217.9 L1016.3,216.0 L1010.2,220.2 L1010.1,222.1ZM1030.0,218.0 L1025.2,214.8 L1022.7,215.7 L1019.0,217.9 L1020.0,223.1 L1022.0,224.3 L1023.1,224.3ZM967.3,225.5 L975.4,225.7 L974.7,225.1 L968.4,224.1ZM982.8,224.1 L979.6,223.4 L976.7,225.7 L984.0,225.9ZM995.8,224.9 L990.9,223.8 L989.8,226.0 L996.8,226.0ZM1051.9,223.1 L1046.0,220.5 L1042.9,223.9 L1042.4,225.4 L1042.7,226.0 L1050.6,226.0ZM1008.7,155.5 L1008.7,147.0 L1007.1,147.6 L1003.4,155.3 L1008.1,155.8ZM999.1,164.9 L1004.5,167.6 L1006.4,166.7 L1007.0,163.1 L1002.8,156.0 L1002.0,160.0 L998.4,163.6ZM1007.0,163.1 L1006.4,166.7 L1012.5,168.1 L1013.2,168.0 L1013.9,167.6 L1013.8,166.0 L1008.7,166.0 L1008.7,161.5ZM1019.5,167.2 L1021.3,167.7 L1026.7,166.5 L1026.7,166.0 L1019.5,166.0ZM976.5,186.2 L977.9,184.6 L978.0,181.3 L971.7,184.4 L972.3,185.7ZM1010.1,192.9 L1015.9,186.9 L1014.8,183.9 L1007.4,185.9 L1006.4,188.6ZM1010.1,192.9 L1010.3,193.9 L1017.3,193.9 L1018.5,191.7 L1019.7,188.4 L1015.9,186.9ZM986.0,193.7 L983.6,200.9 L991.4,197.8 L990.8,194.1ZM990.8,194.1 L991.4,197.8 L992.1,199.1 L999.5,198.4 L1000.1,196.8 L998.7,192.4 L997.3,192.0 L990.9,194.0ZM1010.3,193.9 L1010.0,195.3 L1014.6,198.6 L1017.3,193.9ZM1008.5,201.5 L1005.6,206.1 L1006.8,207.2 L1008.7,206.2 L1011.7,202.5ZM1010.0,195.3 L1008.8,197.0 L1008.5,201.5 L1011.7,202.5 L1014.0,199.6 L1014.6,198.6ZM1038.5,164.8 L1043.9,165.0 L1046.2,163.5 L1046.3,162.6 L1038.7,162.6ZM1043.9,165.0 L1038.5,164.8 L1035.9,165.8 L1036.0,166.0 L1041.7,166.0 L1043.5,167.6ZM1056.7,170.6 L1056.2,166.6 L1053.0,167.4 L1054.0,173.5ZM1067.4,185.7 L1069.6,180.9 L1068.3,177.6 L1066.3,177.3 L1062.1,184.6 L1062.5,186.1 L1062.8,186.4ZM1073.9,196.1 L1073.3,197.5 L1075.2,202.8 L1075.7,202.5 L1079.9,195.8ZM1075.2,202.8 L1076.0,205.0 L1077.0,209.9 L1081.4,209.2 L1081.4,204.4 L1075.7,202.5Z"/>
<path fill="#fbfbfb" d="M677.5,235.6 L685.5,235.6 L685.5,227.6 L677.5,227.6ZM685.5,235.6 L693.5,235.6 L693.5,227.6 L685.5,227.6ZM693.5,235.6 L700.5,235.6 L700.5,227.6 L693.5,227.6ZM669.5,243.6 L669.5,251.6 L677.5,251.6 L677.5,243.6ZM653.5,259.6 L653.5,267.6 L661.5,267.6 L661.5,259.6ZM669.5,259.6 L669.5,267.6 L677.5,267.6 L677.5,259.6ZM677.5,267.6 L677.5,275.6 L685.5,275.6 L685.5,267.6Z"/>
<path fill="#b81c13" d="M653.5,235.6 L653.5,243.6 L661.5,243.6 L661.5,235.6ZM661.5,251.6 L661.5,259.6 L669.5,259.6 L669.5,251.6ZM661.5,267.6 L661.5,275.6 L669.5,275.6 L669.5,267.6ZM701.5,291.6 L701.5,299.6 L709.5,299.6 L709.5,291.6ZM741.5,291.6 L741.5,299.6 L742.0,299.6 L742.0,291.6ZM725.5,299.6 L717.5,299.6 L717.5,300.0 L725.5,300.0ZM733.5,299.6 L725.5,299.6 L725.5,300.0 L733.5,300.0ZM612.5,316.5 L622.1,322.1 L627.1,315.6 L626.2,313.0 L613.8,313.0ZM605.0,321.0 L604.7,320.8 L603.6,321.1 L602.5,321.8 L604.3,323.0 L604.4,323.1ZM657.0,336.9 L661.6,329.2 L659.7,320.9 L658.9,320.0 L647.9,322.7ZM604.4,323.1 L614.6,332.5 L615.0,332.8 L615.4,331.3 L605.7,321.1 L605.0,321.0ZM634.5,335.1 L633.9,333.3 L620.8,327.7 L615.4,331.3 L615.0,332.8 L623.0,338.0 L623.3,338.9ZM687.3,332.5 L687.5,342.5 L688.0,342.7 L688.0,332.0ZM752.8,296.3 L752.0,302.4 L754.8,310.9 L756.2,310.4 L760.8,300.3 L760.1,299.0ZM781.8,305.9 L785.6,301.8 L782.2,294.9 L774.7,295.1 L776.2,306.4ZM767.2,303.5 L765.2,303.7 L762.8,310.8 L767.3,315.6 L768.9,315.2 L773.3,308.2ZM708.6,321.9 L710.8,317.0 L710.5,314.3 L705.8,310.1 L705.6,310.1 L697.1,315.2ZM739.2,311.7 L730.3,313.0 L730.3,313.0 L729.5,314.4 L730.6,320.8 L737.5,322.9 L740.3,322.4ZM743.5,322.8 L744.8,321.1 L748.6,313.8 L743.3,309.3 L739.2,311.7 L740.3,322.4ZM776.8,336.3 L778.2,338.2 L784.2,338.5 L787.3,334.1 L786.9,332.1 L780.0,328.1 L776.7,334.7ZM758.4,347.9 L765.2,341.6 L761.9,335.7 L756.9,336.4 L755.2,343.2ZM770.4,345.1 L775.6,344.1 L778.2,338.2 L776.8,336.3 L771.0,336.3 L766.0,341.7ZM728.8,343.9 L719.1,346.3 L719.0,347.7 L719.8,351.7 L728.2,353.4 L729.4,353.0ZM756.9,353.1 L758.1,352.1 L758.4,347.9 L755.2,343.2 L748.3,341.5 L747.2,342.1 L751.3,351.9ZM758.4,347.9 L758.1,352.1 L768.1,354.4 L770.4,345.1 L766.0,341.7 L765.2,341.6ZM707.3,358.4 L705.9,360.8 L706.8,364.8 L711.0,365.7 L717.4,360.8 L715.5,355.2ZM791.4,356.5 L790.1,356.0 L780.8,358.3 L780.4,363.4 L792.3,358.1ZM723.0,383.3 L718.2,378.6 L712.5,384.1 L713.2,385.9 L723.2,387.9ZM732.4,403.3 L741.9,403.4 L741.5,401.5 L741.9,399.1 L741.1,394.3 L733.5,395.9 L731.7,398.2ZM741.1,394.3 L741.9,399.1 L743.1,392.3ZM784.1,220.0 L785.5,219.8 L785.2,218.0 L782.4,218.0ZM713.2,230.7 L716.5,229.6 L717.2,225.5 L711.5,219.4 L706.6,225.0 L706.7,225.9ZM754.2,240.5 L754.4,231.2 L747.3,228.9 L742.6,232.7 L746.5,241.7ZM741.0,274.5 L742.9,269.4 L737.3,263.2 L732.3,273.2 L736.5,275.9 L737.0,276.0ZM844.5,234.8 L847.1,234.0 L849.1,227.2 L845.6,227.2ZM845.2,248.1 L846.2,247.7 L846.5,240.4 L843.7,235.4 L838.3,239.8 L838.7,244.0 L845.0,248.2ZM859.3,236.7 L860.8,241.2 L863.0,236.5 L859.7,236.5ZM808.4,241.0 L806.9,249.6 L807.5,250.4 L813.6,249.1 L813.7,241.8ZM846.2,247.7 L849.8,248.3 L852.9,244.5 L852.7,240.1 L846.5,240.4ZM807.0,255.0 L807.5,250.4 L806.9,249.6 L798.5,247.0 L798.4,247.1 L801.8,254.7ZM838.9,255.7 L841.9,258.1 L845.8,253.9 L845.2,248.1 L845.0,248.2 L841.7,250.9ZM846.2,247.7 L845.2,248.1 L845.8,253.9 L848.6,257.0 L851.7,254.8 L852.4,251.0 L849.8,248.3ZM821.9,261.3 L828.7,261.9 L832.9,255.4 L824.2,253.2 L822.2,255.2ZM851.7,254.8 L848.6,257.0 L847.7,259.3 L850.2,262.4 L853.3,256.8ZM837.7,274.5 L840.1,282.2 L842.3,281.6 L843.8,274.6ZM840.1,282.2 L840.0,282.4 L840.8,286.7 L841.2,287.2 L842.3,281.6ZM796.2,293.6 L794.9,289.4 L793.6,288.4 L793.6,295.0 L795.7,295.0ZM808.4,293.6 L810.2,295.0 L813.5,295.0 L814.5,289.4 L812.4,288.7 L810.5,289.9ZM794.0,295.1 L798.0,299.3 L800.9,295.0 L794.1,295.0ZM798.0,299.3 L798.0,302.4 L804.4,302.9 L804.5,302.8 L804.6,302.4 L801.8,295.0 L800.9,295.0ZM796.8,303.0 L795.7,302.5 L796.3,305.4ZM828.6,304.7 L821.4,307.5 L819.7,311.0 L819.8,311.1 L831.0,309.9 L831.7,309.2ZM836.3,310.4 L838.3,309.2 L839.9,304.1 L834.9,302.1 L832.2,309.2ZM807.4,313.9 L806.2,318.1 L807.6,320.2 L808.5,320.3 L813.6,319.1 L811.6,311.2 L810.5,311.3ZM836.7,314.5 L838.3,309.2 L836.3,310.4ZM828.2,316.5 L827.3,317.5 L830.5,321.2 L834.1,322.7 L836.3,315.7ZM825.7,326.9 L825.5,326.4 L820.5,322.7 L817.2,330.3 L817.9,332.0 L822.9,332.0ZM830.5,321.2 L825.5,326.4 L825.7,326.9 L831.9,330.1 L832.8,328.1 L832.8,326.9 L834.1,322.7ZM840.4,332.9 L841.3,331.5 L834.6,331.5ZM831.9,330.1 L832.0,330.9 L832.8,331.1 L832.8,328.1ZM852.2,333.1 L854.0,331.5 L850.8,331.5ZM817.9,332.0 L817.2,330.3 L811.9,328.0 L807.9,329.1 L806.6,331.3 L809.9,337.4 L816.2,337.0ZM832.0,330.9 L830.9,333.3 L836.9,338.2 L840.5,334.8 L840.4,332.9 L834.6,331.5 L832.8,331.5 L832.8,331.1ZM840.4,332.9 L840.5,334.8 L842.1,336.2 L847.5,335.8 L846.2,331.5 L841.3,331.5ZM847.5,335.8 L851.0,338.2 L852.5,336.9 L852.2,333.1 L850.8,331.5 L846.2,331.5ZM798.7,337.5 L798.3,341.5 L799.6,343.1 L805.1,342.4 L805.4,340.2ZM852.6,343.1 L856.3,343.1 L859.6,337.8 L859.3,337.2 L852.5,336.9 L851.0,338.2 L850.3,340.3ZM862.1,340.0 L862.8,341.6 L863.2,341.7 L862.7,339.6ZM797.4,353.0 L798.2,351.5 L797.5,350.5 L797.3,353.0ZM810.8,351.6 L815.6,349.1 L817.3,344.8 L810.8,344.3 L807.0,348.8ZM821.4,355.1 L821.8,345.2 L820.5,342.9 L819.8,342.5 L817.3,344.8 L815.6,349.1 L821.2,355.1ZM811.7,356.4 L810.8,351.6 L807.0,348.8 L805.4,348.6 L803.8,349.3 L805.1,355.8 L808.5,355.8 L811.5,356.5ZM833.6,350.4 L834.3,354.3 L838.2,356.4 L843.8,355.1 L844.9,351.9 L839.6,346.2ZM797.4,353.0 L797.3,353.0 L797.3,353.0 L797.3,355.8 L798.8,355.8ZM823.3,356.6 L822.4,355.5 L821.4,355.1 L821.2,355.1 L816.2,357.6 L823.3,357.0ZM843.0,364.6 L843.1,364.5 L845.9,358.3 L843.8,355.1 L838.2,356.4 L838.8,362.6 L841.8,364.4ZM867.7,361.9 L869.3,362.4 L870.0,358.6 L868.6,356.6ZM860.1,257.3 L861.5,259.4 L865.2,260.7 L868.7,256.6 L860.6,256.6ZM879.3,258.4 L878.4,256.6 L869.5,256.6 L872.5,260.6 L877.3,262.4ZM875.8,268.3 L876.4,269.0 L881.5,270.3 L885.0,269.0 L885.8,265.3 L877.4,263.2ZM857.7,281.0 L862.4,278.3 L862.9,277.1 L860.0,270.9 L855.8,272.3 L856.1,280.6ZM841.7,289.4 L842.3,289.1 L844.1,283.2 L842.8,279.5 L840.9,288.5ZM858.4,285.0 L857.7,281.0 L856.1,280.6 L851.8,280.6 L851.5,281.2 L850.8,287.0 L853.8,289.4ZM874.7,285.4 L871.5,280.9 L865.8,283.4 L865.9,288.7 L866.9,288.8ZM840.9,288.5 L840.1,292.4 L840.1,292.3 L841.7,289.4ZM854.5,291.3 L853.8,289.4 L850.8,287.0 L845.1,289.3 L850.6,295.3 L850.9,295.3ZM874.5,294.7 L877.3,292.4 L878.0,290.5 L876.4,285.8 L874.7,285.4 L866.9,288.8ZM854.6,302.9 L855.4,301.1 L855.4,300.0 L850.9,295.3 L850.6,295.3 L847.3,298.4 L848.4,300.8ZM866.6,311.7 L867.7,311.7 L869.3,309.2 L868.7,303.7 L863.9,302.8 L861.7,307.3ZM860.0,307.7 L856.8,313.8 L863.6,314.7 L866.6,311.7 L861.7,307.3ZM879.4,315.6 L880.1,311.5 L876.1,307.3 L875.1,308.0 L873.9,315.9 L877.9,316.0 L879.0,315.8ZM850.1,310.9 L846.4,313.5 L845.5,319.8 L850.5,321.9 L855.6,318.8 L855.6,314.5ZM873.9,315.9 L871.9,316.5 L870.6,320.2 L873.4,323.9 L876.2,324.2 L877.9,316.0ZM835.1,319.6 L832.8,326.9 L832.8,327.2 L833.4,326.7 L837.8,320.5ZM870.6,320.2 L865.8,321.8 L863.6,327.2 L864.9,328.7 L870.8,329.6 L873.4,323.9ZM851.0,325.5 L846.2,329.3 L846.2,330.2 L847.9,331.5 L855.0,331.5 L855.7,330.6 L855.8,330.0ZM863.6,327.2 L859.6,327.3 L855.8,330.0 L855.7,330.6 L856.8,331.5 L860.8,331.5 L861.8,335.7 L862.0,335.9 L864.7,330.2 L864.9,328.7ZM864.9,328.7 L864.7,330.2 L867.9,336.7 L872.2,331.6 L870.8,329.6ZM846.2,330.2 L844.7,331.5 L847.9,331.5ZM855.7,330.6 L855.0,331.5 L856.8,331.5ZM872.2,331.6 L867.9,336.7 L867.1,339.7 L876.0,338.0 L875.8,333.3ZM871.0,346.1 L866.3,340.5 L864.2,340.7 L863.3,342.1 L864.5,347.4 L864.5,348.6ZM871.0,346.1 L871.9,346.8 L876.7,345.3 L878.1,341.0 L876.0,338.0 L867.1,339.7 L866.3,340.5ZM887.0,275.4 L891.3,275.0 L891.4,274.9 L893.1,270.1 L888.5,267.8 L886.4,267.6 L886.1,274.5ZM902.3,274.3 L906.1,270.4 L905.5,266.6 L903.0,264.6 L896.2,267.1 L895.8,269.0 L902.3,274.3ZM890.0,287.5 L896.4,288.6 L898.4,284.9 L896.3,281.5 L891.8,281.4 L888.6,283.8ZM898.4,284.9 L896.4,288.6 L896.4,288.7 L898.4,292.0 L902.7,291.9 L902.5,284.5ZM925.4,291.7 L928.1,295.0 L933.6,290.8 L932.7,287.0 L925.7,285.2 L924.0,287.5ZM892.3,298.0 L896.6,296.9 L898.4,292.0 L896.4,288.7 L889.8,296.0ZM906.2,295.4 L904.8,292.7 L902.7,291.9 L898.4,292.0 L896.6,296.9 L902.5,301.4 L903.1,301.3ZM918.3,295.2 L917.8,293.9 L913.1,292.2 L910.1,295.4 L912.7,299.7 L913.9,300.4ZM924.4,299.0 L924.6,299.0 L927.1,297.7 L928.1,295.0 L925.4,291.7 L918.9,292.0 L917.8,293.9 L918.3,295.2ZM933.6,290.8 L928.1,295.0 L927.1,297.7 L929.3,299.5 L935.2,298.5 L933.9,291.0ZM890.7,309.8 L887.6,305.5 L885.1,305.0 L884.8,305.1 L884.6,311.5 L886.4,313.9ZM913.5,310.4 L917.1,304.3 L914.4,301.5 L907.6,306.7 L908.0,308.3 L910.3,310.1ZM886.7,319.4 L886.8,318.0 L885.8,315.9 L884.4,315.8 L884.1,321.3ZM885.8,328.1 L890.3,323.8 L886.7,319.4 L884.1,321.3 L883.9,327.1ZM921.2,322.8 L925.5,321.0 L925.5,315.7 L920.0,314.9 L919.5,323.1ZM933.8,323.2 L933.5,323.8 L937.7,325.5 L937.4,319.5ZM934.4,332.6 L938.0,332.6 L937.7,325.5 L933.5,323.8 L931.7,324.5 L931.2,326.2ZM919.7,332.6 L927.7,332.6 L926.6,330.4ZM899.8,331.4 L899.6,332.6 L901.2,332.6 L900.7,331.2ZM945.0,258.7 L946.8,259.3 L948.7,256.6 L948.0,256.6 L943.8,256.6ZM956.1,265.2 L953.4,260.0 L948.5,260.9 L949.3,266.8ZM937.8,277.8 L937.2,277.1 L934.7,275.7 L931.7,277.5 L932.8,284.3 L935.8,284.1 L937.5,281.9ZM965.9,283.9 L967.1,284.0 L972.8,281.0 L970.8,275.9 L962.1,279.3 L962.0,280.1ZM955.8,284.2 L950.4,284.7 L947.8,289.3 L950.4,292.1 L956.6,293.1 L958.1,290.4ZM962.9,287.5 L962.0,289.6 L968.0,293.3 L969.5,292.4 L967.1,284.0 L965.9,283.9ZM969.5,292.4 L975.1,291.8 L976.8,289.2 L977.5,286.4 L977.3,285.5 L973.6,281.5 L972.8,281.0 L967.1,284.0ZM935.2,292.9 L934.1,292.1 L934.6,294.7ZM940.2,300.2 L940.3,300.2 L943.2,296.0 L942.7,290.8 L937.9,290.5 L935.2,292.9 L934.6,294.7 L934.9,296.6ZM944.2,289.7 L942.7,290.8 L943.2,296.0 L948.6,297.8 L950.4,292.1 L947.8,289.3ZM975.7,300.3 L983.0,301.6 L983.1,297.1 L975.9,294.0ZM940.2,300.2 L934.9,296.6 L936.3,304.8ZM953.2,305.9 L950.8,300.5 L949.6,300.1 L944.6,303.8 L950.9,307.6ZM965.9,298.0 L959.4,298.5 L958.7,304.7 L964.9,303.9 L966.9,299.6ZM981.2,309.2 L981.9,309.1 L985.4,304.8 L983.0,301.6 L975.7,300.3 L975.6,300.4 L975.8,305.4ZM958.7,304.7 L957.9,306.8 L958.2,307.5 L962.3,311.1 L965.5,308.7 L964.9,303.9ZM977.1,312.9 L981.2,309.2 L975.8,305.4 L970.9,308.3 L972.8,312.8ZM941.5,318.3 L942.1,315.5 L940.0,310.8 L936.9,309.8 L937.3,319.0ZM962.3,311.1 L958.2,307.5 L952.0,315.1 L953.2,317.5 L958.7,316.9 L962.7,315.2ZM974.5,319.6 L978.9,318.3 L977.1,312.9 L972.8,312.8 L970.8,315.5ZM982.2,320.7 L983.0,319.8 L983.0,310.8 L981.9,309.1 L981.2,309.2 L977.1,312.9 L978.9,318.3ZM982.2,320.9 L989.2,324.1 L988.0,317.7 L983.0,319.8 L982.2,320.7ZM953.3,329.4 L954.5,324.9 L952.2,322.3 L946.7,324.8 L945.7,329.6 L948.1,330.5ZM966.9,331.1 L970.4,324.8 L966.0,320.6 L960.9,326.0 L965.6,331.8ZM980.8,325.2 L988.0,329.0 L988.6,329.0 L991.6,326.8 L991.6,326.7 L989.2,324.1 L982.2,320.9ZM994.0,320.8 L991.6,326.7 L991.6,326.8 L995.6,329.0 L996.5,322.0ZM943.0,332.4 L942.9,331.7 L940.1,330.8 L938.0,331.7 L938.0,332.6 L938.0,337.8 L941.5,337.8ZM965.6,331.9 L969.2,337.8 L974.2,337.8 L975.1,337.5 L975.1,333.0 L966.9,331.1 L965.6,331.8ZM975.1,337.5 L975.5,337.8 L976.8,337.8 L983.6,334.3 L983.6,334.1 L977.6,328.6 L975.1,333.0ZM943.0,332.4 L941.5,337.8 L948.3,337.8ZM961.3,337.8 L969.2,337.8 L965.6,331.9 L960.4,336.2ZM983.6,334.3 L976.8,337.8 L985.7,337.8 L985.7,337.8ZM899.3,337.0 L903.6,332.6 L895.9,332.6 L895.6,334.7ZM917.1,335.7 L920.1,337.3 L925.3,335.4 L925.4,332.6 L918.0,332.6 L916.6,334.6ZM984.0,338.5 L985.5,338.7 L986.8,337.8 L985.7,337.8 L983.7,337.8ZM899.3,337.0 L899.1,338.6 L903.4,343.2 L908.2,338.9 L907.7,334.2 L904.6,332.6 L903.6,332.6ZM922.2,341.8 L927.8,341.0 L930.0,339.0 L929.7,338.1 L925.3,335.4 L920.1,337.3ZM966.4,337.8 L959.4,337.8 L959.5,341.7 L959.8,342.4 L967.1,345.1 L968.2,343.5 L966.9,337.9ZM966.9,337.9 L968.2,343.5 L973.7,342.8 L975.6,338.5 L975.4,337.8 L966.9,337.8ZM994.0,339.4 L995.0,340.5 L994.8,336.0 L993.6,337.8 L993.5,337.8ZM894.7,342.2 L894.4,344.6 L903.5,344.0 L903.4,343.2 L899.1,338.6ZM927.8,341.0 L922.2,341.8 L920.7,346.6 L923.2,348.9 L927.6,347.7ZM942.9,347.1 L943.4,342.2 L935.6,340.4 L934.2,341.2 L934.4,347.0 L938.5,351.0ZM973.7,342.8 L976.4,346.7 L976.9,346.9 L980.5,345.7 L980.9,340.4 L975.6,338.5ZM938.5,351.0 L934.4,347.0 L929.0,348.2 L930.0,355.1 L930.7,355.8 L938.5,353.2ZM965.5,357.0 L960.9,350.4 L957.5,349.8 L957.4,349.8 L955.1,353.6 L960.0,357.8 L965.2,357.8ZM978.1,354.7 L976.9,346.9 L976.4,346.7 L969.9,350.6 L970.2,353.2 L974.0,355.1ZM986.6,348.6 L980.5,345.7 L976.9,346.9 L978.1,354.7 L981.8,356.6 L985.1,354.8ZM967.4,361.8 L972.7,360.2 L974.0,355.1 L970.2,353.2 L965.5,357.0 L965.2,357.8 L966.0,361.2ZM993.1,370.0 L991.5,368.9 L988.2,368.1 L983.7,370.0 L985.3,377.3 L986.0,377.9 L989.7,376.7ZM1001.8,371.0 L1000.2,369.7 L997.3,370.7 L996.0,378.0 L1002.9,378.0ZM980.7,381.2 L987.4,387.2 L990.5,387.5 L992.5,379.6 L991.9,378.0 L982.6,378.0ZM992.5,379.6 L999.0,379.5 L1002.3,378.5 L1002.4,378.0 L991.9,378.0ZM1009.0,383.2 L1007.5,378.0 L1002.4,378.0 L1002.3,378.5 L1007.4,383.8ZM987.4,387.2 L980.7,381.2 L972.0,382.2 L971.6,382.7 L973.5,388.7 L979.1,392.2ZM979.1,401.7 L978.2,401.4 L978.8,402.9ZM992.8,398.3 L1004.6,409.0 L1008.6,407.2 L1009.4,405.1 L1004.0,399.1 L993.6,396.7ZM991.2,408.7 L984.2,413.9 L984.3,414.0 L988.2,422.0 L993.7,422.5 L995.3,421.9 L997.2,412.6ZM1014.4,421.2 L1007.0,423.0 L1006.9,429.9 L1010.7,433.8 L1012.8,431.8 L1014.8,425.0 L1014.8,421.5ZM1000.2,435.9 L1000.4,433.5 L1000.2,433.0 L996.1,430.9 L998.9,436.7ZM1006.9,429.9 L1000.4,433.5 L1000.2,435.9 L1003.0,437.5 L1008.7,435.8 L1010.7,433.8ZM1014.4,262.6 L1015.6,263.2 L1020.4,261.0 L1020.0,260.6 L1014.7,260.3ZM1024.0,267.0 L1025.0,267.2 L1025.7,265.9 L1023.3,263.7ZM1015.6,263.2 L1019.4,268.6 L1020.5,268.7 L1024.0,267.0 L1023.3,263.7 L1020.4,261.0ZM977.2,274.6 L973.8,270.7 L976.5,275.3ZM1006.0,273.1 L1006.1,269.7 L1001.3,266.6 L995.9,270.0 L996.0,270.8 L1004.2,273.8ZM981.7,275.0 L977.2,274.6 L976.5,275.3 L980.4,281.7 L980.5,281.8 L980.7,281.7ZM990.3,283.6 L986.9,275.3 L983.3,274.3 L982.2,274.7 L981.7,275.0 L980.7,281.7 L984.4,285.3ZM1003.9,274.0 L996.0,276.9 L996.2,280.3 L1000.1,281.4ZM1004.8,283.8 L1010.5,280.1 L1010.7,277.3 L1006.0,273.1 L1004.2,273.8 L1003.9,274.0 L1000.1,281.4 L1002.4,284.1ZM984.4,285.3 L980.7,281.7 L980.5,281.8 L984.1,285.9ZM1001.1,286.8 L1003.0,294.7 L1006.7,287.5 L1004.8,283.8 L1002.4,284.1ZM993.8,293.4 L993.7,288.3 L991.2,284.4 L987.7,289.9 L991.0,293.6 L991.5,294.5ZM993.7,288.3 L993.8,293.4 L998.7,296.1 L1003.0,295.4 L1003.0,294.7 L1001.1,286.8ZM1006.7,287.5 L1003.0,294.7 L1003.0,295.4 L1003.6,295.7 L1008.2,296.0 L1010.4,294.9 L1011.5,290.0ZM998.7,296.1 L993.8,293.4 L991.5,294.5 L996.2,302.8 L996.2,302.8ZM1011.0,303.6 L1012.1,302.8 L1016.8,299.5 L1015.1,296.5 L1010.4,294.9 L1008.2,296.0 L1009.7,303.5ZM1021.9,295.2 L1017.2,294.6 L1015.1,296.5 L1016.8,299.5 L1022.1,295.9ZM1017.8,232.1 L1019.4,232.2 L1021.2,226.0 L1015.1,226.0ZM1026.6,230.4 L1030.2,228.3 L1030.3,226.0 L1022.1,226.0ZM1044.0,230.0 L1048.8,227.9 L1047.5,226.0 L1042.0,226.0ZM1011.0,227.2 L1011.4,233.5 L1017.8,232.1 L1015.1,226.0 L1012.0,226.0ZM1054.7,227.2 L1052.9,226.1 L1049.3,228.0 L1050.1,232.6 L1055.4,234.2ZM1062.7,234.6 L1062.6,227.1 L1054.7,227.2 L1055.4,234.2 L1056.7,235.7 L1062.3,235.3ZM1062.7,227.1 L1062.6,227.1 L1062.7,234.6 L1072.2,233.9 L1073.5,231.6 L1073.5,229.3 L1068.7,226.0 L1068.3,226.0ZM1034.6,241.5 L1040.8,232.6 L1037.5,230.7 L1033.3,232.2 L1032.6,234.6 L1034.3,241.3ZM1035.1,241.9 L1041.1,242.4 L1046.1,238.8 L1046.1,238.3 L1042.3,232.7 L1040.8,232.6 L1034.6,241.5ZM1062.5,236.7 L1064.4,245.3 L1067.1,245.4 L1069.6,239.9 L1062.4,235.8ZM1079.1,241.4 L1081.8,236.5 L1081.2,233.9 L1073.5,231.6 L1072.2,233.9 L1073.3,237.8 L1076.9,241.6ZM997.5,246.4 L1001.0,248.4 L1003.8,247.7 L1006.2,242.9 L1005.7,240.0 L998.7,239.5 L996.6,244.2ZM1016.4,246.1 L1017.4,247.9 L1025.2,247.6 L1025.6,242.4 L1022.6,239.9 L1017.3,241.9ZM1025.6,242.4 L1025.2,247.6 L1025.3,247.9 L1028.8,252.1 L1031.8,250.9 L1034.8,245.1 L1035.1,241.9 L1034.6,241.5 L1034.3,241.3ZM1041.1,242.4 L1035.1,241.9 L1034.8,245.1 L1040.0,252.0 L1040.6,252.0 L1043.4,248.6ZM1073.4,246.2 L1076.9,241.6 L1073.3,237.8 L1069.6,239.9 L1067.1,245.4 L1068.1,245.8ZM1081.2,248.8 L1081.3,243.3 L1079.1,241.4 L1076.9,241.6 L1073.4,246.2 L1074.9,250.6ZM1037.1,253.9 L1040.0,252.0 L1034.8,245.1 L1031.8,250.9ZM1059.3,245.3 L1054.2,252.5 L1054.5,253.2 L1055.8,253.5 L1062.2,253.0 L1064.1,245.6ZM1081.2,248.8 L1074.9,250.6 L1074.6,252.8 L1074.7,253.2 L1077.7,254.8 L1080.0,252.5 L1082.5,250.5ZM978.0,254.0 L984.6,254.2 L977.5,252.5 L977.5,253.1ZM1015.2,260.4 L1020.0,260.6 L1020.7,261.3 L1021.8,260.4 L1022.0,256.7 L1018.7,253.7 L1017.9,253.5 L1013.1,255.3 L1013.1,256.2ZM1052.1,256.1 L1046.2,256.3 L1044.6,257.1 L1044.3,257.9 L1046.0,261.9 L1052.3,260.2ZM1062.2,253.0 L1055.8,253.5 L1059.4,261.9 L1061.0,262.5 L1065.9,259.6 L1064.6,255.5ZM1064.6,255.5 L1065.9,259.6 L1066.5,259.9 L1072.1,257.7 L1074.7,253.2 L1074.6,252.8 L1068.9,252.4ZM1073.5,259.0 L1077.7,254.8 L1074.7,253.2 L1072.1,257.7ZM1009.8,260.1 L1015.2,260.4 L1013.1,256.2ZM1027.2,265.7 L1028.3,265.5 L1030.6,258.9 L1022.5,260.8ZM1067.4,261.7 L1072.1,260.4 L1073.5,259.0 L1072.1,257.7 L1066.5,259.9ZM1054.5,269.5 L1052.8,265.0 L1049.4,265.4 L1047.9,274.5 L1051.1,274.2 L1054.5,270.0ZM1060.8,264.9 L1054.5,269.5 L1054.5,270.0 L1054.5,270.0 L1060.9,265.0ZM1039.0,273.9 L1035.3,274.7 L1038.5,277.7 L1039.8,278.0ZM868.0,234.5 L868.5,234.9 L871.9,231.0 L867.7,227.1 L865.6,231.3ZM955.1,230.9 L958.1,234.6 L962.6,234.4 L961.5,227.8 L955.7,228.5 L955.1,229.5ZM881.6,244.7 L886.2,238.8 L881.0,234.3 L878.0,235.9 L877.3,237.1 L881.4,244.7ZM945.7,255.3 L938.1,253.2 L938.0,253.6 L937.9,256.6 L945.4,256.6ZM931.7,194.2 L927.7,192.5 L922.8,199.6 L924.2,200.8ZM1048.5,174.7 L1045.7,170.5 L1042.0,173.4 L1039.9,177.4 L1048.3,176.4ZM1050.2,182.9 L1057.4,178.8 L1053.8,176.4 L1049.6,178.6ZM1054.7,186.6 L1056.5,192.7 L1060.8,191.8 L1063.6,187.2 L1061.5,185.1 L1060.8,183.7ZM1036.8,198.7 L1033.0,191.6 L1027.6,194.5 L1028.9,198.8 L1036.2,199.5ZM1042.8,192.9 L1042.4,195.4 L1047.9,195.9 L1050.0,193.5 L1049.0,191.9ZM1068.0,191.3 L1066.8,190.4 L1063.6,187.2 L1060.8,191.8 L1066.7,197.8 L1067.1,197.6ZM1055.0,198.4 L1050.2,201.4 L1052.2,206.5 L1057.1,203.1ZM1055.5,197.3 L1055.0,198.4 L1057.1,203.1 L1059.4,204.9 L1065.0,201.7 L1065.5,199.4ZM1075.4,203.5 L1073.2,197.4 L1072.0,198.0 L1073.1,201.9ZM1046.7,208.9 L1051.2,211.7 L1051.9,211.1 L1052.2,206.5 L1050.2,201.4 L1048.5,201.1 L1045.5,202.1ZM979.9,220.1 L981.4,216.1 L979.2,212.5 L978.7,212.5 L973.0,216.8ZM1067.7,207.2 L1064.5,209.6 L1063.2,216.2 L1068.8,216.7 L1072.7,215.1 L1072.2,210.3 L1070.2,208.3ZM1042.9,223.9 L1039.7,218.9 L1034.2,215.7 L1032.6,217.5 L1036.0,225.1 L1042.4,225.4ZM1075.9,217.2 L1080.3,222.7 L1078.2,215.8ZM990.9,223.8 L989.0,221.0 L982.8,224.1 L984.0,225.9 L988.9,226.0 L989.8,226.0ZM1057.3,223.5 L1054.6,221.8 L1051.9,223.1 L1050.6,226.0 L1058.0,226.0ZM1074.7,226.0 L1080.9,226.0 L1081.2,225.6 L1080.3,222.7 L1075.9,217.2 L1075.8,217.2 L1072.5,224.1ZM1000.1,210.5 L1006.8,207.2 L1005.6,206.1 L1002.0,206.5ZM1031.1,164.2 L1035.9,165.8 L1038.5,164.8 L1038.7,162.6 L1030.9,162.6ZM1046.2,163.5 L1050.5,167.6 L1053.0,167.4 L1056.2,166.6 L1057.6,165.3 L1057.6,164.4 L1055.2,162.6 L1046.3,162.6ZM1066.6,165.6 L1067.0,162.6 L1058.4,162.6 L1057.6,164.4 L1057.6,165.3 L1063.8,168.5 L1065.3,167.8ZM1075.5,162.7 L1082.6,163.5 L1083.3,163.3 L1083.3,162.6 L1075.4,162.6ZM1083.3,163.3 L1082.6,163.5 L1079.0,171.6 L1079.5,172.6 L1080.4,173.0 L1084.0,171.9 L1084.0,163.6ZM1060.3,175.7 L1056.7,170.6 L1054.0,173.5 L1053.0,175.9 L1056.9,178.5ZM1081.5,175.7 L1080.4,173.0 L1079.5,172.6 L1075.4,176.3 L1077.1,182.6ZM1080.4,173.0 L1081.5,175.7 L1084.0,178.5 L1084.0,171.9ZM1076.7,187.6 L1079.9,195.3 L1086.7,189.1 L1086.1,188.0 L1084.0,188.0 L1084.0,184.6 L1083.6,184.0 L1077.9,185.1ZM1088.8,197.5 L1082.5,197.5 L1082.6,202.7 L1086.2,204.0 L1089.0,199.0 L1089.3,198.4ZM1089.9,195.5 L1088.8,197.5 L1089.3,198.4 L1090.5,195.5Z"/>
<path fill="#feebcf" d="M669.5,251.6 L669.5,259.6 L677.5,259.6 L677.5,251.6ZM661.5,259.6 L661.5,267.6 L669.5,267.6 L669.5,259.6ZM685.5,259.6 L685.5,267.6 L693.5,267.6 L693.5,259.6ZM685.5,267.6 L685.5,275.6 L693.5,275.6 L693.5,267.6ZM701.5,267.6 L701.5,275.6 L709.5,275.6 L709.5,269.0 L706.4,267.6ZM717.5,275.6 L725.5,275.6 L725.5,273.8 L717.5,272.2ZM685.5,275.6 L685.5,283.6 L693.5,283.6 L693.5,275.6ZM677.5,291.6 L677.5,299.6 L685.5,299.6 L685.5,291.6ZM709.5,291.6 L709.5,299.6 L717.5,299.6 L717.5,291.6ZM661.5,299.6 L653.5,299.6 L653.5,300.0 L661.5,300.0ZM701.5,299.6 L693.5,299.6 L693.5,300.0 L701.5,300.0ZM691.5,300.0 L688.0,300.0 L688.0,303.2ZM696.5,305.4 L702.9,305.1 L703.9,300.0 L693.0,300.0ZM702.9,305.1 L705.6,310.1 L705.8,310.1 L712.4,302.9 L709.9,300.0 L703.9,300.0ZM756.2,310.4 L762.8,310.8 L765.2,303.7 L760.8,300.3ZM748.6,313.8 L744.8,321.1 L755.8,322.8 L757.4,320.8 L752.7,313.4ZM756.2,310.4 L754.8,310.9 L752.7,313.4 L757.4,320.8 L763.6,321.4 L767.3,315.6 L762.8,310.8ZM696.2,328.4 L697.2,329.3 L698.8,329.9 L704.0,325.4 L694.7,316.0ZM750.8,330.9 L753.2,328.8 L755.8,322.8 L744.8,321.1 L743.5,322.8 L747.2,329.7ZM791.4,356.5 L796.6,348.3 L794.1,344.8 L788.1,344.8 L785.9,348.0 L790.1,356.0ZM690.4,355.3 L688.0,354.9 L688.0,364.1ZM698.8,379.2 L699.2,378.2 L694.2,372.9 L697.7,379.0 L698.2,379.7ZM745.5,387.3 L746.1,387.3 L751.8,381.0 L752.0,380.9 L746.2,373.9 L740.1,380.3 L741.7,383.8ZM726.7,406.1 L732.3,403.5 L732.4,403.3 L731.7,398.2 L722.5,393.8 L721.1,394.7 L722.6,404.0ZM725.0,410.3 L717.9,411.5 L717.9,413.4 L727.5,417.4 L727.8,417.5ZM742.5,422.0 L742.9,422.3 L744.3,416.5 L743.8,414.1ZM674.2,219.4 L674.0,218.0 L663.7,218.0 L665.0,219.6 L670.4,221.1ZM691.9,223.5 L692.8,222.4 L692.7,218.0 L681.4,218.0 L680.7,219.5 L682.0,221.6ZM722.9,218.1 L726.8,219.8 L728.5,218.0 L722.8,218.0ZM746.9,222.7 L751.7,221.4 L753.7,218.0 L743.5,218.0ZM771.6,218.3 L779.7,224.1 L784.1,220.0 L782.4,218.0 L771.8,218.0ZM653.0,223.1 L653.0,227.6 L661.3,227.6 L665.0,219.6 L663.7,218.0 L660.3,218.0ZM700.9,231.4 L706.7,225.9 L706.6,225.0 L701.7,220.4 L698.2,222.2 L698.9,227.6 L700.5,227.6 L700.5,231.2ZM716.5,229.6 L723.0,232.7 L728.1,225.5 L726.9,219.9 L726.8,219.8 L722.9,218.1 L717.2,225.5ZM735.8,228.8 L738.4,221.4 L726.9,219.9 L728.1,225.5ZM736.5,230.2 L741.6,232.6 L742.6,232.7 L747.3,228.9 L746.9,222.7 L743.5,218.0 L741.8,218.0 L738.4,221.4 L735.8,228.8ZM758.9,224.3 L751.7,221.4 L746.9,222.7 L747.3,228.9 L754.4,231.2 L759.0,228.7 L759.5,227.5ZM758.9,224.3 L759.5,227.5 L768.6,225.7 L769.2,219.1 L767.4,218.0 L760.6,218.0ZM784.1,220.0 L779.7,224.1 L779.7,224.1 L782.5,233.3 L785.4,234.0 L787.1,232.4 L787.0,227.2 L785.5,219.8ZM700.9,231.4 L700.5,231.2 L700.5,239.8 L701.7,238.8ZM713.2,230.7 L706.7,225.9 L700.9,231.4 L701.7,238.8 L709.5,239.8ZM710.4,240.9 L717.5,241.3 L723.8,235.0 L723.0,232.7 L716.5,229.6 L713.2,230.7 L709.5,239.8ZM771.3,228.6 L768.6,225.7 L759.5,227.5 L759.0,228.7 L764.9,235.7 L771.5,235.6ZM785.4,234.0 L787.2,237.1 L787.1,232.4ZM736.5,244.3 L735.0,242.5 L729.4,240.2 L725.4,247.3 L731.3,254.9 L733.0,254.9ZM746.5,241.7 L742.6,232.7 L741.6,232.6 L735.0,242.5 L736.5,244.3 L744.3,245.2ZM701.8,255.8 L701.5,250.7 L700.5,249.7 L700.5,256.5ZM714.3,251.2 L717.8,254.6 L724.7,247.4 L719.8,244.9ZM737.6,257.8 L745.1,248.5 L744.3,245.2 L736.5,244.3 L733.0,254.9ZM737.8,258.1 L743.9,259.6 L751.7,253.1 L745.1,248.5 L737.6,257.8ZM770.0,246.1 L766.9,246.9 L763.2,255.4 L768.1,259.8 L768.5,259.9 L776.1,255.3 L771.4,247.9ZM707.2,260.5 L706.6,259.3 L701.8,255.8 L700.5,256.5 L700.5,265.0 L702.7,266.0ZM719.0,259.2 L717.9,261.3 L726.7,269.8 L728.5,265.7 L728.0,257.4ZM731.3,254.9 L728.0,257.4 L728.5,265.7 L737.1,261.9 L737.8,258.1 L737.6,257.8 L733.0,254.9ZM737.1,261.9 L737.3,263.2 L742.9,269.4 L749.5,265.9 L743.9,259.6 L737.8,258.1ZM753.9,264.9 L760.2,267.9 L768.1,259.8 L763.2,255.4 L755.8,254.7ZM714.8,263.2 L707.2,260.5 L702.7,266.0 L713.5,270.7ZM751.2,266.2 L749.5,265.9 L742.9,269.4 L741.0,274.5 L747.0,277.5 L751.1,274.8ZM760.8,269.2 L760.2,267.9 L753.9,264.9 L751.2,266.2 L751.1,274.8 L754.7,276.5ZM768.5,259.9 L768.1,259.8 L760.2,267.9 L760.8,269.2 L768.0,276.8 L772.1,273.2 L772.8,268.9ZM729.0,272.8 L726.9,270.9 L721.1,272.9 L728.3,274.4ZM747.0,277.5 L741.0,274.5 L737.0,276.0 L747.0,277.5ZM787.1,271.6 L787.9,273.8 L787.8,271.1ZM792.2,228.0 L792.8,227.2 L787.0,227.2 L787.0,228.7ZM799.5,228.1 L800.3,227.2 L796.6,227.2ZM808.9,227.5 L812.2,229.0 L814.0,228.7 L814.7,227.2 L808.7,227.2ZM820.1,232.7 L822.5,227.9 L822.5,227.2 L814.7,227.2 L814.0,228.7ZM822.5,227.9 L831.1,228.7 L831.1,227.2 L822.5,227.2ZM792.2,228.0 L792.8,236.0 L793.7,236.5 L798.9,233.1 L800.1,230.4 L799.5,228.1 L796.6,227.2 L792.8,227.2ZM805.3,231.8 L800.1,230.4 L798.9,233.1 L801.7,235.8 L805.6,233.3ZM811.2,233.9 L817.4,238.1 L820.7,234.7 L820.1,232.7 L814.0,228.7 L812.2,229.0ZM850.9,233.8 L855.2,235.3 L855.2,227.2 L851.3,227.2ZM790.0,257.2 L793.8,250.6 L791.4,249.6 L787.4,249.4 L787.5,256.1ZM790.9,260.1 L790.0,257.2 L787.5,256.1 L787.7,262.6ZM794.3,250.6 L793.8,250.6 L790.0,257.2 L790.9,260.1 L797.3,262.3 L798.0,257.4ZM816.4,252.7 L814.0,255.3 L815.3,260.1 L818.6,262.6 L821.7,261.5 L821.9,261.3 L822.2,255.2ZM790.9,260.1 L787.7,262.6 L787.7,266.6 L788.6,267.8 L796.0,266.5 L797.3,262.4 L797.3,262.3ZM815.3,260.1 L807.3,260.2 L807.0,260.8 L809.3,266.5 L812.2,266.8 L816.4,265.4 L818.6,262.6ZM788.6,267.8 L787.7,266.6 L787.9,272.9 L788.0,272.8ZM797.0,271.8 L796.0,266.5 L788.6,267.8 L788.0,272.8 L794.6,274.1ZM803.2,267.7 L797.0,271.8 L803.2,274.4 L806.2,273.8 L807.0,269.6ZM806.2,273.8 L808.1,275.5 L814.8,276.4 L815.1,275.8 L812.2,266.8 L809.3,266.5 L807.0,269.6ZM816.4,265.4 L812.2,266.8 L815.1,275.8 L819.1,272.4ZM830.4,281.1 L822.1,280.4 L820.0,281.9 L820.2,287.5 L826.5,288.4ZM834.1,283.3 L830.4,281.1 L830.4,281.1 L826.5,288.4 L826.7,288.6 L834.4,288.9 L834.5,288.9ZM834.5,288.9 L834.4,288.9 L835.9,295.0 L839.5,295.0 L841.2,287.2 L840.8,286.7ZM813.2,303.7 L814.2,309.8 L819.7,311.0 L819.7,311.0 L821.4,307.5 L820.5,301.5 L813.9,302.4ZM823.5,317.5 L827.3,317.5 L828.2,316.5 L831.0,309.9 L819.8,311.1ZM800.5,318.4 L797.8,311.9 L797.6,311.8 L799.4,320.2ZM836.4,340.5 L836.9,338.2 L830.9,333.3 L829.1,335.0 L830.0,341.4 L830.0,341.5ZM848.4,349.2 L853.1,346.8 L852.6,343.1 L850.3,340.3 L846.8,342.3ZM873.4,300.2 L876.8,303.1 L882.4,302.2 L883.8,298.3 L877.3,292.4 L874.5,294.7 L873.0,298.3ZM882.9,339.9 L883.4,339.9 L883.7,331.5 L882.7,330.4 L880.4,331.8ZM896.2,257.8 L901.3,258.5 L904.2,257.0 L904.5,256.6 L896.2,256.6ZM915.6,262.1 L924.5,259.4 L924.9,259.0 L921.4,256.6 L915.4,256.6ZM886.1,274.5 L886.0,278.8 L887.0,275.4ZM891.8,281.4 L896.3,281.5 L897.9,277.6 L891.4,274.9 L891.3,275.0ZM905.0,278.6 L913.2,276.9 L913.3,276.8 L911.8,271.0 L906.1,270.4 L902.3,274.3ZM914.4,268.8 L911.8,271.0 L913.3,276.8 L921.4,274.7 L921.8,272.6ZM886.4,282.9 L885.9,280.7 L885.8,283.1ZM909.3,285.7 L911.7,285.9 L912.9,285.1 L914.2,281.2 L913.2,276.9 L905.0,278.6 L905.4,283.0ZM932.7,287.0 L933.1,285.9 L932.0,279.5 L930.6,278.4 L924.7,280.4 L925.7,285.2ZM887.4,293.0 L890.0,287.5 L888.6,283.8 L886.4,282.9 L885.8,283.1 L885.4,292.8ZM932.7,287.0 L933.6,290.8 L933.9,291.0 L933.1,285.9ZM892.0,300.6 L897.3,307.3 L902.5,301.4 L896.6,296.9 L892.3,298.0ZM908.0,308.3 L907.6,306.7 L905.1,302.9 L903.1,301.3 L902.5,301.4 L897.3,307.3 L896.5,310.9 L897.0,311.7 L900.9,312.4ZM918.1,313.2 L922.4,308.9 L918.9,304.2 L917.1,304.3 L913.5,310.4 L915.8,313.1ZM884.6,311.5 L884.4,315.8 L885.8,315.9 L886.4,313.9ZM932.8,313.7 L933.8,323.2 L937.4,319.5 L937.0,312.5ZM905.7,319.3 L896.9,320.9 L903.6,327.6ZM917.4,330.5 L914.2,332.6 L919.3,332.6ZM946.8,259.3 L948.5,260.9 L953.4,260.0 L958.4,257.1 L958.4,257.0 L948.7,256.6ZM957.6,265.7 L961.4,263.8 L959.9,257.9 L958.4,257.1 L953.4,260.0 L956.1,265.2ZM944.9,276.3 L947.3,279.2 L953.8,276.1 L955.3,273.0 L949.3,269.0 L945.4,272.9ZM947.4,279.5 L947.3,279.2 L944.9,276.3 L937.8,277.8 L937.5,281.9 L942.4,283.9ZM950.9,342.0 L951.7,343.9 L959.5,341.7 L959.4,337.8 L956.7,337.8ZM947.8,348.5 L942.9,347.1 L938.5,351.0 L938.5,353.2 L939.0,353.0 L946.3,350.4 L948.7,351.2ZM1000.1,281.4 L996.2,280.3 L991.1,284.0 L991.2,284.4 L993.7,288.3 L1001.1,286.8 L1002.4,284.1ZM989.2,227.9 L995.1,227.0 L994.6,226.0 L988.9,226.0 L988.5,226.4ZM1011.4,233.5 L1010.4,234.9 L1016.7,241.6 L1017.3,241.9 L1022.6,239.9 L1022.8,235.7 L1019.4,232.2 L1017.8,232.1ZM982.1,241.3 L980.5,247.0 L986.6,250.1 L989.5,247.4 L990.3,242.8 L985.5,239.6ZM953.3,254.5 L953.9,250.7 L953.1,248.8 L953.1,248.7 L949.1,254.9ZM993.9,249.2 L989.5,247.4 L986.6,250.1 L987.6,254.2 L993.9,254.4ZM993.9,249.2 L993.9,254.4 L998.2,254.5 L999.0,254.4 L1001.0,248.4 L997.5,246.4ZM1053.6,262.9 L1059.4,261.9 L1055.8,253.5 L1054.5,253.2 L1052.1,256.1 L1052.3,260.2ZM871.9,231.0 L872.9,230.8 L876.4,225.5 L868.5,225.5 L867.7,227.1ZM885.1,225.4 L877.8,225.5 L881.7,230.7 L886.5,228.0ZM886.5,228.0 L889.0,228.3 L890.1,226.8 L890.1,225.4 L885.1,225.4ZM920.9,228.1 L924.0,228.4 L924.5,227.8 L923.7,225.3 L915.6,225.3ZM937.8,227.0 L942.8,230.5 L945.2,225.2 L938.1,225.3ZM950.6,225.4 L950.7,225.2 L948.2,225.2 L949.1,225.7ZM976.7,227.1 L975.9,225.7 L967.1,225.5 L968.2,227.6 L976.3,227.6ZM872.9,230.8 L878.0,235.9 L881.0,234.3 L881.1,234.2 L881.7,230.7 L877.8,225.5 L876.4,225.5ZM895.6,232.2 L897.8,226.2 L890.1,226.8 L889.0,228.3 L890.7,232.5 L892.5,234.9ZM915.2,234.5 L920.9,228.1 L915.6,225.3 L914.0,225.3 L912.3,226.7 L910.2,233.3 L911.6,234.2ZM924.5,235.4 L924.0,228.4 L920.9,228.1 L915.2,234.5 L921.7,239.0ZM967.1,225.5 L962.3,225.3 L961.5,227.8 L962.6,234.4 L963.0,234.5 L966.9,231.8 L968.2,227.6ZM983.7,228.5 L983.4,231.4 L983.6,231.3 L986.4,228.5ZM913.3,241.9 L917.2,241.8 L921.7,239.7 L921.7,239.0 L915.2,234.5 L911.6,234.2ZM943.4,231.8 L942.0,234.9 L943.5,237.4 L949.5,240.2 L949.8,240.0 L949.3,232.4 L947.9,231.7ZM958.9,243.7 L961.1,241.9 L963.2,241.0 L964.2,237.1 L963.0,234.5 L962.6,234.4 L958.1,234.6 L955.7,238.7 L958.2,244.0ZM870.8,241.2 L868.6,239.9 L862.9,240.7 L862.0,243.1 L862.6,249.2 L862.7,249.4 L870.3,247.7 L871.4,243.2ZM898.3,240.0 L892.5,237.8 L891.0,239.0 L890.2,246.9 L890.7,248.0 L898.3,245.8 L899.5,242.1ZM924.0,244.2 L921.7,239.7 L917.2,241.8 L916.6,248.8ZM933.9,247.1 L931.3,237.9 L926.2,245.9 L932.0,247.5ZM937.3,247.3 L938.2,246.5 L936.9,239.7 L931.3,237.8 L931.3,237.9 L933.9,247.1ZM943.5,237.4 L940.1,246.1 L942.5,246.4 L949.0,242.4 L949.5,240.2ZM904.3,247.0 L901.0,252.7 L901.0,252.8 L904.5,254.0 L906.5,253.9 L908.8,246.9ZM926.2,245.9 L926.1,245.9 L923.1,253.5 L924.5,256.5 L924.7,256.6 L930.4,253.1 L932.0,247.5ZM930.4,253.1 L932.5,255.4 L938.0,253.6 L938.1,253.2 L937.3,247.3 L933.9,247.1 L932.0,247.5ZM952.3,247.2 L948.2,252.6 L948.2,253.0 L949.7,254.0 L953.2,248.5 L954.6,247.3ZM884.8,256.0 L881.5,255.3 L880.9,256.6 L884.6,256.6ZM888.6,255.5 L888.9,256.6 L898.8,256.6 L899.1,254.0 L890.3,252.7 L890.1,252.9ZM932.5,255.4 L930.4,253.1 L924.7,256.6 L924.7,256.6 L932.3,256.6ZM932.5,255.4 L932.3,256.6 L937.9,256.6 L938.0,253.6ZM948.2,253.0 L945.7,255.3 L945.4,256.6 L948.0,256.6 L949.7,254.0ZM941.9,176.6 L940.0,176.0 L936.3,179.6 L939.0,181.7 L939.8,181.6ZM934.9,186.6 L939.0,181.7 L936.3,179.6 L930.9,184.9ZM939.8,181.6 L945.2,185.1 L949.2,183.0 L949.3,179.6 L949.1,179.1 L948.0,178.5 L941.9,176.6ZM949.3,179.6 L949.2,183.0 L953.0,184.5 L953.0,184.5 L954.3,181.7 L949.8,179.4ZM957.8,183.4 L954.3,181.7 L953.0,184.5ZM967.1,186.2 L968.7,184.3 L963.0,184.0ZM945.2,185.1 L939.8,181.6 L939.0,181.7 L934.9,186.6 L935.7,191.1 L941.9,191.9 L944.2,190.1ZM955.5,192.6 L956.0,192.7 L959.8,191.3 L960.2,183.9 L958.5,183.8 L957.8,183.4 L953.0,184.5 L953.0,184.5ZM959.8,191.3 L962.4,191.5 L967.1,189.3 L967.1,186.2 L963.0,184.0 L960.2,183.9ZM919.8,199.4 L922.8,199.6 L927.7,192.5 L927.1,191.8 L923.7,191.6 L920.0,195.0 L918.5,195.7ZM935.7,191.1 L932.1,194.3 L932.3,195.6 L935.6,199.9 L941.8,195.6 L941.9,191.9ZM964.0,197.5 L962.4,191.5 L959.8,191.3 L956.0,192.7 L959.5,196.9ZM967.7,196.4 L970.1,192.0 L967.1,189.3 L962.4,191.5 L964.0,197.5 L964.7,198.3ZM976.6,194.8 L975.7,193.0 L975.7,193.0 L970.1,192.0 L967.7,196.4 L971.6,200.6 L977.0,197.3ZM888.9,205.4 L895.0,202.7 L895.1,202.6 L891.7,199.7 L888.3,199.7 L886.1,203.0ZM926.6,202.8 L927.2,204.3 L929.7,205.3 L936.2,202.9 L935.6,199.9 L932.3,195.6ZM944.5,200.0 L941.8,195.6 L935.6,199.9 L936.2,202.9 L939.2,205.3 L943.4,203.1ZM952.0,201.1 L947.2,198.9 L944.5,200.0 L943.4,203.1 L946.5,205.0ZM967.7,196.4 L964.7,198.3 L964.2,202.5 L964.6,202.9 L969.4,203.9 L971.6,200.6ZM978.5,199.0 L977.0,197.3 L971.6,200.6 L969.4,203.9 L970.7,206.0 L978.6,202.1ZM979.9,206.6 L982.3,206.3 L978.7,199.0 L978.5,199.0 L978.6,202.1ZM895.4,209.3 L895.0,202.7 L888.9,205.4 L888.5,209.4 L891.4,212.4ZM910.5,207.2 L912.1,203.9 L908.7,202.2 L901.1,204.4 L902.2,208.9 L908.2,209.6ZM926.6,202.8 L924.2,200.8 L922.8,199.6 L919.8,199.4 L915.9,203.8 L920.0,209.3 L923.1,209.0 L927.2,204.3ZM943.4,203.1 L939.2,205.3 L939.1,209.6 L949.5,209.4 L946.5,205.0ZM964.2,202.5 L959.4,201.8 L955.1,202.9 L954.7,206.2 L960.4,210.5 L962.1,209.8 L964.6,202.9ZM964.6,202.9 L962.1,209.8 L968.7,212.7 L972.2,210.3 L970.7,206.0 L969.4,203.9ZM970.7,206.0 L972.2,210.3 L975.5,211.0 L978.2,210.3 L979.9,206.6 L978.6,202.1ZM979.9,206.6 L978.2,210.3 L979.9,211.7 L983.6,208.9 L982.3,206.3ZM876.1,217.3 L880.3,221.4 L881.8,221.0 L883.4,216.6 L881.7,212.6 L878.2,212.9 L877.1,213.8ZM892.5,217.4 L891.4,212.4 L888.5,209.4 L882.2,211.8 L881.7,212.6 L883.4,216.6ZM893.3,218.4 L894.3,219.0 L899.9,217.0 L900.8,210.9 L895.4,209.3 L891.4,212.4 L892.5,217.4ZM910.3,215.8 L914.7,212.3 L910.5,207.2 L908.2,209.6 L909.2,215.4ZM934.8,217.1 L935.8,214.1 L935.7,213.3 L931.6,211.6 L927.0,213.4 L925.8,217.6ZM943.2,219.0 L945.3,218.9 L947.2,216.6 L939.0,210.0 L935.7,213.3 L935.8,214.1ZM939.1,209.6 L939.0,210.0 L947.2,216.6 L950.0,215.5 L950.1,209.8 L949.5,209.4ZM975.5,211.0 L972.2,210.3 L968.7,212.7 L968.2,215.1 L969.6,218.6 L973.0,216.8 L975.5,214.9ZM873.6,225.3 L872.5,219.1 L871.4,218.4 L871.0,218.8 L868.7,225.0 L869.7,225.5 L873.4,225.5ZM910.3,215.8 L909.2,215.4 L903.7,218.7 L905.0,222.4 L906.7,225.3 L909.3,225.1 L911.0,216.6ZM925.5,218.1 L925.8,220.7 L929.5,224.3 L934.9,221.6 L934.8,217.1 L925.8,217.6ZM961.2,218.4 L958.6,215.2 L951.8,216.5 L953.8,223.7 L961.7,222.3ZM883.9,225.4 L888.0,225.4 L887.0,222.0 L883.2,222.3ZM906.7,225.3 L906.6,225.4 L911.2,225.4 L909.3,225.1ZM921.5,223.4 L916.0,220.2 L913.2,225.3 L921.2,225.3ZM921.5,223.4 L921.2,225.3 L929.4,225.3 L929.5,224.3 L925.8,220.7ZM929.4,225.3 L938.4,225.3 L937.4,223.1 L934.9,221.6 L929.5,224.3ZM945.7,223.2 L943.6,225.2 L948.5,225.2ZM953.8,223.7 L953.1,225.2 L957.2,225.2 L962.0,222.6 L961.7,222.3ZM1042.0,173.4 L1045.7,170.5 L1045.7,170.3 L1041.7,169.2 L1040.4,170.2ZM1031.8,178.6 L1036.7,176.5 L1035.6,174.1 L1035.1,174.5 L1029.8,178.5 L1029.7,178.6ZM1036.7,176.5 L1039.0,178.0 L1039.9,177.4 L1042.0,173.4 L1040.4,170.2 L1035.6,174.1ZM1033.0,191.0 L1034.8,186.7 L1032.5,184.6 L1026.9,182.8 L1024.7,186.1ZM1017.0,196.0 L1016.6,195.0 L1015.7,196.6ZM1017.0,196.0 L1021.4,196.0 L1022.7,194.3 L1021.8,188.5 L1019.3,190.4 L1016.6,195.0ZM1014.8,205.3 L1015.8,205.7 L1022.6,202.4 L1021.4,196.0 L1017.0,196.0 L1015.7,196.6 L1015.4,197.2ZM1040.4,198.4 L1036.8,198.7 L1036.2,199.5 L1034.8,203.4 L1040.8,206.8 L1044.0,201.7ZM991.4,214.0 L991.8,212.5 L990.2,212.8 L989.2,212.2ZM1009.9,204.7 L1008.7,206.2 L1002.0,209.5 L1007.0,211.7 L1007.3,211.5 L1010.3,205.3ZM979.2,212.5 L981.4,216.1 L989.3,216.4 L991.4,214.1 L991.4,214.0 L989.2,212.2 L983.6,208.9 L979.3,212.1ZM1007.3,211.5 L1007.0,211.7 L1006.0,215.5 L1010.2,220.2 L1016.3,216.0 L1015.8,214.7ZM1025.5,210.7 L1024.5,209.3 L1020.1,210.1 L1022.7,215.7 L1025.2,214.8ZM968.4,224.1 L974.7,225.1 L971.5,217.6 L966.5,220.2ZM958.6,224.4 L957.2,225.2 L960.0,225.3ZM968.4,224.1 L966.5,220.2 L963.1,222.0 L961.4,225.3 L967.3,225.5ZM999.5,226.0 L1005.5,226.0 L1004.8,223.2 L1002.7,222.6ZM1005.5,226.0 L1012.3,226.0 L1010.1,222.1 L1004.8,223.2ZM1020.0,223.1 L1014.6,226.0 L1021.8,226.0 L1022.0,224.3ZM1008.7,147.0 L1008.7,145.0 L1006.9,145.0 L1005.7,147.0 L1007.1,147.6ZM1002.9,155.5 L1003.4,155.3 L1007.1,147.6 L1005.7,147.0 L1004.0,150.0 L1002.9,155.4ZM1008.1,155.8 L1003.4,155.3 L1002.9,155.5 L1002.9,155.6 L1002.8,156.0 L1007.0,163.1 L1008.7,161.5 L1008.7,157.0ZM991.7,170.9 L992.9,171.5 L994.5,171.7 L999.1,164.9 L998.4,163.6 L995.5,166.6 L991.2,169.8ZM1026.7,166.5 L1027.6,166.9 L1030.8,166.0 L1026.7,166.0ZM988.1,172.4 L991.7,170.9 L991.2,169.8 L990.2,170.6 L987.8,172.0ZM998.8,176.4 L1003.5,173.6 L1004.5,167.6 L999.1,164.9 L994.5,171.7ZM1003.5,173.6 L1005.6,174.9 L1010.3,174.9 L1012.5,168.1 L1006.4,166.7 L1004.5,167.6ZM1013.9,167.6 L1013.2,168.0 L1015.5,179.2 L1015.6,179.3 L1017.7,178.5 L1017.9,178.1 L1016.7,167.9ZM1021.3,167.7 L1019.5,167.2 L1016.7,167.9 L1017.9,178.1 L1022.3,174.5ZM1026.2,175.4 L1028.1,169.0 L1027.6,166.9 L1026.7,166.5 L1021.3,167.7 L1022.3,174.5ZM1034.3,175.1 L1035.1,174.5 L1036.7,173.2 L1038.1,170.4 L1036.8,166.0 L1030.8,166.0 L1027.6,166.9 L1028.1,169.0ZM983.6,177.4 L985.1,178.8 L989.7,179.8 L992.9,171.5 L991.7,170.9 L988.1,172.4ZM989.7,179.8 L992.3,181.4 L997.8,180.4 L998.0,180.1 L998.8,176.4 L994.5,171.7 L992.9,171.5ZM998.0,180.1 L1007.0,181.7 L1007.1,181.5 L1005.6,174.9 L1003.5,173.6 L998.8,176.4ZM1007.1,181.5 L1013.2,178.6 L1010.3,174.9 L1005.6,174.9ZM1012.5,168.1 L1010.3,174.9 L1013.2,178.6 L1015.5,179.2 L1013.2,168.0ZM1017.9,178.1 L1017.7,178.5 L1024.6,183.2 L1029.0,179.6 L1026.2,175.4 L1022.3,174.5ZM1029.0,179.6 L1029.1,179.6 L1029.8,178.5 L1034.3,175.1 L1028.1,169.0 L1026.2,175.4ZM1038.1,170.4 L1036.7,173.2 L1040.0,170.6ZM977.9,184.6 L984.3,187.5 L984.7,187.1 L985.1,178.8 L983.6,177.4 L982.4,177.1 L982.3,177.1 L981.0,179.8 L978.0,181.3ZM985.1,178.8 L984.7,187.1 L990.4,186.7 L990.8,186.2 L992.3,181.4 L989.7,179.8ZM990.8,186.2 L995.9,188.8 L997.9,180.8 L997.8,180.4 L992.3,181.4ZM997.9,180.8 L1003.3,188.8 L1006.4,188.6 L1007.4,185.9 L1007.0,181.7 L998.0,180.1 L997.8,180.4ZM1014.8,183.9 L1015.6,179.3 L1015.5,179.2 L1013.2,178.6 L1007.1,181.5 L1007.0,181.7 L1007.4,185.9ZM1024.6,183.2 L1017.7,178.5 L1015.6,179.3 L1014.8,183.9 L1015.9,186.9 L1019.7,188.4 L1023.0,187.6 L1024.1,186.7ZM1029.0,179.6 L1024.6,183.2 L1024.1,186.7 L1024.5,186.4 L1029.1,179.6ZM976.7,190.0 L976.5,186.2 L972.3,185.7 L974.9,191.2ZM976.5,186.2 L976.7,190.0 L980.7,192.3 L983.5,191.5 L984.3,187.5 L977.9,184.6ZM986.0,193.7 L990.8,194.1 L990.9,194.0 L990.4,186.7 L984.7,187.1 L984.3,187.5 L983.5,191.5ZM997.9,180.8 L995.9,188.8 L997.3,192.0 L998.7,192.4 L1003.3,188.8ZM1019.7,188.4 L1018.5,191.7 L1019.3,190.4 L1023.0,187.6ZM978.3,197.7 L980.7,192.3 L976.7,190.0 L974.9,191.2 L975.7,193.0 L978.0,197.7ZM983.6,200.9 L986.0,193.7 L983.5,191.5 L980.7,192.3 L978.3,197.7 L983.5,201.0ZM998.7,192.4 L1000.1,196.8 L1008.8,197.0 L1010.0,195.3 L1010.3,193.9 L1010.1,192.9 L1006.4,188.6 L1003.3,188.8ZM978.3,197.7 L978.0,197.7 L981.3,204.2 L983.8,202.8 L983.5,201.0ZM983.8,202.8 L988.2,206.6 L989.3,206.4 L991.8,204.0 L992.1,199.1 L991.4,197.8 L983.6,200.9 L983.5,201.0ZM999.5,198.4 L992.1,199.1 L991.8,204.0 L1000.3,204.6ZM1002.0,206.5 L1005.6,206.1 L1008.5,201.5 L1008.8,197.0 L1000.1,196.8 L999.5,198.4 L1000.3,204.6ZM988.2,206.6 L983.8,202.8 L981.3,204.2 L983.6,208.9 L986.1,210.4ZM989.3,206.4 L988.2,206.6 L986.1,210.4 L990.2,212.8 L995.0,212.0ZM1002.0,206.5 L1000.3,204.6 L991.8,204.0 L989.3,206.4 L995.0,212.0 L998.1,211.5 L1000.1,210.5ZM1010.3,164.6 L1010.4,162.6 L1008.7,162.6 L1008.7,164.5ZM1010.3,164.6 L1010.7,166.0 L1018.8,166.0 L1019.7,165.5 L1019.6,162.9 L1019.4,162.6 L1010.4,162.6ZM1010.3,164.6 L1008.7,164.5 L1008.7,166.0 L1010.7,166.0ZM1035.9,165.8 L1031.1,164.2 L1029.7,166.0 L1036.0,166.0ZM1081.5,175.7 L1077.1,182.6 L1077.2,184.0 L1077.9,185.1 L1083.6,184.0 L1084.0,183.6 L1084.0,178.5Z"/>
<path fill="#7b0307" d="M677.5,275.6 L677.5,283.6 L685.5,283.6 L685.5,275.6ZM717.5,275.6 L717.5,283.6 L725.5,283.6 L725.5,275.6ZM741.5,283.6 L742.0,283.6 L742.0,276.8 L741.5,276.7ZM693.5,283.6 L693.5,291.6 L701.5,291.6 L701.5,283.6ZM669.5,291.6 L669.5,299.6 L677.5,299.6 L677.5,291.6ZM603.6,321.1 L599.7,320.0 L602.5,321.8ZM605.7,321.1 L615.4,331.3 L620.8,327.7 L622.1,322.1 L612.5,316.5ZM623.3,338.9 L626.4,348.4 L633.3,346.6 L635.5,336.4 L634.5,335.1ZM687.5,342.5 L681.7,349.0 L685.8,358.0 L688.0,357.4 L688.0,342.7ZM673.2,352.9 L669.6,351.4 L666.2,354.2 L672.9,354.7ZM777.3,281.1 L777.2,280.9 L776.2,280.2 L769.8,279.9 L769.0,280.5 L768.1,287.0 L771.6,293.5 L773.1,294.1ZM789.2,284.9 L793.1,286.5 L793.6,286.3 L793.6,280.7 L788.5,280.7ZM771.6,293.5 L768.1,287.0 L761.3,288.1 L765.1,294.2ZM752.4,295.9 L750.7,295.9 L740.3,301.4 L743.2,308.4 L752.0,302.4 L752.8,296.3ZM774.8,307.6 L776.2,306.4 L774.7,295.1 L773.2,294.3 L767.2,303.5 L773.3,308.2ZM795.1,303.8 L795.5,304.3 L796.1,304.4 L795.3,300.8ZM692.1,316.7 L694.4,315.7 L693.6,312.6 L688.0,307.3 L688.0,313.5ZM778.8,321.3 L779.0,321.5 L782.6,320.3 L785.3,313.6 L784.8,313.0 L777.4,311.6ZM747.2,329.7 L743.5,322.8 L740.3,322.4 L737.5,322.9 L736.7,333.7 L737.5,334.8 L738.2,335.2 L740.4,334.9ZM780.0,328.1 L779.0,321.5 L770.8,327.1 L776.7,334.7ZM798.7,329.7 L799.0,329.6 L799.7,326.7 L800.0,323.0 L798.9,317.9 L796.0,316.5 L789.4,323.6 L789.5,323.9ZM688.2,338.4 L697.2,329.3 L696.2,328.4 L688.0,327.3 L688.0,338.3ZM756.9,336.4 L761.9,335.7 L764.6,330.1 L753.2,328.8 L750.8,330.9 L750.9,331.2ZM761.9,335.7 L765.2,341.6 L766.0,341.7 L771.0,336.3 L765.3,329.5 L764.6,330.1ZM788.1,344.8 L794.1,344.8 L796.0,341.2 L794.7,334.5 L787.3,334.1 L784.2,338.5ZM729.4,353.0 L728.2,353.4 L723.9,364.5 L728.5,365.7 L736.1,359.0 L733.6,354.1ZM692.9,368.4 L690.6,366.6 L692.6,370.2ZM705.0,367.6 L706.8,364.8 L705.9,360.8 L697.8,358.3 L696.8,358.6 L694.3,367.1ZM705.8,387.0 L710.0,383.4 L704.6,376.3 L699.2,378.2 L698.8,379.2 L700.9,383.8 L702.5,386.4ZM713.2,385.9 L712.5,384.1 L710.0,383.4 L705.8,387.0 L706.4,391.7 L713.4,393.0ZM742.5,422.0 L743.8,414.1 L743.8,413.8 L735.2,412.5 L730.3,418.4 L730.6,418.8 L740.1,422.9ZM741.6,232.6 L736.5,230.2 L728.7,238.5 L729.4,240.2 L735.0,242.5ZM754.7,276.5 L751.1,274.8 L747.0,277.5 L747.0,277.5 L756.4,278.9ZM799.5,228.1 L800.1,230.4 L805.3,231.8 L808.9,227.5 L808.7,227.2 L800.3,227.2ZM838.5,230.2 L843.7,235.4 L844.5,234.8 L845.6,227.2 L839.6,227.2ZM805.3,231.8 L805.6,233.3 L808.0,236.7 L811.2,233.9 L812.2,229.0 L808.9,227.5ZM820.1,232.7 L820.7,234.7 L825.7,236.4 L827.6,234.7 L831.2,228.8 L831.1,228.7 L822.5,227.9ZM831.2,228.8 L827.6,234.7 L834.3,236.4 L835.2,230.5ZM847.1,234.0 L850.9,233.8 L851.3,227.2 L849.1,227.2ZM852.9,244.5 L859.3,244.5 L860.8,241.2 L859.3,236.7 L858.8,236.5 L855.6,236.5 L852.7,240.1ZM841.7,250.9 L845.0,248.2 L838.7,244.0 L833.6,248.0 L833.6,248.1ZM824.5,250.8 L824.2,253.2 L832.9,255.4 L833.5,255.2 L833.6,248.1 L833.6,248.0 L829.8,245.5 L828.5,245.1ZM833.5,255.2 L835.5,256.1 L838.9,255.7 L841.7,250.9 L833.6,248.1ZM852.4,251.0 L851.7,254.8 L853.3,256.8 L855.2,253.3 L856.3,251.0ZM828.7,261.9 L831.4,265.3 L834.0,265.1 L835.8,259.6 L835.5,256.1 L833.5,255.2 L832.9,255.4ZM799.0,262.5 L797.3,262.4 L796.0,266.5 L797.0,271.8 L797.0,271.8 L803.2,267.7ZM849.8,263.1 L850.2,262.4 L847.7,259.3 L843.0,259.7 L841.6,264.6 L841.5,265.8 L844.8,267.2ZM824.7,273.5 L830.0,274.1 L830.3,267.5 L823.7,267.3 L823.2,272.3ZM844.8,267.2 L841.5,265.8 L838.7,267.5 L837.2,274.1 L837.7,274.5 L843.8,274.6 L844.0,273.8 L846.3,269.6ZM808.4,293.6 L810.5,289.9 L803.2,289.1 L803.0,289.2 L802.6,292.9 L803.9,295.0 L806.7,295.0ZM809.0,297.1 L813.6,300.8 L815.7,296.6 L814.2,295.0 L809.2,295.0ZM822.1,295.2 L821.9,296.4 L822.5,298.1 L828.6,300.7 L832.1,298.4 L833.0,296.9 L832.8,295.0 L822.4,295.0ZM813.9,302.4 L820.5,301.5 L822.5,298.1 L821.9,296.4 L815.7,296.6 L813.6,300.8ZM828.6,300.7 L822.5,298.1 L820.5,301.5 L821.4,307.5 L828.6,304.7ZM839.9,304.1 L841.1,300.2 L841.0,299.1 L840.0,298.3 L833.0,296.9 L832.1,298.4 L834.9,302.1ZM804.5,305.0 L800.8,310.6 L807.4,313.9 L810.5,311.3ZM804.5,305.0 L810.5,311.3 L811.6,311.2 L814.2,309.8 L813.2,303.7 L804.5,302.8 L804.4,302.9ZM813.6,319.1 L814.5,319.5 L819.7,311.0 L814.2,309.8 L811.6,311.2ZM836.3,310.4 L832.2,309.2 L831.7,309.2 L831.0,309.9 L828.2,316.5 L836.3,315.7 L836.7,314.5ZM806.1,324.6 L807.6,320.2 L806.2,318.1 L800.5,318.4 L799.4,320.2 L800.0,323.0 L799.9,324.2ZM804.0,331.6 L799.6,327.4 L798.8,336.4ZM809.5,337.9 L809.9,337.4 L806.6,331.3 L804.0,331.6 L798.8,336.4 L798.7,337.5 L805.4,340.2ZM819.8,342.3 L826.1,334.7 L822.9,332.0 L817.9,332.0 L816.2,337.0ZM830.9,333.3 L832.0,330.9 L831.9,330.1 L825.7,326.9 L822.9,332.0 L826.1,334.7 L829.1,335.0ZM859.3,337.2 L859.6,337.8 L862.1,340.0 L862.7,339.6 L861.0,332.4ZM809.9,337.4 L809.5,337.9 L810.8,344.3 L817.3,344.8 L819.8,342.5 L819.8,342.3 L816.2,337.0ZM829.1,335.0 L826.1,334.7 L819.8,342.3 L819.8,342.5 L820.5,342.9 L830.0,341.4ZM839.9,345.2 L844.2,342.2 L842.1,336.2 L840.5,334.8 L836.9,338.2 L836.4,340.5ZM862.8,341.6 L862.1,340.0 L859.6,337.8 L856.3,343.1 L860.0,347.9ZM798.2,351.5 L802.8,349.3 L799.6,343.1 L798.3,341.5 L797.5,350.5ZM844.2,342.2 L839.9,345.2 L839.6,346.2 L844.9,351.9 L847.8,350.6 L848.4,349.2 L846.8,342.3ZM822.4,355.5 L828.3,349.4 L821.8,345.2 L821.4,355.1ZM847.8,350.6 L844.9,351.9 L843.8,355.1 L845.9,358.3 L852.7,359.4 L854.7,355.1ZM865.1,353.0 L866.0,353.1 L864.5,351.0 L864.5,348.4 L862.4,349.5ZM838.2,356.4 L834.3,354.3 L830.7,358.4 L838.4,362.3 L838.8,362.6ZM853.5,362.4 L852.7,359.4 L845.9,358.3 L843.1,364.5 L847.4,366.1 L853.1,363.7ZM854.7,355.1 L852.7,359.4 L853.5,362.4 L863.4,363.3 L864.0,362.6 L862.0,357.7 L855.7,354.4ZM853.1,363.7 L847.4,366.1 L847.5,366.4 L853.3,364.5ZM853.3,364.5 L857.0,363.2 L863.0,365.8 L863.4,363.3 L853.5,362.4 L853.1,363.7ZM867.7,361.9 L864.0,362.6 L863.4,363.3 L863.0,365.8 L868.2,368.0 L869.3,362.4ZM860.1,257.3 L860.6,256.6 L858.4,256.6ZM879.3,258.4 L886.1,258.3 L886.9,257.4 L886.9,256.6 L878.4,256.6ZM854.1,263.5 L856.7,264.5 L861.5,259.4 L860.1,257.3 L858.4,256.6 L854.0,256.6 L854.5,255.3 L854.0,255.5 L851.9,259.4 L851.7,259.7ZM869.5,256.6 L868.7,256.6 L865.2,260.7 L865.4,262.5 L870.6,263.6 L872.5,260.6ZM861.5,259.4 L856.7,264.5 L860.6,268.7 L864.4,266.8 L865.4,262.5 L865.2,260.7ZM848.8,275.0 L850.9,272.3 L850.7,269.3 L847.6,267.2 L844.0,273.8 L843.8,274.9ZM856.7,264.5 L854.1,263.5 L850.7,269.3 L850.9,272.3 L855.8,272.3 L860.0,270.9 L860.6,268.7ZM869.8,269.5 L864.4,266.8 L860.6,268.7 L860.0,270.9 L862.9,277.1 L868.7,275.4ZM872.3,268.4 L869.8,269.5 L868.7,275.4 L871.6,277.5 L875.9,276.2 L876.4,269.0 L875.8,268.3ZM848.8,275.0 L843.8,274.9 L842.8,279.5 L844.1,283.2 L851.5,281.2 L851.8,280.6ZM856.1,280.6 L855.8,272.3 L850.9,272.3 L848.8,275.0 L851.8,280.6ZM878.4,279.9 L885.8,281.4 L886.0,277.5 L881.7,275.7 L877.9,277.4ZM851.5,281.2 L844.1,283.2 L842.3,289.1 L845.1,289.3 L850.8,287.0ZM878.4,279.9 L876.7,285.5 L885.8,283.3 L885.8,281.4ZM876.7,285.5 L876.4,285.8 L878.0,290.5 L884.7,289.7 L885.5,288.4 L885.8,283.3ZM850.6,295.3 L845.1,289.3 L842.3,289.1 L841.7,289.4 L840.1,292.3 L842.7,297.8 L847.3,298.4ZM862.5,293.4 L864.0,290.2 L858.4,285.0 L853.8,289.4 L854.5,291.3 L860.6,293.7ZM863.9,295.7 L873.0,298.3 L874.5,294.7 L866.9,288.8 L865.9,288.7 L864.0,290.2 L862.5,293.4ZM839.9,304.2 L840.0,304.1 L842.7,297.8 L840.1,292.3 L840.1,292.4 L839.5,295.0 L842.1,297.0 L839.9,304.2ZM863.5,301.7 L863.9,302.8 L868.7,303.7 L873.4,300.2 L873.0,298.3 L863.9,295.7ZM883.8,298.3 L882.4,302.2 L884.8,305.0 L885.2,297.4ZM847.3,298.4 L842.7,297.8 L840.0,304.1 L841.0,304.6 L846.7,305.5 L848.4,300.8ZM846.7,305.5 L850.2,309.0 L854.6,304.0 L854.6,302.9 L848.4,300.8ZM882.4,302.2 L876.8,303.1 L876.1,307.3 L880.1,311.5 L884.7,308.6 L884.8,305.0ZM850.1,310.9 L855.6,314.5 L856.8,313.8 L860.0,307.7 L854.6,304.0 L850.2,309.0ZM869.3,309.2 L867.7,311.7 L871.9,316.5 L873.9,315.9 L875.1,308.0ZM880.1,311.5 L879.4,315.6 L884.3,317.4 L884.7,308.6ZM855.6,314.5 L855.6,318.8 L856.4,319.4 L863.6,319.4 L863.6,314.7 L856.8,313.8ZM879.4,315.6 L879.0,315.8 L880.0,324.5 L882.1,325.1 L884.1,321.6 L884.3,317.4ZM837.8,320.5 L837.8,320.5 L833.4,326.7 L839.6,328.8 L842.1,324.4 L841.8,321.9ZM845.5,319.8 L841.8,321.9 L842.1,324.4 L846.2,329.3 L851.0,325.5 L850.5,321.9ZM859.6,327.3 L856.4,319.4 L855.6,318.8 L850.5,321.9 L851.0,325.5 L855.8,330.0ZM882.1,325.1 L883.5,327.6 L883.9,327.5 L884.1,321.6ZM839.6,328.8 L833.4,326.7 L832.8,327.2 L832.8,331.0 L833.4,331.5 L839.7,331.5ZM839.6,328.8 L839.7,331.5 L844.7,331.5 L846.2,330.2 L846.2,329.3 L842.1,324.4ZM876.2,324.2 L873.4,323.9 L870.8,329.6 L872.2,331.6 L875.8,333.3 L876.3,332.9 L877.1,324.6ZM883.5,327.6 L882.7,330.4 L883.7,331.5 L883.9,327.5ZM864.2,340.7 L866.3,340.5 L867.1,339.7 L867.9,336.7 L864.7,330.2 L862.0,335.9 L862.2,337.5 L862.6,339.0ZM876.3,332.9 L875.8,333.3 L876.0,338.0 L878.1,341.0 L882.9,339.9 L880.4,331.8ZM864.2,340.7 L862.6,339.0 L863.3,342.1ZM878.1,341.0 L876.7,345.3 L877.2,345.8 L883.2,343.6 L883.4,339.9 L882.9,339.9ZM895.0,258.7 L896.2,257.8 L896.2,256.6 L891.8,256.6ZM924.9,259.0 L925.4,258.8 L925.5,256.6 L921.4,256.6ZM889.7,295.9 L889.8,296.0 L896.4,288.7 L896.4,288.6 L890.0,287.5 L887.4,293.0ZM902.7,291.9 L904.8,292.7 L909.3,285.7 L905.4,283.0 L902.5,284.5ZM910.1,295.4 L913.1,292.2 L911.7,285.9 L909.3,285.7 L904.8,292.7 L906.2,295.4ZM885.8,299.4 L885.1,299.2 L884.8,305.1 L885.1,305.0ZM912.7,299.7 L910.1,295.4 L906.2,295.4 L903.1,301.3 L905.1,302.9ZM913.9,300.4 L912.7,299.7 L905.1,302.9 L907.6,306.7 L914.4,301.5ZM917.7,324.0 L919.5,323.1 L920.0,314.9 L918.1,313.2 L915.8,313.1 L913.5,319.8 L915.8,322.6ZM885.8,328.1 L883.9,327.1 L883.6,333.1 L886.3,329.7ZM926.8,330.2 L926.6,330.4 L927.7,332.6 L934.4,332.6 L931.2,326.2ZM888.0,340.4 L888.3,339.8 L883.6,334.8 L883.3,341.7ZM932.4,258.0 L933.3,256.6 L928.2,256.6 L928.6,258.7ZM966.5,258.4 L965.9,257.3 L962.9,257.2ZM948.5,260.9 L946.8,259.3 L945.0,258.7 L940.4,262.4 L940.2,263.6 L941.7,266.6 L949.2,267.5 L949.3,266.8ZM941.7,266.6 L940.2,263.6 L934.6,267.9 L934.9,268.6 L940.2,270.4 L941.1,270.1ZM949.2,267.5 L949.3,269.0 L955.3,273.0 L955.7,272.9 L957.6,265.7 L956.1,265.2 L949.3,266.8ZM962.0,264.2 L963.9,270.8 L971.0,271.8 L971.0,271.7 L971.6,266.9 L969.1,262.7ZM970.8,275.9 L971.0,271.8 L963.9,270.8 L960.3,273.8 L962.1,279.3ZM971.0,271.7 L971.0,271.8 L970.8,275.9 L972.8,281.0 L973.6,281.5 L977.8,277.4 L974.5,271.8ZM950.4,284.7 L947.4,279.5 L942.4,283.9 L944.2,289.7 L947.8,289.3ZM958.8,282.2 L962.9,287.5 L965.9,283.9 L962.0,280.1ZM977.3,285.5 L977.5,286.4 L984.9,286.8 L980.7,282.0ZM958.8,282.2 L956.5,283.2 L955.8,284.2 L958.1,290.4 L962.0,289.6 L962.9,287.5ZM977.5,286.4 L976.8,289.2 L986.2,293.6 L986.6,293.5 L985.6,287.5 L984.9,286.8ZM986.6,293.5 L986.9,293.5 L989.2,291.6 L985.6,287.5ZM957.7,297.0 L956.6,293.1 L950.4,292.1 L948.6,297.8 L949.6,300.1 L950.8,300.5ZM983.1,297.1 L986.2,293.6 L976.8,289.2 L975.1,291.8 L975.9,294.0ZM949.6,300.1 L948.6,297.8 L943.2,296.0 L940.3,300.2 L944.3,303.9 L944.6,303.8ZM959.4,298.5 L957.7,297.0 L950.8,300.5 L953.2,305.9 L957.9,306.8 L958.7,304.7ZM986.2,293.6 L983.1,297.1 L983.0,301.6 L985.4,304.8 L988.0,304.5 L989.5,302.8 L989.7,296.4 L986.9,293.5 L986.6,293.5ZM995.4,301.5 L992.2,295.8 L989.7,296.4 L989.5,302.8ZM950.9,307.6 L944.6,303.8 L944.3,303.9 L943.2,307.5 L949.5,310.8ZM958.2,307.5 L957.9,306.8 L953.2,305.9 L950.9,307.6 L949.5,310.8 L949.8,313.4 L952.0,315.1ZM966.9,299.6 L964.9,303.9 L965.5,308.7 L970.1,307.7 L969.4,301.4ZM996.0,310.6 L998.1,307.2 L996.2,302.8 L995.4,301.5 L989.5,302.8 L988.0,304.5 L993.5,311.1ZM949.5,310.8 L943.2,307.5 L940.0,310.8 L942.1,315.5 L949.8,313.4ZM952.0,315.1 L949.8,313.4 L942.1,315.5 L941.5,318.3 L941.6,318.4 L952.7,319.0 L953.2,317.5ZM965.5,308.7 L962.3,311.1 L962.7,315.2 L965.7,317.8 L970.8,315.5 L972.8,312.8 L970.9,308.3 L970.1,307.7ZM983.0,319.8 L988.0,317.7 L990.4,315.8 L983.0,310.8ZM959.1,325.6 L958.7,316.9 L953.2,317.5 L952.7,319.0 L952.2,322.3 L954.5,324.9ZM962.7,315.2 L958.7,316.9 L959.1,325.6 L959.9,326.0 L960.9,326.0 L966.0,320.6 L965.7,317.8ZM972.9,324.9 L977.6,327.7 L980.8,325.2 L982.2,320.9 L982.2,320.7 L978.9,318.3 L974.5,319.6ZM989.2,324.1 L991.6,326.7 L994.0,320.8 L993.9,319.8 L990.8,315.8 L990.4,315.8 L988.0,317.7ZM993.9,319.8 L994.0,320.8 L996.5,322.0 L996.6,321.0 L997.7,318.3ZM940.1,330.8 L938.3,326.3 L937.7,326.0 L938.0,331.7ZM946.7,324.8 L942.3,320.8 L938.3,326.3 L940.1,330.8 L942.9,331.7 L945.7,329.6ZM956.5,334.6 L959.9,326.0 L959.1,325.6 L954.5,324.9 L953.3,329.4ZM975.1,333.0 L977.6,328.6 L977.6,327.7 L972.9,324.9 L970.4,324.8 L966.9,331.1ZM977.6,328.6 L983.6,334.1 L988.0,329.0 L980.8,325.2 L977.6,327.7ZM953.1,337.8 L953.9,337.8 L956.7,335.7 L956.5,334.6 L953.3,329.4 L948.1,330.5ZM960.9,326.0 L959.9,326.0 L956.5,334.6 L956.7,335.7 L960.4,336.2 L965.6,331.9 L965.6,331.8ZM990.8,337.5 L988.6,329.0 L988.0,329.0 L983.6,334.1 L983.6,334.3 L985.7,337.8 L990.7,337.8ZM953.9,337.8 L961.3,337.8 L960.4,336.2 L956.7,335.7ZM918.0,332.6 L913.2,332.6 L913.3,333.2 L916.6,334.6ZM929.7,338.1 L931.9,332.6 L925.4,332.6 L925.3,335.4ZM944.7,337.8 L945.4,339.6 L947.8,339.8 L949.4,337.8 L944.7,337.8ZM922.2,341.8 L920.1,337.3 L917.1,335.7 L914.3,340.8 L920.5,346.4 L920.5,346.4 L920.7,346.6ZM947.8,339.8 L950.9,342.0 L956.7,337.8 L949.4,337.8ZM975.6,338.5 L980.9,340.4 L984.0,338.5 L983.7,337.8 L975.4,337.8ZM903.5,344.0 L909.3,343.6 L911.6,344.2 L912.2,342.2 L908.2,338.9 L903.4,343.2ZM968.2,343.5 L967.1,345.1 L967.0,346.8 L969.9,350.6 L976.4,346.7 L973.7,342.8ZM984.0,338.5 L980.9,340.4 L980.5,345.7 L986.6,348.6 L987.7,347.7 L987.8,344.3 L985.5,338.7ZM994.0,339.4 L987.8,344.3 L987.7,347.7 L996.0,348.0 L995.1,343.6 L995.0,340.5ZM948.7,351.2 L954.4,353.0 L955.1,353.6 L957.4,349.8 L951.8,345.3 L947.8,348.5ZM996.7,354.3 L997.0,353.2 L996.0,348.0 L987.7,347.7 L986.6,348.6 L985.1,354.8 L986.3,355.5ZM965.2,357.8 L960.0,357.8 L964.0,361.2 L965.0,362.2 L966.0,361.2ZM986.3,355.5 L985.1,354.8 L981.8,356.6 L981.4,358.5 L987.8,365.5 L989.5,359.5ZM993.7,360.5 L996.6,359.3 L997.2,358.2 L996.7,354.3 L986.3,355.5 L989.5,359.5ZM971.8,367.8 L967.4,361.8 L966.0,361.2 L965.0,362.2 L970.7,368.0 L970.9,368.5ZM977.8,368.1 L978.1,364.8 L972.7,360.2 L967.4,361.8 L971.8,367.8ZM981.4,358.5 L978.1,364.8 L977.8,368.1 L978.2,368.7 L983.7,370.0 L988.2,368.1 L987.8,365.5ZM1000.2,369.7 L1000.4,368.9 L996.6,359.3 L993.7,360.5 L991.5,368.9 L993.1,370.0 L997.3,370.7ZM975.4,377.4 L978.2,368.7 L977.8,368.1 L971.8,367.8 L970.9,368.5 L973.4,374.8 L972.6,378.0 L973.4,378.0ZM976.1,378.0 L982.3,378.0 L985.3,377.3 L983.7,370.0 L978.2,368.7 L975.4,377.4ZM997.3,370.7 L993.1,370.0 L989.7,376.7 L991.5,378.0 L996.0,378.0ZM1001.8,371.0 L1002.9,378.0 L1007.5,378.0 L1007.3,377.5 L1004.3,371.4ZM982.3,378.0 L986.0,378.0 L986.0,377.9 L985.3,377.3ZM989.7,376.7 L986.0,377.9 L986.0,378.0 L991.5,378.0ZM972.0,382.2 L980.7,381.2 L982.6,378.0 L972.6,378.0 L971.9,380.9ZM999.0,379.5 L992.5,379.6 L990.5,387.5 L994.0,391.9 L999.1,389.8ZM1005.0,388.4 L1007.4,383.8 L1002.3,378.5 L999.0,379.5 L999.1,389.8ZM1006.7,391.2 L1012.0,394.8 L1012.3,394.6 L1011.4,391.0 L1009.0,383.2 L1007.4,383.8 L1005.0,388.4ZM979.1,392.2 L973.5,388.7 L973.3,389.0 L974.8,393.8 L978.2,401.4 L979.1,401.7 L980.7,400.2ZM990.5,387.5 L987.4,387.2 L979.1,392.2 L980.7,400.2 L991.1,400.0 L992.8,398.3 L993.6,396.7 L994.0,391.9ZM994.0,391.9 L993.6,396.7 L1004.0,399.1 L1006.7,391.2 L1005.0,388.4 L999.1,389.8ZM1004.0,399.1 L1009.4,405.1 L1012.6,402.3 L1012.0,394.8 L1006.7,391.2ZM991.1,400.0 L980.7,400.2 L979.1,401.7 L978.8,402.9 L980.2,406.0 L984.2,413.9 L991.2,408.7ZM995.3,421.9 L999.7,423.6 L1005.8,422.6 L1003.1,410.6 L997.2,412.6ZM1013.4,413.3 L1014.4,421.2 L1014.8,421.5 L1014.8,412.8ZM1000.2,433.0 L999.7,423.6 L995.3,421.9 L993.7,422.5 L993.7,427.6 L995.1,429.0 L996.1,430.9ZM1000.2,433.0 L1000.4,433.5 L1006.9,429.9 L1007.0,423.0 L1005.8,422.6 L999.7,423.6ZM993.7,422.5 L988.2,422.0 L988.3,422.3 L993.7,427.6ZM998.9,436.7 L999.2,437.2 L1003.0,437.5 L1003.0,437.5 L1000.2,435.9ZM972.2,257.2 L974.5,257.4 L977.6,255.7 L978.2,254.0 L977.8,254.0 L970.3,256.1ZM977.6,255.7 L984.2,261.4 L986.3,258.4 L985.8,254.2 L978.2,254.0ZM986.3,258.4 L992.8,257.8 L993.7,254.4 L985.8,254.2ZM1006.8,260.9 L1007.4,261.2 L1008.1,260.0 L1006.4,259.9ZM970.7,264.4 L972.2,257.2 L970.3,256.1 L965.9,257.3 L969.8,263.9ZM970.7,264.4 L972.4,267.7 L976.8,265.1 L977.1,264.7 L974.5,257.4 L972.2,257.2ZM995.7,261.5 L999.3,261.2 L1000.6,255.4 L999.7,254.6 L993.7,254.4 L992.8,257.8 L995.1,261.0ZM999.3,261.2 L999.9,261.6 L1006.8,260.9 L1006.4,259.9 L1005.5,259.9 L1001.8,255.0 L1000.6,255.4ZM1014.4,262.6 L1014.7,260.3 L1008.1,260.0 L1007.4,261.2 L1009.6,264.2ZM972.4,267.7 L970.7,264.4 L969.8,263.9 L972.3,268.1ZM984.0,263.4 L977.1,264.7 L976.8,265.1 L982.2,274.7 L983.3,274.3 L984.4,264.0ZM988.0,274.7 L990.8,267.0 L984.5,264.0 L984.4,264.0 L983.3,274.3 L986.9,275.3ZM995.7,261.5 L993.5,266.7 L995.9,270.0 L1001.3,266.6 L999.9,261.6 L999.3,261.2ZM1014.4,262.6 L1009.6,264.2 L1009.3,265.3 L1016.0,271.3 L1019.4,268.6 L1015.6,263.2ZM977.2,274.6 L981.7,275.0 L982.2,274.7 L976.8,265.1 L972.4,267.7 L972.3,268.1 L972.5,268.5 L973.8,270.7ZM994.4,273.8 L996.0,270.8 L995.9,270.0 L993.5,266.7 L990.8,267.0 L988.0,274.7ZM1010.7,277.3 L1014.0,275.7 L1016.0,271.3 L1009.3,265.3 L1006.1,269.7 L1006.0,273.1ZM1022.7,276.1 L1025.3,277.6 L1026.9,276.3 L1029.4,269.4 L1025.0,267.2 L1024.0,267.0 L1020.5,268.7ZM1029.4,269.4 L1026.9,276.3 L1033.5,278.1 L1035.7,275.1 L1029.5,269.3ZM1014.4,285.8 L1016.1,286.0 L1019.8,282.2 L1017.2,276.8 L1014.0,275.7 L1010.7,277.3 L1010.5,280.1ZM1019.8,282.2 L1025.1,281.0 L1025.3,277.6 L1022.7,276.1 L1017.2,276.8ZM1033.6,280.1 L1033.5,278.1 L1026.9,276.3 L1025.3,277.6 L1025.1,281.0 L1026.3,283.0 L1027.8,283.3ZM1033.5,278.1 L1033.6,280.1 L1035.7,282.6 L1038.5,277.7 L1035.7,275.1ZM991.2,284.4 L991.1,284.0 L990.3,283.6 L984.4,285.3 L984.1,285.9 L987.7,289.9ZM1027.8,283.3 L1026.3,283.0 L1024.0,288.5 L1032.5,288.2 L1032.8,287.6ZM1024.0,288.5 L1023.5,289.4 L1024.3,291.0 L1027.5,293.1 L1030.0,292.5 L1032.5,288.2ZM1022.1,295.9 L1025.3,293.6 L1027.5,293.1 L1024.3,291.0 L1021.9,295.2ZM997.0,304.2 L996.7,304.1 L1000.2,312.1 L1000.4,312.0ZM995.1,227.0 L997.9,229.5 L1000.8,229.0 L1001.3,227.8 L1000.8,226.0 L994.6,226.0ZM1011.0,227.2 L1012.0,226.0 L1007.0,226.0ZM1030.2,228.3 L1033.3,232.2 L1037.5,230.7 L1038.0,226.0 L1030.3,226.0ZM1054.7,227.2 L1062.6,227.1 L1062.7,227.1 L1062.4,226.0 L1052.9,226.0 L1052.9,226.1ZM1062.7,227.1 L1068.3,226.0 L1062.4,226.0ZM1073.5,229.3 L1074.9,228.0 L1075.4,226.0 L1068.7,226.0ZM1001.3,227.8 L1000.8,229.0 L1001.8,230.5 L1007.9,235.8 L1010.4,234.9 L1011.4,233.5 L1011.0,227.2 L1007.0,226.0 L1005.2,226.0ZM1022.8,235.7 L1024.0,234.8 L1026.6,230.4 L1022.1,226.0 L1021.2,226.0 L1019.4,232.2ZM1033.3,232.2 L1030.2,228.3 L1026.6,230.4 L1024.0,234.8 L1032.6,234.6ZM1049.3,228.0 L1048.8,227.9 L1044.0,230.0 L1042.3,232.7 L1046.1,238.3 L1050.1,232.6ZM1074.9,228.0 L1073.5,229.3 L1073.5,231.6 L1081.2,233.9 L1082.7,230.7 L1081.8,227.8ZM1005.7,240.0 L1007.9,235.8 L1001.8,230.5 L998.3,238.9 L998.7,239.5ZM1032.6,234.6 L1024.0,234.8 L1022.8,235.7 L1022.6,239.9 L1025.6,242.4 L1034.3,241.3ZM1055.4,234.2 L1050.1,232.6 L1046.1,238.3 L1046.1,238.8 L1051.6,241.9 L1056.7,235.7ZM1062.3,235.3 L1056.7,235.7 L1051.6,241.9 L1051.6,242.1 L1056.8,243.6 L1062.5,236.7 L1062.4,235.8ZM1069.6,239.9 L1073.3,237.8 L1072.2,233.9 L1062.7,234.6 L1062.3,235.3 L1062.4,235.8ZM1081.8,236.5 L1079.1,241.4 L1081.3,243.3 L1086.0,243.8 L1085.3,239.3 L1084.5,236.6ZM1008.8,243.9 L1012.2,247.6 L1016.4,246.1 L1017.3,241.9 L1016.7,241.6ZM1051.6,242.1 L1050.8,248.1 L1054.2,252.5 L1059.3,245.3 L1056.8,243.6ZM1056.8,243.6 L1059.3,245.3 L1064.1,245.6 L1064.4,245.3 L1062.5,236.7ZM1046.9,249.1 L1046.2,256.3 L1052.1,256.1 L1054.5,253.2 L1054.2,252.5 L1050.8,248.1ZM1067.1,245.4 L1064.4,245.3 L1064.1,245.6 L1062.2,253.0 L1064.6,255.5 L1068.9,252.4 L1068.1,245.8ZM1068.9,252.4 L1074.6,252.8 L1074.9,250.6 L1073.4,246.2 L1068.1,245.8ZM1013.1,256.2 L1013.1,255.3 L1010.0,252.9 L1008.5,252.8 L1003.6,257.4 L1005.5,259.9 L1009.8,260.1ZM1028.8,252.1 L1028.2,254.2 L1030.6,258.8 L1036.0,259.4 L1037.1,253.9 L1031.8,250.9ZM1040.6,252.0 L1040.0,252.0 L1037.1,253.9 L1036.0,259.4 L1037.5,261.1 L1044.3,257.9 L1044.6,257.1ZM1026.4,266.5 L1032.3,271.9 L1033.0,268.2 L1028.3,265.5 L1027.2,265.7ZM1047.9,274.5 L1042.3,269.9 L1039.0,273.9 L1039.8,278.0 L1044.9,279.0 L1046.3,277.8ZM862.9,240.7 L868.6,239.9 L868.5,234.9 L868.0,234.5 L864.2,234.1 L863.0,236.5 L861.6,239.4ZM892.5,237.8 L898.3,240.0 L903.7,233.7 L895.6,232.2 L892.5,234.9ZM880.0,247.6 L880.0,246.7 L871.4,243.2 L870.3,247.7 L871.7,250.7 L875.4,253.3 L877.8,252.6ZM890.1,252.9 L890.3,252.7 L890.7,248.0 L890.2,246.9 L881.6,244.7 L881.4,244.7 L880.0,246.7 L880.0,247.6ZM898.3,245.8 L890.7,248.0 L890.3,252.7 L899.1,254.0 L901.0,252.8 L901.0,252.7ZM882.2,211.8 L888.5,209.4 L888.9,205.4 L886.1,203.0 L881.7,209.7ZM888.0,225.4 L892.2,225.4 L894.4,223.1 L894.3,219.0 L893.3,218.4 L887.0,222.0ZM875.9,225.5 L875.9,225.5 L883.9,225.4 L883.2,222.3 L881.8,221.0 L880.3,221.4ZM894.4,223.1 L892.2,225.4 L896.5,225.4ZM1053.8,176.4 L1051.0,174.5 L1050.1,173.6 L1048.5,174.7 L1048.3,176.4 L1049.6,178.6ZM1050.0,193.5 L1047.9,195.9 L1048.5,201.1 L1050.2,201.4 L1055.0,198.4 L1055.5,197.3 L1055.1,195.0ZM1067.1,197.6 L1072.0,198.0 L1073.2,197.4 L1072.1,194.3 L1068.0,191.3ZM1034.8,203.4 L1032.9,205.5 L1032.9,208.9 L1035.2,213.2 L1039.8,211.9 L1041.4,209.8 L1040.8,206.8ZM1040.8,206.8 L1041.4,209.8 L1046.7,208.9 L1045.5,202.1 L1044.0,201.7ZM1057.1,203.1 L1052.2,206.5 L1051.9,211.1 L1057.2,210.1 L1059.1,207.9 L1059.4,204.9ZM1059.4,204.9 L1059.1,207.9 L1064.5,209.6 L1067.7,207.2 L1065.0,201.7ZM1059.1,207.9 L1057.2,210.1 L1062.1,215.9 L1062.9,216.3 L1063.2,216.2 L1064.5,209.6ZM1054.6,221.8 L1057.3,223.5 L1062.0,219.7 L1062.9,216.3 L1062.1,215.9 L1053.9,217.2ZM1062.0,219.7 L1066.7,226.0 L1067.4,226.0 L1067.8,225.5 L1068.8,216.7 L1063.2,216.2 L1062.9,216.3ZM1072.5,224.1 L1075.8,217.2 L1072.7,215.1 L1068.8,216.7 L1067.8,225.5ZM1062.0,219.7 L1057.3,223.5 L1058.0,226.0 L1066.7,226.0ZM1057.6,164.4 L1058.4,162.6 L1055.2,162.6ZM1057.6,165.3 L1056.2,166.6 L1056.7,170.6 L1060.3,175.7 L1062.5,174.9 L1063.8,168.5ZM1070.8,171.4 L1074.6,168.4 L1074.4,166.4 L1066.6,165.6 L1065.3,167.8ZM1082.6,163.5 L1075.5,162.7 L1074.4,166.4 L1074.6,168.4 L1079.0,171.6ZM1063.8,168.5 L1062.5,174.9 L1066.3,177.3 L1068.3,177.6 L1070.7,175.6 L1070.8,171.4 L1065.3,167.8ZM1070.7,175.6 L1075.4,176.3 L1079.5,172.6 L1079.0,171.6 L1074.6,168.4 L1070.8,171.4ZM1069.6,180.9 L1077.2,184.0 L1077.1,182.6 L1075.4,176.3 L1070.7,175.6 L1068.3,177.6ZM1069.6,180.9 L1067.4,185.7 L1071.6,189.3 L1076.7,187.6 L1077.9,185.1 L1077.2,184.0ZM1086.7,189.1 L1089.9,190.6 L1093.2,188.4 L1093.4,188.0 L1086.1,188.0ZM1079.9,195.8 L1075.7,202.5 L1081.4,204.4 L1082.6,202.7 L1082.5,197.5 L1079.9,195.7ZM1081.4,209.2 L1081.4,209.2 L1083.6,208.6 L1086.2,204.0 L1082.6,202.7 L1081.4,204.4ZM1081.4,209.2 L1082.2,211.1 L1083.6,208.6Z"/>
</g>
<polygon points="1112,143 1142,132.5 1144,133.5 1144,135.5 1114,146.5" fill="#f0c4b8" stroke="#222" stroke-width="0.6"/>
<path d="M1073,170 L1076,180 L1077,192 L1079,204 L1081,214 L1082,222 L1079,222 L1076,212 L1073,200 L1072,188 L1071,176 Z" fill="#c8d2d4"/>
<g fill="none" stroke="#111" stroke-width="0.9" stroke-linejoin="round">
<polygon points="653.0,227.6 700.5,227.6 700.5,265.0 716.3,272.0 735.0,275.7 760.0,279.5 788.0,280.7 793.6,280.7 793.6,295.0 794.5,297.0 800.0,323.0 797.3,353.0 797.3,355.8 778.7,364.2 760.0,375.4 751.8,381.0 743.4,390.3 741.5,401.5 744.3,416.5 742.5,424.0 727.5,417.4 716.3,412.7 710.7,401.5 705.1,390.3 697.7,379.0 690.2,366.0 677.0,355.0 664.0,354.0 658.5,355.0 654.7,361.4 649.0,368.0 634.2,360.5 626.7,349.3 623.0,338.0 614.6,332.5 604.3,323.0 596.0,317.5 596.0,313.0 653.0,313.0"/>
<polygon points="653.0,218.0 785.2,218.0 787.0,227.2 788.0,280.7 760.0,279.5 735.0,275.7 716.3,272.0 700.5,265.0 700.5,227.6 653.0,227.6"/>
<polygon points="787.0,227.2 855.2,227.2 855.2,236.5 863.0,236.5 855.2,253.3 844.0,273.8 839.5,295.0 793.6,295.0 793.6,280.7 788.0,280.7"/>
<polygon points="793.6,295.0 839.5,295.0 842.1,297.0 832.8,326.9 832.8,331.5 860.8,331.5 864.5,347.4 864.5,351.0 870.0,358.6 868.2,368.0 857.0,363.2 845.8,367.0 838.4,362.3 827.2,356.7 816.0,357.6 808.5,355.8 797.3,355.8 797.3,353.0 800.0,323.0 794.5,297.0"/>
<polygon points="854.0,256.6 886.9,256.6 883.2,343.6 875.7,346.4 864.5,351.0 864.5,347.4 860.8,331.5 832.8,331.5 832.8,326.9 842.1,297.0 839.5,295.0 844.0,273.8 855.2,253.3"/>
<polygon points="886.9,256.6 928.2,256.6 936.8,308.0 938.0,332.6 895.9,332.6 894.4,344.6 883.2,343.6"/>
<polygon points="928.2,256.6 948.0,256.6 965.9,257.3 972.5,268.5 980.4,281.7 991.0,293.6 996.2,302.8 1000.2,312.1 996.6,321.0 994.8,336.0 993.6,337.8 985.7,337.8 938.0,337.8 938.0,332.6 936.8,308.0"/>
<polygon points="895.9,332.6 938.0,332.6 938.0,337.8 985.7,337.8 993.6,337.8 994.8,336.0 995.1,343.6 997.8,357.1 1003.3,369.3 1007.3,377.5 1011.4,391.0 1014.8,404.6 1014.8,425.0 1012.8,431.8 1008.7,435.8 1003.0,437.5 999.2,437.2 995.1,429.0 988.3,422.3 984.3,414.0 980.2,406.0 974.8,393.8 971.4,383.0 973.4,374.8 970.7,368.0 964.0,361.2 954.4,353.0 946.3,350.4 939.0,353.0 930.7,355.8 920.5,346.4 909.3,343.6 894.4,344.6"/>
<polygon points="965.9,257.3 977.8,254.0 1001.5,254.6 1005.5,259.9 1020.0,260.6 1038.5,277.7 1030.0,292.5 1025.3,293.6 1012.1,302.8 1000.2,312.1 996.2,302.8 991.0,293.6 980.4,281.7 972.5,268.5"/>
<polygon points="948.0,256.6 953.2,248.5 961.1,241.9 973.0,236.6 983.6,231.3 988.9,226.0 1081.3,226.0 1085.3,239.3 1086.6,247.2 1080.0,252.5 1072.1,260.4 1064.0,262.6 1054.5,270.0 1047.0,279.4 1038.5,277.7 1020.0,260.6 1005.5,259.9 1001.5,254.6 977.8,254.0 965.9,257.3"/>
<polygon points="868.5,225.5 957.2,225.2 988.9,226.0 983.6,231.3 973.0,236.6 961.1,241.9 953.2,248.5 948.0,256.6 854.0,256.6 855.2,253.3 863.0,236.5"/>
<polygon points="868.5,225.5 871.0,218.8 881.3,210.4 888.3,199.7 896.0,199.7 912.0,198.4 920.0,195.0 930.6,185.2 940.0,176.0 948.0,178.5 958.5,183.8 971.7,184.4 975.7,193.0 983.6,208.9 973.0,216.8 957.2,225.2"/>
<polygon points="957.2,225.2 973.0,216.8 983.6,208.9 990.2,212.8 998.1,211.5 1008.7,206.2 1014.0,199.6 1019.3,190.4 1024.5,186.4 1029.8,178.5 1035.1,174.5 1041.7,169.2 1047.0,170.6 1051.0,174.5 1058.9,179.8 1061.5,185.1 1066.8,190.4 1072.1,194.3 1076.0,205.0 1078.0,215.0 1081.3,226.0 988.9,226.0"/>
<polygon points="971.7,184.4 981.0,179.8 983.6,174.5 990.2,170.6 995.5,166.6 1002.0,160.0 1004.0,150.0 1006.9,145.0 1008.7,145.0 1008.7,166.0 1041.7,166.0 1047.0,170.6 1041.7,169.2 1035.1,174.5 1029.8,178.5 1024.5,186.4 1019.3,190.4 1014.0,199.6 1008.7,206.2 998.1,211.5 990.2,212.8 983.6,208.9 975.7,193.0"/>
<polygon points="1008.7,162.6 1084.0,162.6 1084.0,188.0 1093.7,188.0 1089.0,199.0 1080.6,214.0 1078.0,215.0 1076.0,205.0 1072.1,194.3 1066.8,190.4 1061.5,185.1 1058.9,179.8 1051.0,174.5 1047.0,170.6 1041.7,166.0 1008.7,166.0"/>
<polyline points="567.0,136.5 668.4,136.5"/>
<polyline points="636.4,132.0 636.4,136.5"/>
<polyline points="668.4,136.5 668.4,218.0"/>
<polyline points="567.0,218.0 653.0,218.0"/>
<polyline points="653.0,218.0 653.0,313.0"/>
<polyline points="668.4,157.2 774.0,157.2"/>
<polyline points="765.6,132.0 768.0,145.4 774.0,157.2 779.6,162.8 785.2,175.0 785.2,218.0"/>
<polyline points="768.4,145.4 834.6,145.4"/>
<polyline points="842.0,132.0 835.0,148.0 834.6,152.5 846.8,175.0 855.2,182.4 852.4,193.6 866.4,210.4 871.0,218.8"/>
<polyline points="897.2,132.0 897.2,178.6 893.0,192.0 888.8,201.0"/>
<polyline points="939.5,132.0 939.5,177.0"/>
<polyline points="1008.8,132.0 1008.8,145.0"/>
<polyline points="1084.0,162.6 1090.0,160.0"/>
<polyline points="797.3,355.8 778.7,364.2 760.0,375.4 751.8,381.0 743.4,390.3 741.5,401.5 744.3,416.5 742.5,424.0 727.5,417.4 716.3,412.7 710.7,401.5 705.1,390.3 697.7,379.0 690.2,366.0 677.0,355.0 664.0,354.0 658.5,355.0 654.7,361.4 649.0,368.0 634.2,360.5 626.7,349.3 623.0,338.0 614.6,332.5 604.3,323.0 596.0,317.5"/>
</g>
<g font-family="Liberation Sans" font-weight="700" font-size="7" fill="#222" text-anchor="middle" stroke="#fff" stroke-width="2" paint-order="stroke" letter-spacing="0.8">
<text x="612.0" y="176.5">CO</text>
<text x="720.6" y="189.5">KS</text>
<text x="817.0" y="196.5">MO</text>
<text x="739.6" y="241.9">OK</text>
<text x="606.4" y="271.7">NM</text>
<text x="820.0" y="257.0">AR</text>
<text x="869.6" y="156.7">IL</text>
<text x="916.3" y="161.0">IN</text>
<text x="973.7" y="151.0">OH</text>
<text x="1043.0" y="137.1">PA</text>
<text x="1066.0" y="170.6">MD</text>
<text x="1004.9" y="185.0">WV</text>
<text x="931.8" y="209.6">KY</text>
<text x="1038.4" y="206.5">VA</text>
<text x="921.8" y="240.0">TN</text>
<text x="1025.7" y="248.4">NC</text>
<text x="1001.5" y="279.8">SC</text>
<text x="863.6" y="299.5">MS</text>
<text x="908.4" y="300.3">AL</text>
<text x="965.2" y="309.5">GA</text>
<text x="719.0" y="319.3">TX</text>
<text x="821.4" y="335.4">LA</text>
<text x="984.0" y="372.5">FL</text>
</g>
<g font-family="Liberation Sans" font-style="italic" font-size="9" fill="#97a2a4" text-anchor="middle" letter-spacing="1.2"><text x="862" y="428">Gulf of</text><text x="862" y="442">Mexico</text></g>
<path d="M984,446 L990,444 L994,443 L996,444 L992,446 L986,447Z M998,445 L1004,442 L1010,438 L1013,434 L1011,439 L1005,443 L999,446Z" fill="#8a0a08" stroke="#111" stroke-width="0.5"/>
<g fill="#eeeeed" opacity="0.8"><path d="M1037,412 l8,-2 l3,1 l-9,3z"/><path d="M1059,410 l3,4 l-2,6 l-2,-4z"/><path d="M1046,437 l4,3 l2,8 l3,6 l-1,6 l-4,-4 l-2,-8z"/></g></g></svg>

<!-- legend -->
<div class="a" style="left:588px;top:478px;width:542px;height:26px;border:1px solid #8a8a8a;display:flex;background:#8a8a8a">
<div style="flex:1;background:#feefd3;margin-right:1px;font:700 13.5px 'Liberation Sans';color:#222;padding:3.5px 0 0 7px">14</div>
<div style="flex:1;background:#f2a86f;margin-right:1px;font:700 13.5px 'Liberation Sans';color:#222;padding:3.5px 0 0 7px">112</div>
<div style="flex:1;background:#e05535;margin-right:1px;font:700 13.5px 'Liberation Sans';color:#fff;padding:3.5px 0 0 7px">196</div>
<div style="flex:1;background:#b21b13;margin-right:1px;font:700 13.5px 'Liberation Sans';color:#fff;padding:3.5px 0 0 7px">301</div>
<div style="flex:1;background:#780003;font:700 13.5px 'Liberation Sans';color:#fff;padding:3.5px 0 0 7px">428</div>
</div>
<div class="a" style="left:589px;top:509px;font-size:9.5px;color:#222;letter-spacing:-0.45px">Source: AIDSVu</div>
<div class="a" style="left:877px;top:511px;width:9px;height:9px;border:1px solid #444;background:#fff"></div>
<div class="a" style="left:889px;top:509px;font-size:9.5px;color:#222">0</div>
<div class="a" style="left:906px;top:511px;width:9px;height:9px;border:1px solid #444;background:#ddd"></div>
<div class="a" style="left:918px;top:509px;font-size:9.5px;color:#222;letter-spacing:-0.45px">Data not shown</div>
<div class="a" style="left:1006px;top:511px;width:9px;height:9px;border:1px solid #444;background:#bbb"></div>
<div class="a" style="left:1018px;top:509px;font-size:9.5px;color:#222;letter-spacing:-0.45px">Data not released to AIDSVu</div>

<!-- section 2 -->
<div class="sec2"></div>
<div class="acc" style="left:63px;top:557px;width:14px;height:7px;background:#b71c70"></div>
<div class="acc" style="left:77px;top:557px;width:43px;height:7px;background:#ec9e22"></div>
<div class="acc" style="left:120px;top:557px;width:23px;height:7px;background:#57c451"></div>
<h1 style="left:63px;top:588.5px;font-size:26.5px;line-height:31px;letter-spacing:0.72px;transform:scaleX(1.09);transform-origin:0 0;-webkit-text-stroke:0.8px #1b1536">New HIV Diagnoses &amp; PrEP Use</h1>
<div class="p2"><span style="letter-spacing:0.62px">Pre-exposure prophylaxis, or <b>PrEP, can protect people from acquiring HIV</b>. We know that PrEP works in reducing new HIV diagnoses.</span><br><span style="letter-spacing:0.45px">Yet, PrEP use is not equitable. For example, <b>Black people represented half (49%) of new HIV diagnoses in the South, yet were only</b></span><br><span style="letter-spacing:0.33px"><b>21% of PrEP users in the region</b>.</span></div>

<div class="wcard" style="left:62px;top:707px;width:619px;height:177px"></div>
<div class="wcard" style="left:696px;top:707px;width:448px;height:164px"></div>
<div class="wcard" style="left:696px;top:883px;width:448px;height:1px"></div>

<div class="ct" style="left:105px;top:723px;width:560px;font-size:13.5px;line-height:16.5px;letter-spacing:-0.25px;white-space:nowrap">Number of PrEP Users in the South, 2012-2023 vs. Number of New HIV Diagnoses in<br>the South, 2008-2021</div>
<div class="ct" style="left:712px;top:723px;width:430px;font-size:13.5px;line-height:16.5px;letter-spacing:-0.37px;white-space:nowrap">Percent of people newly diagnosed with HIV in the South, by<br>Race/Ethnicity, 2021</div>

<svg class="a" style="left:0;top:0" width="1211" height="884" viewBox="0 0 1211 884">
<g stroke="#d6d6d6" stroke-width="1">
<line x1="144" y1="768.5" x2="633" y2="768.5"/>
<line x1="144" y1="813.5" x2="633" y2="813.5"/>
<line x1="144" y1="857.5" x2="633" y2="857.5"/>
</g>
<g font-family="Liberation Sans" font-size="9.5" fill="#555" letter-spacing="-0.25">
<text x="105" y="771.5">250000</text>
<text x="105" y="816">200000</text>
<text x="105" y="860.5">150000</text>
</g>
<text transform="translate(85,821) rotate(-90)" text-anchor="end" font-family="Liberation Sans" font-weight="700" font-size="9" fill="#333" letter-spacing="-0.55">NUMBER OF PrEP USERS</text>
<text transform="translate(665,803) rotate(-90)" text-anchor="end" font-family="Liberation Sans" font-weight="700" font-size="9" fill="#333" letter-spacing="-0.55">NUMBER OF NEW HIV DIAGNOSES</text>
<g fill="#07873f">
<rect x="510" y="887" width="15" height="10"/>
<rect x="541" y="865" width="15" height="30"/>
<rect x="571" y="844" width="15" height="50"/>
<rect x="602" y="815.5" width="15" height="80"/>
</g>
<g fill="#08853f" stroke="#0a5a2c" stroke-width="1">
<path d="M502.5,876.5 h31 v12 h-22 l6,18 l-11,-18 h-4 z"/>
<path d="M533.5,849.5 h31 v12 h-22 l6,18 l-11,-18 h-4 z"/>
<path d="M563.5,828.5 h31 v12 h-22 l6,18 l-11,-18 h-4 z"/>
<path d="M594,800.5 h31 v12 h-22 l6,18 l-11,-18 h-4 z"/>
</g>
<g font-family="Liberation Sans" font-weight="700" font-size="7.8" fill="#fff" text-anchor="middle" letter-spacing="-0.3">
<text x="518" y="886">112020</text>
<text x="549" y="859">141699</text>
<text x="579" y="838">165660</text>
<text x="609.5" y="810">197606</text>
</g>
<!-- stacked bar -->
<rect x="710" y="764" width="212" height="61" fill="#001f54"/>
<rect x="922" y="764" width="102" height="61" fill="#145e8e"/>
<rect x="1024" y="764" width="98" height="61" fill="#4f9b8f"/>
<g font-family="Liberation Sans" font-weight="700" font-size="12" fill="#fff" text-anchor="middle">
<text x="816" y="798.5">49%</text>
<text x="973" y="798.5">24%</text>
<text x="1072.5" y="798.5">23%</text>
</g>
<circle cx="725.7" cy="850.6" r="11.5" fill="#001f54"/>
<circle cx="820" cy="850.6" r="11.5" fill="#145e8e"/>
<circle cx="958.5" cy="850.6" r="11.5" fill="#4f9b8f"/>
<g font-family="Liberation Sans" font-weight="700" font-size="10" fill="#333" letter-spacing="-0.6">
<text x="745" y="854">BLACK</text>
<text x="841.5" y="854">HISPANIC/LATINX</text>
<text x="977.4" y="854">WHITE</text>
</g>
</svg>
</body></html>
